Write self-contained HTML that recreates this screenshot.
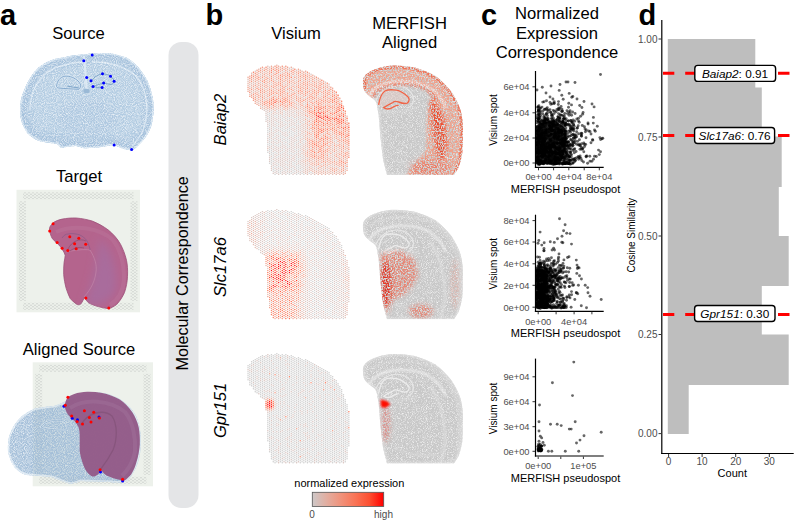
<!DOCTYPE html>
<html><head><meta charset="utf-8">
<style>
html,body{margin:0;padding:0;background:#fff;}
body{width:800px;height:522px;overflow:hidden;position:relative;font-family:"Liberation Sans",sans-serif;}
svg{position:absolute;left:0;top:0;}
.t{font-family:"Liberation Sans",sans-serif;fill:#000;}
.pl{font-weight:bold;font-size:29px;}
.h{font-size:16.6px;}
.ax{font-size:10px;fill:#4d4d4d;}
.axc{font-size:9.3px;fill:#4d4d4d;}
.at{font-size:11px;}
</style></head><body>
<svg width="800" height="522" viewBox="0 0 800 522">
<!-- panel labels -->
<text class="t pl" x="0" y="25">a</text>
<text class="t pl" x="205.6" y="25.4">b</text>
<text class="t pl" x="481" y="25">c</text>
<text class="t pl" x="638.6" y="25.4">d</text>

<!-- panel a titles -->
<text class="t h" x="78.5" y="39.3" text-anchor="middle">Source</text>
<text class="t h" x="79" y="182" text-anchor="middle">Target</text>
<text class="t h" x="79" y="354.5" text-anchor="middle">Aligned Source</text>

<!-- pill -->
<rect x="168.5" y="42" width="30" height="466" rx="13" ry="13" fill="#e4e5e7"/>
<text class="t" font-size="16.2" transform="translate(187.9,273.4) rotate(-90)" text-anchor="middle">Molecular Correspondence</text>

<!-- panel b titles -->
<text class="t h" x="296" y="38.8" text-anchor="middle">Visium</text>
<text class="t h" x="409.6" y="29" text-anchor="middle">MERFISH</text>
<text class="t h" x="409.6" y="48.4" text-anchor="middle">Aligned</text>
<text class="t h" font-style="italic" transform="translate(226,119.6) rotate(-90)" text-anchor="middle">Baiap2</text>
<text class="t h" font-style="italic" transform="translate(226,267) rotate(-90)" text-anchor="middle">Slc17a6</text>
<text class="t h" font-style="italic" transform="translate(226,410.4) rotate(-90)" text-anchor="middle">Gpr151</text>

<!-- panel c title -->
<text class="t h" x="557" y="19.4" text-anchor="middle">Normalized</text>
<text class="t h" x="557" y="39" text-anchor="middle">Expression</text>
<text class="t h" x="557" y="58.3" text-anchor="middle">Correspondence</text>


<g id="pa">
<defs><pattern id="fidp" width="4.0" height="3.0" patternUnits="userSpaceOnUse"><circle cx="1" cy="0.75" r="0.75" fill="#c9cdc9"/><circle cx="3" cy="2.25" r="0.75" fill="#c9cdc9"/></pattern>
<filter id="speckA" x="0" y="0" width="100%" height="100%" filterUnits="objectBoundingBox"><feTurbulence type="fractalNoise" baseFrequency="1.1" numOctaves="1" seed="9" result="n"/><feColorMatrix in="n" type="matrix" values="0 0 0 0 0  0 0 0 0 0  0 0 0 0 0  1.8 0 0 0 -0.1" result="a"/><feComposite in="SourceGraphic" in2="a" operator="in"/></filter>
<filter id="blS" x="-50%" y="-50%" width="200%" height="200%"><feGaussianBlur stdDeviation="3"/></filter>
<filter id="blS1" x="-50%" y="-50%" width="200%" height="200%"><feGaussianBlur stdDeviation="0.6"/></filter>
<clipPath id="tgtclip"><path d="M51.1,225.1 C49.5,227 49.3,229 49.7,231.1 C50.2,234 51,236 52.1,238.2 C53.5,240 55,241.5 57.1,243.2 C59,245 61,247 62.1,249.2 C63.5,251 64.5,253 65.2,255.3 C65,258 64.5,260 64.1,262.3 C63.7,266 63.6,270 63.7,274.4 C64,279 65,284 66.2,288.5 C67.5,292 68.5,295.5 70.2,298.5 C72.5,301 74.5,303 77.2,304.6 C79,304.8 80.5,304.5 81.2,303.6 C82.5,301.5 83.5,299.5 84.3,297.5 C85.5,299.5 86.8,301 88.3,302.6 C91.5,304.5 95,305.8 98.4,306.6 C102,307.6 105,308.3 108.4,308.6 C111.5,307.8 114,306.5 116.5,304.6 C120,301 122.5,297 124.5,292.5 C126.3,287 127.3,282 127.5,276.4 C127.8,270 127.5,265 126.5,260.3 C125,254 123,249 120.5,244.2 C117,238 113,234 108.4,230.1 C103,226 98,223.5 92.3,221.1 C87,219.5 82,218.5 76.2,218 C71,217.8 66.5,218.3 62.1,219.1 C59,219.8 56.5,220.7 54.1,222.1 C53,223 52,224 51.1,225.1 Z"/></clipPath>
<filter id="blA" x="-50%" y="-50%" width="200%" height="200%"><feGaussianBlur stdDeviation="4"/></filter>
<clipPath id="srcclip"><path d="M34,72.4 C40,65 46.6,61.8 55,59 C60,57.8 63.4,57.6 70,56 C76,54.5 82.4,54.5 93,53.4 C100,53 106,53 111.6,53.4 C118,54.5 122,56 126.3,57.6 C132,61 136,64.5 139,68.2 C143,73 145.5,77 147.4,80.8 C150,87 151.8,92 152.6,97.6 C153.5,102 153.8,105 153.7,108.2 C153.5,114 152.8,119 151.6,125 C150,130 148,134 145.3,137.6 C142,142 139,145 136.8,147 C134.5,149 133,150 131.6,150.3 C128,150 125,149.5 122,148.2 C119,147 116.5,146 113.7,145 C109,145.2 105,146.5 101,147 C95,147.8 90,148.3 84.2,148.2 C80,147 78,146.5 76,146 C70,146 66,147 61.3,148 C59.5,146 58.5,144.8 57,144 C50,143 44,142.2 38.2,140.8 C34,138.5 30.5,136 27.6,133.4 C24.5,129 22.5,125 21.3,120.8 C20,115 19.8,109 20.3,104 C21,98 23,92 25.5,87 C28,81 31,76 34,72.4 Z"/></clipPath>
<clipPath id="alnclip"><path d="M64.3,402 C60,404 56.5,405 53.6,406 C47,406.5 41,407.5 34.9,408.6 C28,411.5 23,415 18.8,419.3 C14.5,424 11.5,429.5 9.4,435.4 C8,440.5 7.7,446 8,451.5 C9,457 11.3,462.5 14.7,467.6 C17.5,470.5 20.5,472.8 24.1,474.3 C27.5,475.3 31,475.6 34.9,475.6 C40,476 45.5,476.4 51,477 C54.5,478 58,479.5 61.7,481 C64.5,482.2 67.5,483.2 71,483.7 C74,483.3 77.5,482.3 80.4,481 L110,482 C118,483 124,483 128,480 C135,472 140,462 141,444 C141,428 138,418 133,411 C126,402 118,397 108,394 C95,391 82,393 74,396 C70,398 67,400 64.3,402 Z"/></clipPath></defs>
<g filter="url(#speckA)"><g clip-path="url(#srcclip)">
<rect x="15" y="50" width="145" height="105" fill="#b3cce2"/>
<path d="M34,72.4 C40,65 46.6,61.8 55,59 C60,57.8 63.4,57.6 70,56 C76,54.5 82.4,54.5 93,53.4 C100,53 106,53 111.6,53.4 C118,54.5 122,56 126.3,57.6 C132,61 136,64.5 139,68.2 C143,73 145.5,77 147.4,80.8 C150,87 151.8,92 152.6,97.6 C153.5,102 153.8,105 153.7,108.2 C153.5,114 152.8,119 151.6,125 C150,130 148,134 145.3,137.6 C142,142 139,145 136.8,147 C134.5,149 133,150 131.6,150.3 C128,150 125,149.5 122,148.2 C119,147 116.5,146 113.7,145 C109,145.2 105,146.5 101,147 C95,147.8 90,148.3 84.2,148.2 C80,147 78,146.5 76,146 C70,146 66,147 61.3,148 C59.5,146 58.5,144.8 57,144 C50,143 44,142.2 38.2,140.8 C34,138.5 30.5,136 27.6,133.4 C24.5,129 22.5,125 21.3,120.8 C20,115 19.8,109 20.3,104 C21,98 23,92 25.5,87 C28,81 31,76 34,72.4 Z" fill="none" stroke="#a5c1dc" stroke-width="18" filter="url(#blS)"/>
<path d="M34,72.4 C40,65 46.6,61.8 55,59 C60,57.8 63.4,57.6 70,56 C76,54.5 82.4,54.5 93,53.4 C100,53 106,53 111.6,53.4 C118,54.5 122,56 126.3,57.6 C132,61 136,64.5 139,68.2 C143,73 145.5,77 147.4,80.8 C150,87 151.8,92 152.6,97.6 C153.5,102 153.8,105 153.7,108.2 C153.5,114 152.8,119 151.6,125 C150,130 148,134 145.3,137.6 C142,142 139,145 136.8,147 C134.5,149 133,150 131.6,150.3 C128,150 125,149.5 122,148.2 C119,147 116.5,146 113.7,145 C109,145.2 105,146.5 101,147 C95,147.8 90,148.3 84.2,148.2 C80,147 78,146.5 76,146 C70,146 66,147 61.3,148 C59.5,146 58.5,144.8 57,144 C50,143 44,142.2 38.2,140.8 C34,138.5 30.5,136 27.6,133.4 C24.5,129 22.5,125 21.3,120.8 C20,115 19.8,109 20.3,104 C21,98 23,92 25.5,87 C28,81 31,76 34,72.4 Z" fill="none" stroke="#cfe0ef" stroke-width="2.5"/>
<path d="M30,110 C30,90 40,75 55,68 C70,62 82,62 86,62 M92,62 C110,62 125,66 136,76 C146,88 148,105 146,120 C144,132 138,140 132,146" fill="none" stroke="#d2e2f0" stroke-width="1.3" filter="url(#blS1)"/>
<ellipse cx="88" cy="118" rx="30" ry="18" fill="#a9c4de" fill-opacity="0.5" filter="url(#blS)"/>
</g></g>
<path d="M84.1,56 L86.7,89" stroke="#dce9f4" stroke-width="2.2" fill="none"/>
<path d="M56.6,86.2 C57,81 60,77 64.9,76.2 C70,75.8 75,78 78,81 C80,83 81,85 80.6,86.2 C80,88.5 79,89.3 78.9,89.3 C72,89 64,88.6 58.7,88 C57,87.6 56.5,87 56.6,86.2 Z" fill="none" stroke="#d9e7f3" stroke-width="2.2"/>
<path d="M56.6,86.2 C57,81 60,77 64.9,76.2 C70,75.8 75,78 78,81 C80,83 81,85 80.6,86.2 C80,88.5 79,89.3 78.9,89.3 C72,89 64,88.6 58.7,88 C57,87.6 56.5,87 56.6,86.2 Z" fill="none" stroke="#7aa2c8" stroke-width="0.9"/>
<path d="M67.5,86.2 L78.9,88" fill="none" stroke="#78a0c6" stroke-width="0.9"/>
<path d="M91.1,81 C94,77 97,75.5 102.5,73.6 C106,74 109,75 110.4,76.2 C112.5,78 114,80 114.3,81.4 C113,83.5 112,84.5 111.2,84.5 C108,84 106,83.5 103.4,83.2 C100,84 96,85.5 93.3,86.2 C96,87.5 99,88 101.6,87.6" fill="none" stroke="#78a0c6" stroke-width="0.9"/>
<ellipse cx="86.5" cy="91" rx="3.2" ry="2.2" fill="#9ab9d6"/>
<circle cx="92.2" cy="54.9" r="1.5" fill="#0000ff"/>
<circle cx="83.8" cy="60.8" r="1.5" fill="#0000ff"/>
<circle cx="86.7" cy="77.6" r="1.5" fill="#0000ff"/>
<circle cx="91" cy="80.8" r="1.5" fill="#0000ff"/>
<circle cx="93" cy="86.5" r="1.5" fill="#0000ff"/>
<circle cx="102.1" cy="87.5" r="1.5" fill="#0000ff"/>
<circle cx="103.6" cy="82.9" r="1.5" fill="#0000ff"/>
<circle cx="102.5" cy="73.8" r="1.5" fill="#0000ff"/>
<circle cx="110.5" cy="76.2" r="1.5" fill="#0000ff"/>
<circle cx="114.1" cy="81.2" r="1.5" fill="#0000ff"/>
<circle cx="114.1" cy="145" r="1.5" fill="#0000ff"/>
<circle cx="131.6" cy="149.6" r="1.5" fill="#0000ff"/>
<rect x="16.5" y="189.8" width="123.5" height="122.5" fill="#edf1eb"/>
<rect x="23.0" y="192.3" width="110.5" height="7" fill="url(#fidp)"/>
<rect x="23.0" y="302.8" width="110.5" height="7" fill="url(#fidp)"/>
<rect x="19.0" y="201.3" width="7" height="99.5" fill="url(#fidp)"/>
<rect x="130.5" y="201.3" width="7" height="99.5" fill="url(#fidp)"/>
<path d="M51.1,225.1 C49.5,227 49.3,229 49.7,231.1 C50.2,234 51,236 52.1,238.2 C53.5,240 55,241.5 57.1,243.2 C59,245 61,247 62.1,249.2 C63.5,251 64.5,253 65.2,255.3 C65,258 64.5,260 64.1,262.3 C63.7,266 63.6,270 63.7,274.4 C64,279 65,284 66.2,288.5 C67.5,292 68.5,295.5 70.2,298.5 C72.5,301 74.5,303 77.2,304.6 C79,304.8 80.5,304.5 81.2,303.6 C82.5,301.5 83.5,299.5 84.3,297.5 C85.5,299.5 86.8,301 88.3,302.6 C91.5,304.5 95,305.8 98.4,306.6 C102,307.6 105,308.3 108.4,308.6 C111.5,307.8 114,306.5 116.5,304.6 C120,301 122.5,297 124.5,292.5 C126.3,287 127.3,282 127.5,276.4 C127.8,270 127.5,265 126.5,260.3 C125,254 123,249 120.5,244.2 C117,238 113,234 108.4,230.1 C103,226 98,223.5 92.3,221.1 C87,219.5 82,218.5 76.2,218 C71,217.8 66.5,218.3 62.1,219.1 C59,219.8 56.5,220.7 54.1,222.1 C53,223 52,224 51.1,225.1 Z" fill="#b4648d" stroke="#9c5079" stroke-width="0.8"/>
<g clip-path="url(#tgtclip)"><path d="M100,238 C112,250 118,270 116,290 C112,300 100,308 84,306 C90,290 95,270 97,255 Z" fill="#a96c9c" filter="url(#blA)"/></g>
<path d="M56,232 C75,224 100,228 113,240 C121,250 124,265 124,280 C123,292 118,300 110,305" fill="none" stroke="#bd7ca0" stroke-width="4" stroke-opacity="0.35"/>
<path d="M66,252 C75,250 84,249 90,250 C95,258 97,265 96,272 C95,280 92,288 84,297" fill="none" stroke="#c58aab" stroke-width="1.0" stroke-opacity="0.6"/>
<path d="M62,238 C64,235 66,234 68,234 C72,233 77,234 80,235 C84,237 87,240 88,243 C89,246 90,248 90,250" fill="none" stroke="#8f5a88" stroke-width="1.0" stroke-opacity="0.8"/>
<path d="M68,249 C72,241 80,238 86,241 M70,251 C75,247 80,247 84,248" fill="none" stroke="#8f4f75" stroke-width="0.8"/>
<circle cx="53.1" cy="223.7" r="1.5" fill="#ff0000"/>
<circle cx="49.7" cy="231.1" r="1.5" fill="#ff0000"/>
<circle cx="57.1" cy="242.6" r="1.5" fill="#ff0000"/>
<circle cx="62.1" cy="248.2" r="1.5" fill="#ff0000"/>
<circle cx="67.8" cy="250.6" r="1.5" fill="#ff0000"/>
<circle cx="69.8" cy="236.8" r="1.5" fill="#ff0000"/>
<circle cx="78.8" cy="238.2" r="1.5" fill="#ff0000"/>
<circle cx="74.6" cy="243.8" r="1.5" fill="#ff0000"/>
<circle cx="76.2" cy="248.8" r="1.5" fill="#ff0000"/>
<circle cx="85.7" cy="244.2" r="1.5" fill="#ff0000"/>
<circle cx="85.9" cy="297.9" r="1.5" fill="#ff0000"/>
<circle cx="108.8" cy="308" r="1.5" fill="#ff0000"/>
<rect x="32.7" y="362.3" width="120.3" height="124" fill="#edf1eb"/>
<rect x="39.2" y="364.8" width="107.3" height="7" fill="url(#fidp)"/>
<rect x="39.2" y="476.8" width="107.3" height="7" fill="url(#fidp)"/>
<rect x="35.2" y="373.8" width="7" height="101.0" fill="url(#fidp)"/>
<rect x="143.5" y="373.8" width="7" height="101.0" fill="url(#fidp)"/>
<g filter="url(#speckA)" opacity="0.9"><g clip-path="url(#alnclip)">
<rect x="5" y="385" width="140" height="105" fill="#9dbad6"/>
<path d="M64.3,402 C60,404 56.5,405 53.6,406 C47,406.5 41,407.5 34.9,408.6 C28,411.5 23,415 18.8,419.3 C14.5,424 11.5,429.5 9.4,435.4 C8,440.5 7.7,446 8,451.5 C9,457 11.3,462.5 14.7,467.6 C17.5,470.5 20.5,472.8 24.1,474.3 C27.5,475.3 31,475.6 34.9,475.6 C40,476 45.5,476.4 51,477 C54.5,478 58,479.5 61.7,481 C64.5,482.2 67.5,483.2 71,483.7 C74,483.3 77.5,482.3 80.4,481 L110,482 C118,483 124,483 128,480 C135,472 140,462 141,444 C141,428 138,418 133,411 C126,402 118,397 108,394 C95,391 82,393 74,396 C70,398 67,400 64.3,402 Z" fill="none" stroke="#d4e3f0" stroke-width="3"/>
</g></g>
<path d="M41,427 C45,421 55,419 64,421 C67,424 68,427 67,430 C58,430 48,430 41,427 Z" fill="none" stroke="#e2ecf4" stroke-width="1.6"/>
<path d="M41,427 C45,421 55,419 64,421 C67,424 68,427 67,430 C58,430 48,430 41,427 Z" fill="none" stroke="#7fa3c4" stroke-width="0.7"/>
<path d="M67.9,397.2 C66,399.5 65,402.5 64.7,405.8 C65,409 66.2,412 67.9,414.4 C70,417 72,419 74.3,420.8 C76,423 77.5,425 78.6,427.2 C79.4,430 79.7,433 79.7,435.8 L79.7,450.9 C80.3,455 81.3,459.5 82.9,463.7 C84,467 85.5,470 87.2,472.3 C89,474.5 90.8,476 92.6,476.6 C94.8,476.5 96.5,475.8 97.9,474.5 C99.5,473 100.5,471.5 101.2,470.2 C102.8,472.3 104.5,474 106.5,475.6 C110.5,477.5 115,479 119.4,479.8 C121,480.5 122.3,480.9 123.7,480.9 C126.5,479.5 129,477 131.2,474.5 C134,470 135.5,466 136.6,461.6 C138.3,456 139.4,450 139.8,444.4 C140,438 139.8,433 138.7,427.2 C137.3,421.5 135,416.5 132.3,412.2 C128.5,406.5 124,402.5 119.4,399.3 C114,396 108,394 102.2,392.9 C97,392 92,391.7 87.2,391.8 C82.5,392 78,392.7 74.3,394 C71.8,395 69.5,396 67.9,397.2 Z" fill="#935a87" fill-opacity="0.96"/>
<path d="M70,408 C85,398 110,400 125,412 C133,422 136,438 135,452 C133,462 128,470 122,476" fill="none" stroke="#a07099" stroke-width="4" stroke-opacity="0.5"/>
<path d="M81,425 C88,412 104,409 112,416 C118,425 117,440 113,450 C108,460 103,466 100,470" fill="none" stroke="#87557d" stroke-width="1.3"/>
<circle cx="64" cy="406.2" r="1.5" fill="#0000ff"/>
<circle cx="72.2" cy="418.2" r="1.5" fill="#0000ff"/>
<circle cx="77.5" cy="419.7" r="1.5" fill="#0000ff"/>
<circle cx="99" cy="417" r="1.5" fill="#0000ff"/>
<circle cx="100.5" cy="471.9" r="1.5" fill="#0000ff"/>
<circle cx="122.6" cy="480.9" r="1.5" fill="#0000ff"/>
<circle cx="67.9" cy="397.2" r="1.5" fill="#ff0000"/>
<circle cx="65.3" cy="405.3" r="1.5" fill="#ff0000"/>
<circle cx="71.7" cy="416" r="1.5" fill="#ff0000"/>
<circle cx="77.1" cy="421.4" r="1.5" fill="#ff0000"/>
<circle cx="82.5" cy="424" r="1.5" fill="#ff0000"/>
<circle cx="84.4" cy="410.7" r="1.5" fill="#ff0000"/>
<circle cx="93.7" cy="412.2" r="1.5" fill="#ff0000"/>
<circle cx="89.4" cy="417.6" r="1.5" fill="#ff0000"/>
<circle cx="91" cy="421.9" r="1.5" fill="#ff0000"/>
<circle cx="99.4" cy="418" r="1.5" fill="#ff0000"/>
<circle cx="100.1" cy="469.8" r="1.5" fill="#ff0000"/>
<circle cx="122.6" cy="479.2" r="1.5" fill="#ff0000"/>
</g>

<g id="pb">
<defs><clipPath id="merclip"><path d="M363,79.5 C364,76 366,73.8 370,71.5 C376,68.5 381,67 389.5,65.7 C398,65 406,66 414.8,67.5 C423,70 430,73 435.5,76 C442,81 447,86 451.6,92 C456,99 459,105 460.7,110.6 C462.5,118 463,124 463,129 L462.5,152 C461,160 460,164 458.4,168 L453.9,175 L387,175 C385,168 383.5,162 382.6,156.6 L380.3,135.9 C379.5,125 379,115 377.4,108.3 C377,104 376,101 374,99.5 C370,97 366,94 364,90 C363,86 362.8,83 363,79.5 Z"/></clipPath>
<filter id="bl3" x="-50%" y="-50%" width="200%" height="200%"><feGaussianBlur stdDeviation="3"/></filter>
<filter id="bl2" x="-50%" y="-50%" width="200%" height="200%"><feGaussianBlur stdDeviation="2"/></filter>
<filter id="bl1" x="-50%" y="-50%" width="200%" height="200%"><feGaussianBlur stdDeviation="1"/></filter>
<filter id="speck" x="0" y="0" width="100%" height="100%" filterUnits="objectBoundingBox"><feTurbulence type="fractalNoise" baseFrequency="1.2" numOctaves="1" seed="4" result="n"/><feColorMatrix in="n" type="matrix" values="0 0 0 0 0  0 0 0 0 0  0 0 0 0 0  2.2 0 0 0 -0.2" result="a"/><feComposite in="SourceGraphic" in2="a" operator="in"/></filter>
<filter id="speckR" x="355" y="60" width="115" height="120" filterUnits="userSpaceOnUse"><feTurbulence type="fractalNoise" baseFrequency="0.67" numOctaves="2" seed="17" result="n"/><feColorMatrix in="n" type="matrix" values="0 0 0 0 0  0 0 0 0 0  0 0 0 0 0  4.5 0 0 0 -1.7" result="a"/><feComposite in="SourceGraphic" in2="a" operator="in"/></filter></defs>
<g stroke-width="1.45" stroke-linecap="round" fill="none"><path stroke="#d0d0d0" d="M266.0 117.3h.1M266.0 119.3h.1M267.8 114.3h.1M267.8 128.3h.1M267.8 130.3h.1M267.8 132.3h.1M267.8 136.3h.1M267.8 144.3h.1M267.8 152.3h.1M269.6 113.3h.1M269.6 115.3h.1M269.6 117.3h.1M269.6 119.3h.1M269.6 123.3h.1M269.6 125.3h.1M269.6 127.3h.1M269.6 131.3h.1M269.6 139.3h.1M269.6 141.3h.1M269.6 143.3h.1M269.6 145.3h.1M269.6 149.3h.1M269.6 151.3h.1M269.6 155.3h.1M269.6 163.3h.1M271.4 112.3h.1M271.4 140.3h.1M271.4 144.3h.1M271.4 150.3h.1M271.4 152.3h.1M271.4 154.3h.1M271.4 158.3h.1M271.4 160.3h.1M271.4 162.3h.1M271.4 164.3h.1M273.2 127.3h.1M273.2 129.3h.1M273.2 131.3h.1M273.2 137.3h.1M273.2 147.3h.1M273.2 153.3h.1M273.2 155.3h.1M273.2 157.3h.1M273.2 161.3h.1M273.2 167.3h.1M273.2 169.3h.1M273.2 171.3h.1M275.0 116.3h.1M275.0 122.3h.1M275.0 128.3h.1M275.0 134.3h.1M275.0 136.3h.1M275.0 140.3h.1M275.0 144.3h.1M275.0 152.3h.1M275.0 166.3h.1M275.0 170.3h.1M275.0 174.3h.1M276.8 111.3h.1M276.8 115.3h.1M276.8 117.3h.1M276.8 123.3h.1M276.8 125.3h.1M276.8 127.3h.1M276.8 133.3h.1M276.8 141.3h.1M276.8 145.3h.1M276.8 153.3h.1M276.8 157.3h.1M276.8 163.3h.1M276.8 167.3h.1M278.6 120.3h.1M278.6 124.3h.1M278.6 128.3h.1M278.6 132.3h.1M278.6 134.3h.1M278.6 138.3h.1M278.6 144.3h.1M278.6 146.3h.1M278.6 156.3h.1M278.6 164.3h.1M278.6 166.3h.1M278.6 170.3h.1M278.6 172.3h.1M280.4 115.3h.1M280.4 117.3h.1M280.4 129.3h.1M280.4 133.3h.1M280.4 135.3h.1M280.4 137.3h.1M280.4 143.3h.1M280.4 145.3h.1M280.4 149.3h.1M280.4 153.3h.1M280.4 167.3h.1M280.4 171.3h.1M280.4 173.3h.1M282.2 118.3h.1M282.2 120.3h.1M282.2 128.3h.1M282.2 130.3h.1M282.2 136.3h.1M282.2 138.3h.1M282.2 140.3h.1M282.2 152.3h.1M282.2 156.3h.1M282.2 168.3h.1M282.2 170.3h.1M284.0 111.3h.1M284.0 113.3h.1M284.0 115.3h.1M284.0 119.3h.1M284.0 121.3h.1M284.0 123.3h.1M284.0 127.3h.1M284.0 129.3h.1M284.0 131.3h.1M284.0 137.3h.1M284.0 141.3h.1M284.0 143.3h.1M284.0 149.3h.1M284.0 151.3h.1M285.8 122.3h.1M285.8 126.3h.1M285.8 130.3h.1M285.8 138.3h.1M285.8 140.3h.1M285.8 144.3h.1M285.8 162.3h.1M285.8 166.3h.1M285.8 170.3h.1M287.6 117.3h.1M287.6 119.3h.1M287.6 123.3h.1M287.6 125.3h.1M287.6 129.3h.1M287.6 131.3h.1M287.6 133.3h.1M287.6 137.3h.1M287.6 139.3h.1M287.6 141.3h.1M287.6 143.3h.1M287.6 145.3h.1M287.6 147.3h.1M287.6 153.3h.1M287.6 157.3h.1M287.6 163.3h.1M287.6 167.3h.1M287.6 173.3h.1M289.4 118.3h.1M289.4 122.3h.1M289.4 128.3h.1M289.4 130.3h.1M289.4 134.3h.1M289.4 136.3h.1M289.4 140.3h.1M289.4 142.3h.1M289.4 146.3h.1M289.4 150.3h.1M289.4 152.3h.1M289.4 154.3h.1M289.4 160.3h.1M289.4 170.3h.1M289.4 174.3h.1M291.2 117.3h.1M291.2 127.3h.1M291.2 131.3h.1M291.2 133.3h.1M291.2 135.3h.1M291.2 153.3h.1M291.2 157.3h.1M291.2 169.3h.1M291.2 173.3h.1M293.0 118.3h.1M293.0 126.3h.1M293.0 132.3h.1M293.0 134.3h.1M293.0 136.3h.1M293.0 154.3h.1M293.0 162.3h.1M293.0 164.3h.1M293.0 168.3h.1M293.0 170.3h.1M293.0 172.3h.1M294.8 113.3h.1M294.8 119.3h.1M294.8 121.3h.1M294.8 127.3h.1M294.8 133.3h.1M294.8 143.3h.1M294.8 145.3h.1M294.8 149.3h.1M294.8 153.3h.1M294.8 163.3h.1M294.8 165.3h.1M294.8 171.3h.1M296.6 118.3h.1M296.6 124.3h.1M296.6 130.3h.1M296.6 132.3h.1M296.6 134.3h.1M296.6 138.3h.1M296.6 142.3h.1M296.6 150.3h.1M296.6 152.3h.1M296.6 156.3h.1M296.6 158.3h.1M296.6 160.3h.1M296.6 162.3h.1M296.6 166.3h.1M296.6 168.3h.1M296.6 174.3h.1M298.4 121.3h.1M298.4 123.3h.1M298.4 137.3h.1M298.4 139.3h.1M298.4 141.3h.1M298.4 149.3h.1M298.4 159.3h.1M298.4 165.3h.1M298.4 167.3h.1M298.4 169.3h.1M298.4 173.3h.1M300.2 124.3h.1M300.2 132.3h.1M300.2 144.3h.1M300.2 152.3h.1M300.2 158.3h.1M300.2 166.3h.1M300.2 170.3h.1M302.0 137.3h.1M302.0 155.3h.1M302.0 169.3h.1M302.0 173.3h.1M303.8 122.3h.1M303.8 140.3h.1M303.8 142.3h.1M303.8 174.3h.1M309.2 173.3h.1M311.0 172.3h.1M336.2 140.3h.1M339.8 168.3h.1"/>
<path stroke="#d9c5c0" d="M249.8 86.3h.1M255.2 71.3h.1M260.6 74.3h.1M260.6 82.3h.1M260.6 98.3h.1M260.6 106.3h.1M262.4 109.3h.1M264.2 100.3h.1M264.2 110.3h.1M266.0 111.3h.1M266.0 113.3h.1M266.0 115.3h.1M266.0 121.3h.1M267.8 110.3h.1M267.8 112.3h.1M267.8 116.3h.1M267.8 118.3h.1M267.8 120.3h.1M267.8 122.3h.1M267.8 124.3h.1M267.8 126.3h.1M267.8 134.3h.1M267.8 138.3h.1M267.8 140.3h.1M267.8 142.3h.1M267.8 146.3h.1M267.8 150.3h.1M269.6 67.3h.1M269.6 121.3h.1M269.6 129.3h.1M269.6 133.3h.1M269.6 135.3h.1M269.6 137.3h.1M269.6 147.3h.1M269.6 153.3h.1M269.6 157.3h.1M269.6 159.3h.1M269.6 161.3h.1M271.4 84.3h.1M271.4 106.3h.1M271.4 110.3h.1M271.4 114.3h.1M271.4 116.3h.1M271.4 118.3h.1M271.4 120.3h.1M271.4 122.3h.1M271.4 124.3h.1M271.4 126.3h.1M271.4 128.3h.1M271.4 130.3h.1M271.4 132.3h.1M271.4 134.3h.1M271.4 136.3h.1M271.4 138.3h.1M271.4 142.3h.1M271.4 146.3h.1M271.4 148.3h.1M271.4 156.3h.1M271.4 166.3h.1M271.4 168.3h.1M271.4 170.3h.1M273.2 111.3h.1M273.2 115.3h.1M273.2 117.3h.1M273.2 119.3h.1M273.2 121.3h.1M273.2 123.3h.1M273.2 125.3h.1M273.2 133.3h.1M273.2 135.3h.1M273.2 139.3h.1M273.2 141.3h.1M273.2 143.3h.1M273.2 145.3h.1M273.2 149.3h.1M273.2 151.3h.1M273.2 159.3h.1M273.2 163.3h.1M273.2 165.3h.1M273.2 173.3h.1M275.0 114.3h.1M275.0 118.3h.1M275.0 120.3h.1M275.0 124.3h.1M275.0 126.3h.1M275.0 130.3h.1M275.0 132.3h.1M275.0 138.3h.1M275.0 142.3h.1M275.0 146.3h.1M275.0 148.3h.1M275.0 150.3h.1M275.0 154.3h.1M275.0 156.3h.1M275.0 158.3h.1M275.0 160.3h.1M275.0 162.3h.1M275.0 164.3h.1M275.0 168.3h.1M275.0 172.3h.1M276.8 95.3h.1M276.8 113.3h.1M276.8 119.3h.1M276.8 121.3h.1M276.8 129.3h.1M276.8 131.3h.1M276.8 135.3h.1M276.8 137.3h.1M276.8 139.3h.1M276.8 143.3h.1M276.8 147.3h.1M276.8 149.3h.1M276.8 151.3h.1M276.8 155.3h.1M276.8 159.3h.1M276.8 161.3h.1M276.8 165.3h.1M276.8 169.3h.1M276.8 171.3h.1M276.8 173.3h.1M278.6 110.3h.1M278.6 112.3h.1M278.6 114.3h.1M278.6 116.3h.1M278.6 118.3h.1M278.6 122.3h.1M278.6 126.3h.1M278.6 130.3h.1M278.6 136.3h.1M278.6 140.3h.1M278.6 142.3h.1M278.6 148.3h.1M278.6 150.3h.1M278.6 152.3h.1M278.6 154.3h.1M278.6 158.3h.1M278.6 160.3h.1M278.6 162.3h.1M278.6 168.3h.1M278.6 174.3h.1M280.4 73.3h.1M280.4 119.3h.1M280.4 121.3h.1M280.4 123.3h.1M280.4 125.3h.1M280.4 127.3h.1M280.4 131.3h.1M280.4 139.3h.1M280.4 141.3h.1M280.4 147.3h.1M280.4 151.3h.1M280.4 155.3h.1M280.4 157.3h.1M280.4 159.3h.1M280.4 161.3h.1M280.4 163.3h.1M280.4 165.3h.1M280.4 169.3h.1M282.2 108.3h.1M282.2 110.3h.1M282.2 116.3h.1M282.2 122.3h.1M282.2 124.3h.1M282.2 126.3h.1M282.2 132.3h.1M282.2 134.3h.1M282.2 142.3h.1M282.2 144.3h.1M282.2 146.3h.1M282.2 148.3h.1M282.2 150.3h.1M282.2 154.3h.1M282.2 158.3h.1M282.2 160.3h.1M282.2 162.3h.1M282.2 164.3h.1M282.2 166.3h.1M282.2 172.3h.1M282.2 174.3h.1M284.0 71.3h.1M284.0 117.3h.1M284.0 125.3h.1M284.0 133.3h.1M284.0 135.3h.1M284.0 139.3h.1M284.0 145.3h.1M284.0 147.3h.1M284.0 153.3h.1M284.0 155.3h.1M284.0 157.3h.1M284.0 159.3h.1M284.0 161.3h.1M284.0 163.3h.1M284.0 165.3h.1M284.0 167.3h.1M284.0 169.3h.1M284.0 171.3h.1M284.0 173.3h.1M285.8 112.3h.1M285.8 114.3h.1M285.8 116.3h.1M285.8 118.3h.1M285.8 120.3h.1M285.8 124.3h.1M285.8 128.3h.1M285.8 132.3h.1M285.8 134.3h.1M285.8 136.3h.1M285.8 142.3h.1M285.8 146.3h.1M285.8 148.3h.1M285.8 150.3h.1M285.8 152.3h.1M285.8 154.3h.1M285.8 156.3h.1M285.8 158.3h.1M285.8 160.3h.1M285.8 164.3h.1M285.8 168.3h.1M285.8 172.3h.1M285.8 174.3h.1M287.6 91.3h.1M287.6 111.3h.1M287.6 113.3h.1M287.6 115.3h.1M287.6 121.3h.1M287.6 127.3h.1M287.6 135.3h.1M287.6 149.3h.1M287.6 151.3h.1M287.6 155.3h.1M287.6 159.3h.1M287.6 161.3h.1M287.6 165.3h.1M287.6 169.3h.1M287.6 171.3h.1M289.4 68.3h.1M289.4 94.3h.1M289.4 110.3h.1M289.4 112.3h.1M289.4 114.3h.1M289.4 120.3h.1M289.4 124.3h.1M289.4 126.3h.1M289.4 132.3h.1M289.4 138.3h.1M289.4 144.3h.1M289.4 148.3h.1M289.4 156.3h.1M289.4 158.3h.1M289.4 162.3h.1M289.4 164.3h.1M289.4 166.3h.1M289.4 168.3h.1M289.4 172.3h.1M291.2 111.3h.1M291.2 113.3h.1M291.2 115.3h.1M291.2 119.3h.1M291.2 121.3h.1M291.2 123.3h.1M291.2 125.3h.1M291.2 129.3h.1M291.2 137.3h.1M291.2 139.3h.1M291.2 141.3h.1M291.2 143.3h.1M291.2 145.3h.1M291.2 147.3h.1M291.2 149.3h.1M291.2 151.3h.1M291.2 155.3h.1M291.2 159.3h.1M291.2 161.3h.1M291.2 163.3h.1M291.2 165.3h.1M291.2 167.3h.1M291.2 171.3h.1M293.0 68.3h.1M293.0 76.3h.1M293.0 110.3h.1M293.0 114.3h.1M293.0 116.3h.1M293.0 120.3h.1M293.0 122.3h.1M293.0 124.3h.1M293.0 128.3h.1M293.0 130.3h.1M293.0 138.3h.1M293.0 140.3h.1M293.0 142.3h.1M293.0 144.3h.1M293.0 146.3h.1M293.0 148.3h.1M293.0 150.3h.1M293.0 152.3h.1M293.0 156.3h.1M293.0 160.3h.1M293.0 166.3h.1M293.0 174.3h.1M294.8 75.3h.1M294.8 85.3h.1M294.8 101.3h.1M294.8 111.3h.1M294.8 115.3h.1M294.8 123.3h.1M294.8 125.3h.1M294.8 129.3h.1M294.8 131.3h.1M294.8 135.3h.1M294.8 137.3h.1M294.8 139.3h.1M294.8 141.3h.1M294.8 147.3h.1M294.8 151.3h.1M294.8 155.3h.1M294.8 157.3h.1M294.8 159.3h.1M294.8 161.3h.1M294.8 167.3h.1M294.8 169.3h.1M294.8 173.3h.1M296.6 70.3h.1M296.6 80.3h.1M296.6 102.3h.1M296.6 110.3h.1M296.6 114.3h.1M296.6 116.3h.1M296.6 120.3h.1M296.6 122.3h.1M296.6 126.3h.1M296.6 128.3h.1M296.6 136.3h.1M296.6 140.3h.1M296.6 144.3h.1M296.6 146.3h.1M296.6 148.3h.1M296.6 154.3h.1M296.6 164.3h.1M296.6 170.3h.1M296.6 172.3h.1M298.4 107.3h.1M298.4 111.3h.1M298.4 117.3h.1M298.4 119.3h.1M298.4 125.3h.1M298.4 127.3h.1M298.4 129.3h.1M298.4 131.3h.1M298.4 133.3h.1M298.4 135.3h.1M298.4 143.3h.1M298.4 145.3h.1M298.4 147.3h.1M298.4 151.3h.1M298.4 153.3h.1M298.4 155.3h.1M298.4 157.3h.1M298.4 161.3h.1M298.4 163.3h.1M298.4 171.3h.1M300.2 110.3h.1M300.2 114.3h.1M300.2 116.3h.1M300.2 118.3h.1M300.2 120.3h.1M300.2 126.3h.1M300.2 128.3h.1M300.2 130.3h.1M300.2 134.3h.1M300.2 136.3h.1M300.2 138.3h.1M300.2 146.3h.1M300.2 148.3h.1M300.2 150.3h.1M300.2 154.3h.1M300.2 156.3h.1M300.2 160.3h.1M300.2 162.3h.1M300.2 164.3h.1M300.2 168.3h.1M300.2 172.3h.1M300.2 174.3h.1M302.0 111.3h.1M302.0 117.3h.1M302.0 119.3h.1M302.0 121.3h.1M302.0 123.3h.1M302.0 127.3h.1M302.0 129.3h.1M302.0 135.3h.1M302.0 141.3h.1M302.0 143.3h.1M302.0 145.3h.1M302.0 147.3h.1M302.0 151.3h.1M302.0 157.3h.1M302.0 159.3h.1M302.0 163.3h.1M302.0 165.3h.1M302.0 167.3h.1M302.0 171.3h.1M303.8 104.3h.1M303.8 116.3h.1M303.8 118.3h.1M303.8 130.3h.1M303.8 134.3h.1M303.8 144.3h.1M303.8 156.3h.1M303.8 158.3h.1M303.8 164.3h.1M303.8 166.3h.1M303.8 168.3h.1M303.8 170.3h.1M305.6 97.3h.1M305.6 103.3h.1M305.6 117.3h.1M305.6 125.3h.1M305.6 127.3h.1M305.6 129.3h.1M305.6 133.3h.1M305.6 141.3h.1M305.6 149.3h.1M305.6 167.3h.1M307.4 118.3h.1M307.4 130.3h.1M307.4 148.3h.1M307.4 158.3h.1M307.4 162.3h.1M307.4 166.3h.1M307.4 168.3h.1M309.2 103.3h.1M309.2 119.3h.1M309.2 123.3h.1M309.2 127.3h.1M309.2 165.3h.1M311.0 74.3h.1M311.0 126.3h.1M311.0 130.3h.1M311.0 148.3h.1M311.0 174.3h.1M312.8 135.3h.1M312.8 167.3h.1M312.8 173.3h.1M314.6 80.3h.1M316.4 167.3h.1M316.4 169.3h.1M318.2 166.3h.1M320.0 93.3h.1M320.0 95.3h.1M321.8 90.3h.1M321.8 164.3h.1M323.6 167.3h.1M325.4 82.3h.1M325.4 170.3h.1M327.2 89.3h.1M327.2 147.3h.1M327.2 163.3h.1M327.2 169.3h.1M329.0 96.3h.1M329.0 144.3h.1M329.0 154.3h.1M329.0 156.3h.1M329.0 166.3h.1M332.6 136.3h.1M332.6 144.3h.1M332.6 146.3h.1M332.6 154.3h.1M332.6 156.3h.1M332.6 160.3h.1M332.6 166.3h.1M334.4 141.3h.1M334.4 153.3h.1M336.2 142.3h.1M336.2 158.3h.1M336.2 160.3h.1M336.2 166.3h.1M338.0 143.3h.1M345.2 145.3h.1M345.2 151.3h.1M345.2 167.3h.1M347.0 168.3h.1"/>
<path stroke="#e1bbb1" d="M248.0 79.3h.1M248.0 81.3h.1M249.8 84.3h.1M249.8 94.3h.1M251.6 73.3h.1M251.6 83.3h.1M251.6 91.3h.1M251.6 93.3h.1M253.4 74.3h.1M253.4 80.3h.1M253.4 82.3h.1M253.4 84.3h.1M253.4 88.3h.1M253.4 92.3h.1M255.2 87.3h.1M255.2 91.3h.1M257.0 82.3h.1M257.0 84.3h.1M257.0 98.3h.1M257.0 102.3h.1M258.8 75.3h.1M258.8 87.3h.1M258.8 91.3h.1M258.8 93.3h.1M258.8 103.3h.1M260.6 76.3h.1M262.4 69.3h.1M262.4 79.3h.1M262.4 83.3h.1M262.4 87.3h.1M262.4 107.3h.1M264.2 68.3h.1M264.2 72.3h.1M264.2 78.3h.1M264.2 84.3h.1M264.2 88.3h.1M264.2 94.3h.1M264.2 106.3h.1M266.0 75.3h.1M266.0 89.3h.1M266.0 95.3h.1M266.0 97.3h.1M266.0 109.3h.1M267.8 66.3h.1M267.8 72.3h.1M267.8 76.3h.1M267.8 80.3h.1M267.8 84.3h.1M267.8 88.3h.1M267.8 92.3h.1M267.8 98.3h.1M267.8 148.3h.1M269.6 69.3h.1M269.6 77.3h.1M269.6 85.3h.1M269.6 97.3h.1M269.6 109.3h.1M269.6 111.3h.1M271.4 74.3h.1M271.4 82.3h.1M271.4 88.3h.1M271.4 96.3h.1M273.2 71.3h.1M273.2 95.3h.1M273.2 113.3h.1M275.0 72.3h.1M275.0 78.3h.1M275.0 80.3h.1M275.0 108.3h.1M275.0 112.3h.1M276.8 81.3h.1M276.8 105.3h.1M276.8 109.3h.1M278.6 74.3h.1M278.6 80.3h.1M278.6 88.3h.1M280.4 97.3h.1M280.4 107.3h.1M280.4 109.3h.1M280.4 111.3h.1M280.4 113.3h.1M282.2 72.3h.1M282.2 112.3h.1M282.2 114.3h.1M284.0 67.3h.1M284.0 77.3h.1M284.0 83.3h.1M284.0 85.3h.1M285.8 82.3h.1M285.8 88.3h.1M285.8 90.3h.1M285.8 110.3h.1M287.6 71.3h.1M287.6 87.3h.1M289.4 72.3h.1M289.4 86.3h.1M289.4 108.3h.1M289.4 116.3h.1M291.2 69.3h.1M291.2 75.3h.1M291.2 79.3h.1M291.2 85.3h.1M291.2 91.3h.1M291.2 109.3h.1M293.0 78.3h.1M293.0 88.3h.1M293.0 108.3h.1M293.0 112.3h.1M293.0 158.3h.1M294.8 73.3h.1M294.8 79.3h.1M294.8 81.3h.1M294.8 89.3h.1M294.8 91.3h.1M294.8 99.3h.1M294.8 105.3h.1M294.8 109.3h.1M294.8 117.3h.1M296.6 76.3h.1M296.6 84.3h.1M296.6 92.3h.1M296.6 94.3h.1M296.6 106.3h.1M296.6 112.3h.1M298.4 89.3h.1M298.4 95.3h.1M298.4 103.3h.1M298.4 105.3h.1M298.4 109.3h.1M298.4 113.3h.1M298.4 115.3h.1M300.2 96.3h.1M300.2 112.3h.1M300.2 122.3h.1M300.2 140.3h.1M300.2 142.3h.1M302.0 79.3h.1M302.0 81.3h.1M302.0 95.3h.1M302.0 107.3h.1M302.0 109.3h.1M302.0 113.3h.1M302.0 115.3h.1M302.0 125.3h.1M302.0 131.3h.1M302.0 133.3h.1M302.0 139.3h.1M302.0 149.3h.1M302.0 153.3h.1M302.0 161.3h.1M303.8 90.3h.1M303.8 92.3h.1M303.8 98.3h.1M303.8 102.3h.1M303.8 112.3h.1M303.8 114.3h.1M303.8 120.3h.1M303.8 124.3h.1M303.8 126.3h.1M303.8 128.3h.1M303.8 132.3h.1M303.8 136.3h.1M303.8 138.3h.1M303.8 146.3h.1M303.8 148.3h.1M303.8 152.3h.1M303.8 154.3h.1M303.8 160.3h.1M303.8 162.3h.1M303.8 172.3h.1M305.6 73.3h.1M305.6 105.3h.1M305.6 109.3h.1M305.6 113.3h.1M305.6 121.3h.1M305.6 137.3h.1M305.6 143.3h.1M305.6 145.3h.1M305.6 147.3h.1M305.6 151.3h.1M305.6 157.3h.1M305.6 159.3h.1M305.6 163.3h.1M305.6 165.3h.1M305.6 169.3h.1M305.6 171.3h.1M305.6 173.3h.1M307.4 80.3h.1M307.4 90.3h.1M307.4 96.3h.1M307.4 114.3h.1M307.4 120.3h.1M307.4 136.3h.1M307.4 164.3h.1M307.4 170.3h.1M307.4 172.3h.1M307.4 174.3h.1M309.2 87.3h.1M309.2 117.3h.1M309.2 131.3h.1M309.2 135.3h.1M309.2 137.3h.1M309.2 163.3h.1M309.2 169.3h.1M309.2 171.3h.1M311.0 80.3h.1M311.0 82.3h.1M311.0 92.3h.1M311.0 120.3h.1M311.0 122.3h.1M311.0 132.3h.1M311.0 138.3h.1M311.0 166.3h.1M312.8 101.3h.1M312.8 107.3h.1M312.8 109.3h.1M312.8 133.3h.1M312.8 137.3h.1M312.8 161.3h.1M312.8 169.3h.1M314.6 76.3h.1M314.6 88.3h.1M314.6 100.3h.1M314.6 150.3h.1M314.6 160.3h.1M314.6 166.3h.1M314.6 168.3h.1M314.6 170.3h.1M314.6 174.3h.1M316.4 89.3h.1M316.4 105.3h.1M316.4 151.3h.1M316.4 173.3h.1M318.2 84.3h.1M318.2 96.3h.1M318.2 140.3h.1M318.2 154.3h.1M318.2 170.3h.1M320.0 79.3h.1M320.0 137.3h.1M320.0 161.3h.1M320.0 169.3h.1M321.8 86.3h.1M321.8 134.3h.1M321.8 168.3h.1M321.8 170.3h.1M323.6 105.3h.1M323.6 163.3h.1M323.6 169.3h.1M323.6 173.3h.1M325.4 84.3h.1M325.4 122.3h.1M325.4 132.3h.1M325.4 148.3h.1M325.4 156.3h.1M325.4 160.3h.1M327.2 107.3h.1M327.2 135.3h.1M327.2 167.3h.1M327.2 171.3h.1M327.2 173.3h.1M329.0 84.3h.1M329.0 86.3h.1M329.0 136.3h.1M329.0 140.3h.1M329.0 170.3h.1M329.0 174.3h.1M330.8 91.3h.1M330.8 93.3h.1M330.8 131.3h.1M330.8 133.3h.1M330.8 151.3h.1M330.8 155.3h.1M330.8 165.3h.1M332.6 104.3h.1M332.6 116.3h.1M332.6 140.3h.1M332.6 148.3h.1M332.6 152.3h.1M332.6 158.3h.1M332.6 164.3h.1M332.6 172.3h.1M332.6 174.3h.1M334.4 93.3h.1M334.4 135.3h.1M334.4 139.3h.1M334.4 157.3h.1M334.4 167.3h.1M336.2 144.3h.1M336.2 148.3h.1M336.2 152.3h.1M336.2 172.3h.1M338.0 147.3h.1M338.0 149.3h.1M338.0 151.3h.1M338.0 155.3h.1M338.0 159.3h.1M338.0 167.3h.1M338.0 171.3h.1M339.8 100.3h.1M339.8 102.3h.1M339.8 136.3h.1M339.8 138.3h.1M339.8 150.3h.1M339.8 152.3h.1M339.8 156.3h.1M339.8 170.3h.1M341.6 117.3h.1M341.6 143.3h.1M341.6 157.3h.1M341.6 167.3h.1M341.6 173.3h.1M343.4 112.3h.1M343.4 154.3h.1M343.4 172.3h.1M345.2 159.3h.1M345.2 161.3h.1M345.2 165.3h.1M345.2 169.3h.1M345.2 171.3h.1M347.0 116.3h.1M347.0 150.3h.1M347.0 164.3h.1M348.8 151.3h.1"/>
<path stroke="#e8b0a1" d="M248.0 83.3h.1M248.0 85.3h.1M249.8 80.3h.1M249.8 90.3h.1M251.6 85.3h.1M251.6 87.3h.1M253.4 78.3h.1M253.4 90.3h.1M255.2 83.3h.1M255.2 89.3h.1M255.2 95.3h.1M257.0 90.3h.1M257.0 96.3h.1M258.8 69.3h.1M258.8 73.3h.1M258.8 81.3h.1M258.8 101.3h.1M260.6 78.3h.1M260.6 80.3h.1M260.6 84.3h.1M260.6 94.3h.1M260.6 100.3h.1M260.6 102.3h.1M260.6 104.3h.1M262.4 71.3h.1M262.4 73.3h.1M262.4 75.3h.1M264.2 96.3h.1M264.2 108.3h.1M266.0 93.3h.1M266.0 99.3h.1M266.0 107.3h.1M267.8 68.3h.1M267.8 70.3h.1M267.8 74.3h.1M269.6 79.3h.1M269.6 83.3h.1M269.6 87.3h.1M273.2 67.3h.1M273.2 73.3h.1M273.2 77.3h.1M273.2 79.3h.1M273.2 89.3h.1M273.2 109.3h.1M275.0 68.3h.1M275.0 76.3h.1M275.0 90.3h.1M275.0 94.3h.1M275.0 98.3h.1M275.0 104.3h.1M275.0 110.3h.1M276.8 65.3h.1M276.8 75.3h.1M276.8 87.3h.1M276.8 91.3h.1M276.8 97.3h.1M276.8 107.3h.1M278.6 68.3h.1M278.6 86.3h.1M278.6 92.3h.1M278.6 100.3h.1M278.6 104.3h.1M278.6 106.3h.1M278.6 108.3h.1M280.4 67.3h.1M280.4 71.3h.1M280.4 87.3h.1M280.4 103.3h.1M282.2 106.3h.1M284.0 79.3h.1M284.0 95.3h.1M285.8 74.3h.1M285.8 84.3h.1M285.8 92.3h.1M285.8 104.3h.1M285.8 108.3h.1M287.6 69.3h.1M287.6 77.3h.1M287.6 79.3h.1M287.6 103.3h.1M287.6 109.3h.1M289.4 70.3h.1M289.4 84.3h.1M289.4 90.3h.1M289.4 92.3h.1M289.4 98.3h.1M289.4 106.3h.1M291.2 73.3h.1M291.2 83.3h.1M291.2 93.3h.1M291.2 101.3h.1M291.2 107.3h.1M293.0 84.3h.1M293.0 92.3h.1M293.0 96.3h.1M293.0 100.3h.1M293.0 104.3h.1M294.8 95.3h.1M294.8 97.3h.1M296.6 74.3h.1M296.6 78.3h.1M296.6 82.3h.1M296.6 88.3h.1M296.6 90.3h.1M296.6 104.3h.1M298.4 79.3h.1M298.4 97.3h.1M300.2 70.3h.1M300.2 74.3h.1M300.2 82.3h.1M300.2 106.3h.1M300.2 108.3h.1M302.0 71.3h.1M302.0 73.3h.1M302.0 97.3h.1M302.0 99.3h.1M302.0 103.3h.1M303.8 80.3h.1M303.8 86.3h.1M303.8 106.3h.1M303.8 108.3h.1M303.8 110.3h.1M303.8 150.3h.1M305.6 87.3h.1M305.6 101.3h.1M305.6 123.3h.1M305.6 131.3h.1M305.6 135.3h.1M305.6 139.3h.1M305.6 153.3h.1M305.6 155.3h.1M305.6 161.3h.1M307.4 74.3h.1M307.4 78.3h.1M307.4 94.3h.1M307.4 100.3h.1M307.4 122.3h.1M307.4 126.3h.1M307.4 142.3h.1M307.4 144.3h.1M307.4 146.3h.1M307.4 150.3h.1M307.4 160.3h.1M309.2 73.3h.1M309.2 83.3h.1M309.2 89.3h.1M309.2 93.3h.1M309.2 115.3h.1M309.2 129.3h.1M309.2 151.3h.1M309.2 153.3h.1M309.2 155.3h.1M309.2 157.3h.1M309.2 167.3h.1M311.0 78.3h.1M311.0 88.3h.1M311.0 104.3h.1M311.0 136.3h.1M311.0 158.3h.1M311.0 160.3h.1M311.0 162.3h.1M311.0 168.3h.1M311.0 170.3h.1M312.8 83.3h.1M312.8 87.3h.1M312.8 95.3h.1M312.8 119.3h.1M312.8 139.3h.1M312.8 153.3h.1M312.8 159.3h.1M312.8 165.3h.1M312.8 171.3h.1M314.6 96.3h.1M314.6 104.3h.1M314.6 118.3h.1M314.6 126.3h.1M314.6 130.3h.1M314.6 140.3h.1M314.6 162.3h.1M314.6 172.3h.1M316.4 79.3h.1M316.4 81.3h.1M316.4 99.3h.1M316.4 111.3h.1M316.4 123.3h.1M316.4 159.3h.1M316.4 163.3h.1M316.4 171.3h.1M318.2 80.3h.1M318.2 82.3h.1M318.2 148.3h.1M318.2 172.3h.1M318.2 174.3h.1M320.0 97.3h.1M320.0 111.3h.1M320.0 119.3h.1M320.0 123.3h.1M320.0 127.3h.1M320.0 135.3h.1M320.0 153.3h.1M320.0 163.3h.1M320.0 165.3h.1M320.0 171.3h.1M320.0 173.3h.1M321.8 82.3h.1M321.8 94.3h.1M321.8 96.3h.1M321.8 98.3h.1M321.8 120.3h.1M321.8 136.3h.1M321.8 142.3h.1M321.8 144.3h.1M321.8 160.3h.1M321.8 172.3h.1M321.8 174.3h.1M323.6 85.3h.1M323.6 89.3h.1M323.6 127.3h.1M323.6 133.3h.1M323.6 171.3h.1M325.4 88.3h.1M325.4 104.3h.1M325.4 140.3h.1M325.4 142.3h.1M325.4 154.3h.1M325.4 158.3h.1M325.4 166.3h.1M325.4 168.3h.1M325.4 172.3h.1M325.4 174.3h.1M327.2 85.3h.1M327.2 91.3h.1M327.2 103.3h.1M327.2 113.3h.1M327.2 127.3h.1M327.2 153.3h.1M327.2 165.3h.1M329.0 88.3h.1M329.0 132.3h.1M329.0 152.3h.1M329.0 168.3h.1M329.0 172.3h.1M330.8 95.3h.1M330.8 97.3h.1M330.8 103.3h.1M330.8 105.3h.1M330.8 109.3h.1M330.8 111.3h.1M330.8 147.3h.1M330.8 149.3h.1M330.8 157.3h.1M330.8 159.3h.1M330.8 167.3h.1M330.8 171.3h.1M330.8 173.3h.1M332.6 98.3h.1M332.6 120.3h.1M332.6 122.3h.1M332.6 126.3h.1M332.6 132.3h.1M332.6 134.3h.1M332.6 138.3h.1M332.6 150.3h.1M334.4 103.3h.1M334.4 111.3h.1M334.4 123.3h.1M334.4 137.3h.1M334.4 143.3h.1M334.4 147.3h.1M334.4 155.3h.1M334.4 159.3h.1M334.4 163.3h.1M334.4 165.3h.1M334.4 173.3h.1M336.2 100.3h.1M336.2 106.3h.1M336.2 126.3h.1M336.2 150.3h.1M336.2 174.3h.1M338.0 129.3h.1M338.0 137.3h.1M338.0 153.3h.1M338.0 161.3h.1M338.0 169.3h.1M338.0 173.3h.1M339.8 112.3h.1M339.8 130.3h.1M339.8 172.3h.1M339.8 174.3h.1M341.6 103.3h.1M341.6 109.3h.1M341.6 111.3h.1M341.6 129.3h.1M341.6 145.3h.1M341.6 147.3h.1M341.6 159.3h.1M343.4 106.3h.1M343.4 124.3h.1M343.4 126.3h.1M343.4 138.3h.1M343.4 150.3h.1M343.4 160.3h.1M343.4 164.3h.1M343.4 174.3h.1M345.2 117.3h.1M345.2 119.3h.1M345.2 121.3h.1M345.2 147.3h.1M345.2 149.3h.1M347.0 122.3h.1M347.0 132.3h.1M347.0 138.3h.1M347.0 146.3h.1M348.8 147.3h.1M348.8 155.3h.1"/>
<path stroke="#eea592" d="M248.0 77.3h.1M248.0 89.3h.1M248.0 91.3h.1M249.8 76.3h.1M249.8 82.3h.1M249.8 88.3h.1M253.4 86.3h.1M253.4 96.3h.1M255.2 77.3h.1M255.2 79.3h.1M255.2 101.3h.1M255.2 103.3h.1M257.0 72.3h.1M257.0 80.3h.1M257.0 86.3h.1M257.0 92.3h.1M257.0 100.3h.1M257.0 104.3h.1M258.8 85.3h.1M258.8 99.3h.1M258.8 105.3h.1M260.6 72.3h.1M260.6 86.3h.1M260.6 88.3h.1M260.6 96.3h.1M260.6 108.3h.1M262.4 85.3h.1M262.4 91.3h.1M262.4 93.3h.1M262.4 95.3h.1M262.4 103.3h.1M262.4 105.3h.1M264.2 76.3h.1M264.2 86.3h.1M264.2 90.3h.1M264.2 98.3h.1M266.0 71.3h.1M266.0 73.3h.1M266.0 81.3h.1M266.0 83.3h.1M266.0 91.3h.1M267.8 82.3h.1M267.8 86.3h.1M267.8 90.3h.1M267.8 94.3h.1M267.8 100.3h.1M267.8 104.3h.1M267.8 108.3h.1M269.6 71.3h.1M269.6 75.3h.1M269.6 81.3h.1M269.6 91.3h.1M271.4 66.3h.1M271.4 108.3h.1M273.2 75.3h.1M273.2 83.3h.1M273.2 85.3h.1M275.0 88.3h.1M276.8 77.3h.1M276.8 79.3h.1M276.8 83.3h.1M276.8 89.3h.1M276.8 103.3h.1M278.6 66.3h.1M278.6 76.3h.1M278.6 94.3h.1M280.4 69.3h.1M280.4 99.3h.1M282.2 70.3h.1M282.2 78.3h.1M282.2 80.3h.1M282.2 82.3h.1M282.2 84.3h.1M282.2 90.3h.1M282.2 100.3h.1M284.0 73.3h.1M284.0 107.3h.1M284.0 109.3h.1M285.8 68.3h.1M285.8 80.3h.1M285.8 94.3h.1M285.8 96.3h.1M287.6 81.3h.1M287.6 83.3h.1M287.6 85.3h.1M287.6 107.3h.1M289.4 80.3h.1M291.2 67.3h.1M291.2 81.3h.1M291.2 87.3h.1M291.2 99.3h.1M293.0 82.3h.1M293.0 98.3h.1M293.0 106.3h.1M294.8 71.3h.1M294.8 87.3h.1M294.8 103.3h.1M294.8 107.3h.1M296.6 72.3h.1M296.6 86.3h.1M296.6 108.3h.1M298.4 69.3h.1M298.4 71.3h.1M298.4 75.3h.1M298.4 77.3h.1M298.4 83.3h.1M298.4 99.3h.1M300.2 78.3h.1M300.2 84.3h.1M300.2 86.3h.1M300.2 92.3h.1M300.2 94.3h.1M300.2 104.3h.1M302.0 75.3h.1M302.0 77.3h.1M302.0 83.3h.1M302.0 85.3h.1M302.0 89.3h.1M303.8 78.3h.1M303.8 94.3h.1M303.8 96.3h.1M305.6 71.3h.1M305.6 81.3h.1M305.6 83.3h.1M305.6 111.3h.1M305.6 119.3h.1M307.4 110.3h.1M307.4 112.3h.1M307.4 124.3h.1M307.4 128.3h.1M307.4 132.3h.1M307.4 134.3h.1M307.4 138.3h.1M307.4 140.3h.1M307.4 154.3h.1M307.4 156.3h.1M309.2 75.3h.1M309.2 77.3h.1M309.2 79.3h.1M309.2 85.3h.1M309.2 95.3h.1M309.2 99.3h.1M309.2 101.3h.1M309.2 105.3h.1M309.2 125.3h.1M309.2 139.3h.1M309.2 145.3h.1M309.2 149.3h.1M309.2 159.3h.1M309.2 161.3h.1M311.0 86.3h.1M311.0 90.3h.1M311.0 100.3h.1M311.0 106.3h.1M311.0 114.3h.1M311.0 118.3h.1M311.0 142.3h.1M311.0 146.3h.1M311.0 164.3h.1M312.8 75.3h.1M312.8 77.3h.1M312.8 115.3h.1M312.8 123.3h.1M312.8 163.3h.1M314.6 78.3h.1M314.6 84.3h.1M314.6 94.3h.1M314.6 116.3h.1M314.6 138.3h.1M314.6 146.3h.1M314.6 148.3h.1M314.6 164.3h.1M316.4 83.3h.1M316.4 91.3h.1M316.4 109.3h.1M316.4 153.3h.1M316.4 157.3h.1M316.4 165.3h.1M318.2 78.3h.1M318.2 86.3h.1M318.2 94.3h.1M318.2 98.3h.1M318.2 114.3h.1M318.2 150.3h.1M318.2 160.3h.1M318.2 162.3h.1M318.2 168.3h.1M320.0 101.3h.1M320.0 155.3h.1M320.0 159.3h.1M320.0 167.3h.1M321.8 88.3h.1M321.8 110.3h.1M321.8 114.3h.1M323.6 81.3h.1M323.6 95.3h.1M323.6 99.3h.1M323.6 103.3h.1M323.6 121.3h.1M323.6 137.3h.1M323.6 149.3h.1M323.6 165.3h.1M325.4 86.3h.1M325.4 94.3h.1M325.4 98.3h.1M325.4 110.3h.1M325.4 134.3h.1M325.4 146.3h.1M325.4 164.3h.1M327.2 97.3h.1M327.2 99.3h.1M327.2 105.3h.1M327.2 157.3h.1M327.2 161.3h.1M329.0 100.3h.1M329.0 104.3h.1M329.0 112.3h.1M329.0 114.3h.1M329.0 122.3h.1M329.0 150.3h.1M329.0 158.3h.1M329.0 160.3h.1M329.0 162.3h.1M329.0 164.3h.1M330.8 127.3h.1M330.8 135.3h.1M330.8 143.3h.1M330.8 145.3h.1M330.8 161.3h.1M330.8 163.3h.1M330.8 169.3h.1M332.6 88.3h.1M332.6 110.3h.1M332.6 112.3h.1M332.6 142.3h.1M332.6 162.3h.1M332.6 168.3h.1M332.6 170.3h.1M334.4 109.3h.1M334.4 115.3h.1M334.4 149.3h.1M334.4 169.3h.1M336.2 94.3h.1M336.2 128.3h.1M336.2 146.3h.1M336.2 154.3h.1M336.2 162.3h.1M336.2 168.3h.1M336.2 170.3h.1M338.0 97.3h.1M338.0 105.3h.1M338.0 117.3h.1M338.0 135.3h.1M338.0 157.3h.1M338.0 163.3h.1M338.0 165.3h.1M339.8 142.3h.1M339.8 148.3h.1M339.8 166.3h.1M341.6 139.3h.1M341.6 141.3h.1M341.6 149.3h.1M341.6 153.3h.1M341.6 155.3h.1M341.6 169.3h.1M343.4 118.3h.1M343.4 136.3h.1M343.4 142.3h.1M343.4 144.3h.1M343.4 152.3h.1M343.4 158.3h.1M345.2 115.3h.1M345.2 125.3h.1M345.2 133.3h.1M345.2 143.3h.1M345.2 157.3h.1M345.2 173.3h.1M347.0 126.3h.1M347.0 156.3h.1M347.0 158.3h.1M347.0 170.3h.1M348.8 125.3h.1M348.8 137.3h.1M348.8 153.3h.1"/>
<path stroke="#f29983" d="M248.0 87.3h.1M249.8 96.3h.1M251.6 79.3h.1M251.6 95.3h.1M251.6 97.3h.1M253.4 100.3h.1M255.2 75.3h.1M255.2 81.3h.1M255.2 85.3h.1M255.2 93.3h.1M255.2 97.3h.1M257.0 70.3h.1M257.0 76.3h.1M258.8 83.3h.1M258.8 95.3h.1M260.6 68.3h.1M260.6 70.3h.1M262.4 67.3h.1M262.4 89.3h.1M262.4 99.3h.1M262.4 101.3h.1M264.2 74.3h.1M266.0 77.3h.1M266.0 85.3h.1M266.0 87.3h.1M266.0 105.3h.1M267.8 96.3h.1M267.8 106.3h.1M269.6 73.3h.1M269.6 89.3h.1M269.6 93.3h.1M269.6 99.3h.1M269.6 107.3h.1M271.4 86.3h.1M271.4 92.3h.1M271.4 98.3h.1M273.2 91.3h.1M273.2 107.3h.1M275.0 82.3h.1M275.0 84.3h.1M275.0 86.3h.1M275.0 92.3h.1M275.0 96.3h.1M275.0 106.3h.1M278.6 78.3h.1M278.6 82.3h.1M278.6 84.3h.1M278.6 96.3h.1M278.6 102.3h.1M280.4 77.3h.1M280.4 81.3h.1M282.2 68.3h.1M282.2 74.3h.1M282.2 88.3h.1M282.2 94.3h.1M282.2 96.3h.1M284.0 69.3h.1M284.0 75.3h.1M284.0 81.3h.1M284.0 93.3h.1M284.0 97.3h.1M284.0 105.3h.1M285.8 70.3h.1M285.8 72.3h.1M287.6 67.3h.1M287.6 89.3h.1M287.6 95.3h.1M287.6 97.3h.1M287.6 99.3h.1M287.6 105.3h.1M289.4 78.3h.1M289.4 88.3h.1M289.4 96.3h.1M289.4 100.3h.1M291.2 97.3h.1M293.0 80.3h.1M293.0 86.3h.1M293.0 102.3h.1M294.8 83.3h.1M296.6 96.3h.1M296.6 100.3h.1M298.4 85.3h.1M298.4 93.3h.1M298.4 101.3h.1M300.2 100.3h.1M300.2 102.3h.1M302.0 87.3h.1M303.8 72.3h.1M303.8 74.3h.1M303.8 88.3h.1M305.6 77.3h.1M305.6 85.3h.1M305.6 89.3h.1M305.6 99.3h.1M305.6 107.3h.1M305.6 115.3h.1M307.4 76.3h.1M307.4 82.3h.1M307.4 86.3h.1M307.4 98.3h.1M307.4 102.3h.1M307.4 108.3h.1M307.4 116.3h.1M307.4 152.3h.1M309.2 81.3h.1M309.2 109.3h.1M309.2 133.3h.1M309.2 141.3h.1M309.2 147.3h.1M311.0 76.3h.1M311.0 84.3h.1M311.0 98.3h.1M311.0 110.3h.1M311.0 116.3h.1M311.0 124.3h.1M311.0 134.3h.1M311.0 144.3h.1M311.0 152.3h.1M312.8 85.3h.1M312.8 89.3h.1M312.8 91.3h.1M312.8 105.3h.1M312.8 117.3h.1M312.8 121.3h.1M312.8 131.3h.1M312.8 155.3h.1M314.6 82.3h.1M314.6 86.3h.1M314.6 102.3h.1M314.6 120.3h.1M314.6 136.3h.1M314.6 142.3h.1M314.6 154.3h.1M314.6 158.3h.1M316.4 85.3h.1M316.4 97.3h.1M316.4 103.3h.1M316.4 127.3h.1M316.4 129.3h.1M316.4 133.3h.1M316.4 139.3h.1M316.4 147.3h.1M316.4 149.3h.1M316.4 155.3h.1M316.4 161.3h.1M318.2 88.3h.1M318.2 100.3h.1M318.2 144.3h.1M318.2 156.3h.1M320.0 81.3h.1M320.0 91.3h.1M320.0 105.3h.1M320.0 133.3h.1M320.0 143.3h.1M320.0 145.3h.1M321.8 92.3h.1M321.8 102.3h.1M321.8 104.3h.1M321.8 124.3h.1M321.8 140.3h.1M321.8 150.3h.1M321.8 162.3h.1M321.8 166.3h.1M323.6 91.3h.1M323.6 93.3h.1M323.6 109.3h.1M323.6 147.3h.1M323.6 153.3h.1M323.6 159.3h.1M325.4 92.3h.1M325.4 102.3h.1M325.4 114.3h.1M325.4 118.3h.1M325.4 124.3h.1M325.4 126.3h.1M325.4 128.3h.1M325.4 130.3h.1M325.4 150.3h.1M325.4 152.3h.1M325.4 162.3h.1M327.2 87.3h.1M327.2 95.3h.1M327.2 101.3h.1M327.2 109.3h.1M327.2 125.3h.1M327.2 141.3h.1M327.2 145.3h.1M327.2 159.3h.1M329.0 116.3h.1M329.0 128.3h.1M329.0 130.3h.1M329.0 142.3h.1M329.0 148.3h.1M330.8 87.3h.1M330.8 101.3h.1M330.8 115.3h.1M330.8 137.3h.1M330.8 139.3h.1M330.8 141.3h.1M330.8 153.3h.1M332.6 94.3h.1M332.6 106.3h.1M334.4 91.3h.1M334.4 97.3h.1M334.4 105.3h.1M334.4 117.3h.1M334.4 133.3h.1M334.4 145.3h.1M334.4 151.3h.1M334.4 161.3h.1M334.4 171.3h.1M336.2 96.3h.1M336.2 114.3h.1M336.2 136.3h.1M336.2 138.3h.1M336.2 156.3h.1M336.2 164.3h.1M338.0 113.3h.1M338.0 125.3h.1M338.0 131.3h.1M338.0 133.3h.1M338.0 139.3h.1M338.0 141.3h.1M338.0 145.3h.1M339.8 98.3h.1M339.8 126.3h.1M339.8 144.3h.1M339.8 146.3h.1M339.8 158.3h.1M339.8 164.3h.1M341.6 125.3h.1M341.6 131.3h.1M341.6 151.3h.1M341.6 163.3h.1M341.6 165.3h.1M341.6 171.3h.1M343.4 148.3h.1M343.4 168.3h.1M343.4 170.3h.1M345.2 135.3h.1M345.2 139.3h.1M347.0 120.3h.1M347.0 130.3h.1M347.0 144.3h.1M347.0 148.3h.1M347.0 160.3h.1M348.8 139.3h.1"/>
<path stroke="#f68e74" d="M249.8 78.3h.1M251.6 75.3h.1M251.6 77.3h.1M251.6 81.3h.1M251.6 89.3h.1M253.4 76.3h.1M253.4 94.3h.1M253.4 98.3h.1M255.2 73.3h.1M255.2 99.3h.1M257.0 74.3h.1M257.0 78.3h.1M257.0 94.3h.1M258.8 71.3h.1M258.8 79.3h.1M258.8 89.3h.1M258.8 97.3h.1M260.6 90.3h.1M260.6 92.3h.1M262.4 77.3h.1M262.4 81.3h.1M262.4 97.3h.1M264.2 70.3h.1M264.2 80.3h.1M264.2 92.3h.1M266.0 69.3h.1M266.0 79.3h.1M267.8 78.3h.1M269.6 95.3h.1M269.6 105.3h.1M271.4 68.3h.1M271.4 76.3h.1M271.4 78.3h.1M271.4 80.3h.1M271.4 90.3h.1M271.4 94.3h.1M271.4 102.3h.1M273.2 69.3h.1M273.2 81.3h.1M273.2 87.3h.1M273.2 101.3h.1M275.0 66.3h.1M276.8 69.3h.1M276.8 71.3h.1M276.8 85.3h.1M278.6 70.3h.1M278.6 72.3h.1M278.6 90.3h.1M278.6 98.3h.1M280.4 83.3h.1M280.4 85.3h.1M280.4 89.3h.1M280.4 91.3h.1M280.4 93.3h.1M280.4 95.3h.1M280.4 105.3h.1M282.2 66.3h.1M282.2 76.3h.1M282.2 86.3h.1M282.2 92.3h.1M282.2 98.3h.1M284.0 87.3h.1M284.0 89.3h.1M284.0 103.3h.1M285.8 66.3h.1M285.8 76.3h.1M285.8 78.3h.1M285.8 86.3h.1M287.6 73.3h.1M287.6 75.3h.1M287.6 93.3h.1M287.6 101.3h.1M289.4 74.3h.1M289.4 76.3h.1M289.4 82.3h.1M289.4 104.3h.1M291.2 71.3h.1M291.2 89.3h.1M291.2 95.3h.1M291.2 105.3h.1M293.0 72.3h.1M293.0 74.3h.1M293.0 90.3h.1M294.8 77.3h.1M294.8 93.3h.1M296.6 98.3h.1M298.4 73.3h.1M298.4 81.3h.1M298.4 87.3h.1M300.2 72.3h.1M300.2 76.3h.1M300.2 80.3h.1M300.2 88.3h.1M300.2 90.3h.1M300.2 98.3h.1M302.0 93.3h.1M302.0 101.3h.1M302.0 105.3h.1M303.8 76.3h.1M303.8 82.3h.1M303.8 84.3h.1M305.6 75.3h.1M305.6 91.3h.1M305.6 93.3h.1M305.6 95.3h.1M307.4 72.3h.1M307.4 84.3h.1M307.4 92.3h.1M309.2 91.3h.1M309.2 97.3h.1M309.2 107.3h.1M309.2 113.3h.1M309.2 121.3h.1M309.2 143.3h.1M311.0 94.3h.1M311.0 128.3h.1M311.0 140.3h.1M311.0 154.3h.1M311.0 156.3h.1M312.8 79.3h.1M312.8 81.3h.1M312.8 93.3h.1M312.8 99.3h.1M312.8 111.3h.1M312.8 129.3h.1M312.8 145.3h.1M312.8 149.3h.1M312.8 157.3h.1M314.6 90.3h.1M314.6 92.3h.1M314.6 98.3h.1M314.6 132.3h.1M316.4 77.3h.1M316.4 87.3h.1M316.4 93.3h.1M316.4 95.3h.1M316.4 131.3h.1M316.4 141.3h.1M316.4 143.3h.1M318.2 90.3h.1M318.2 102.3h.1M318.2 138.3h.1M318.2 164.3h.1M320.0 83.3h.1M320.0 99.3h.1M320.0 157.3h.1M321.8 84.3h.1M321.8 106.3h.1M321.8 126.3h.1M321.8 128.3h.1M321.8 148.3h.1M321.8 152.3h.1M321.8 156.3h.1M321.8 158.3h.1M323.6 83.3h.1M323.6 87.3h.1M323.6 101.3h.1M323.6 135.3h.1M323.6 157.3h.1M323.6 161.3h.1M325.4 90.3h.1M325.4 100.3h.1M327.2 83.3h.1M327.2 93.3h.1M327.2 131.3h.1M327.2 149.3h.1M327.2 151.3h.1M327.2 155.3h.1M329.0 92.3h.1M329.0 108.3h.1M329.0 110.3h.1M329.0 124.3h.1M329.0 138.3h.1M329.0 146.3h.1M330.8 89.3h.1M330.8 125.3h.1M332.6 90.3h.1M332.6 92.3h.1M332.6 108.3h.1M332.6 124.3h.1M332.6 130.3h.1M334.4 107.3h.1M334.4 125.3h.1M334.4 127.3h.1M334.4 129.3h.1M334.4 131.3h.1M336.2 108.3h.1M336.2 122.3h.1M336.2 134.3h.1M338.0 99.3h.1M338.0 103.3h.1M339.8 114.3h.1M339.8 118.3h.1M339.8 128.3h.1M339.8 140.3h.1M339.8 154.3h.1M339.8 160.3h.1M339.8 162.3h.1M341.6 115.3h.1M343.4 130.3h.1M343.4 132.3h.1M343.4 156.3h.1M343.4 166.3h.1M345.2 113.3h.1M345.2 141.3h.1M345.2 153.3h.1M345.2 155.3h.1M347.0 128.3h.1M347.0 142.3h.1M347.0 152.3h.1M347.0 154.3h.1M347.0 162.3h.1M347.0 166.3h.1M348.8 129.3h.1M348.8 133.3h.1M348.8 145.3h.1M348.8 149.3h.1"/>
<path stroke="#f98165" d="M249.8 92.3h.1M253.4 72.3h.1M257.0 88.3h.1M258.8 77.3h.1M264.2 82.3h.1M264.2 102.3h.1M264.2 104.3h.1M266.0 67.3h.1M266.0 101.3h.1M266.0 103.3h.1M267.8 102.3h.1M269.6 101.3h.1M271.4 70.3h.1M271.4 72.3h.1M273.2 93.3h.1M273.2 105.3h.1M275.0 70.3h.1M275.0 74.3h.1M276.8 67.3h.1M276.8 73.3h.1M276.8 93.3h.1M280.4 75.3h.1M280.4 79.3h.1M282.2 104.3h.1M284.0 91.3h.1M285.8 98.3h.1M285.8 102.3h.1M285.8 106.3h.1M289.4 102.3h.1M291.2 103.3h.1M293.0 70.3h.1M293.0 94.3h.1M294.8 69.3h.1M298.4 91.3h.1M302.0 91.3h.1M303.8 100.3h.1M305.6 79.3h.1M307.4 88.3h.1M311.0 96.3h.1M311.0 102.3h.1M311.0 150.3h.1M312.8 97.3h.1M312.8 103.3h.1M312.8 113.3h.1M312.8 125.3h.1M314.6 106.3h.1M314.6 134.3h.1M316.4 101.3h.1M318.2 92.3h.1M318.2 120.3h.1M318.2 126.3h.1M318.2 130.3h.1M318.2 142.3h.1M318.2 158.3h.1M320.0 85.3h.1M320.0 87.3h.1M320.0 89.3h.1M320.0 103.3h.1M320.0 125.3h.1M320.0 147.3h.1M321.8 80.3h.1M321.8 100.3h.1M321.8 116.3h.1M321.8 154.3h.1M323.6 97.3h.1M323.6 111.3h.1M323.6 151.3h.1M323.6 155.3h.1M325.4 96.3h.1M325.4 108.3h.1M325.4 112.3h.1M325.4 138.3h.1M325.4 144.3h.1M327.2 115.3h.1M327.2 119.3h.1M327.2 121.3h.1M327.2 133.3h.1M327.2 137.3h.1M327.2 139.3h.1M327.2 143.3h.1M329.0 90.3h.1M329.0 94.3h.1M329.0 98.3h.1M329.0 126.3h.1M329.0 134.3h.1M330.8 99.3h.1M330.8 107.3h.1M330.8 117.3h.1M330.8 121.3h.1M330.8 123.3h.1M330.8 129.3h.1M332.6 114.3h.1M334.4 95.3h.1M334.4 101.3h.1M334.4 121.3h.1M336.2 104.3h.1M336.2 110.3h.1M336.2 116.3h.1M336.2 120.3h.1M336.2 124.3h.1M336.2 132.3h.1M338.0 101.3h.1M339.8 106.3h.1M339.8 124.3h.1M341.6 101.3h.1M341.6 135.3h.1M341.6 137.3h.1M341.6 161.3h.1M343.4 140.3h.1M343.4 146.3h.1M343.4 162.3h.1M345.2 111.3h.1M345.2 129.3h.1M345.2 131.3h.1M345.2 163.3h.1M347.0 134.3h.1M347.0 140.3h.1M348.8 131.3h.1M348.8 141.3h.1M348.8 143.3h.1M348.8 157.3h.1"/>
<path stroke="#fb7556" d="M269.6 103.3h.1M271.4 100.3h.1M271.4 104.3h.1M273.2 97.3h.1M273.2 103.3h.1M275.0 100.3h.1M276.8 99.3h.1M276.8 101.3h.1M282.2 102.3h.1M284.0 99.3h.1M284.0 101.3h.1M285.8 100.3h.1M291.2 77.3h.1M307.4 104.3h.1M307.4 106.3h.1M309.2 111.3h.1M311.0 108.3h.1M312.8 127.3h.1M312.8 141.3h.1M312.8 143.3h.1M312.8 147.3h.1M312.8 151.3h.1M314.6 108.3h.1M314.6 114.3h.1M314.6 124.3h.1M314.6 128.3h.1M314.6 156.3h.1M316.4 107.3h.1M316.4 117.3h.1M316.4 125.3h.1M318.2 106.3h.1M318.2 108.3h.1M318.2 118.3h.1M318.2 124.3h.1M318.2 136.3h.1M318.2 146.3h.1M318.2 152.3h.1M320.0 131.3h.1M320.0 139.3h.1M320.0 141.3h.1M321.8 146.3h.1M323.6 107.3h.1M323.6 115.3h.1M323.6 129.3h.1M323.6 131.3h.1M323.6 139.3h.1M323.6 141.3h.1M323.6 143.3h.1M323.6 145.3h.1M325.4 106.3h.1M325.4 136.3h.1M327.2 111.3h.1M329.0 102.3h.1M329.0 106.3h.1M332.6 96.3h.1M332.6 100.3h.1M332.6 102.3h.1M332.6 128.3h.1M334.4 99.3h.1M336.2 92.3h.1M336.2 102.3h.1M336.2 130.3h.1M338.0 115.3h.1M339.8 108.3h.1M341.6 113.3h.1M341.6 133.3h.1M343.4 114.3h.1M343.4 122.3h.1M345.2 123.3h.1M345.2 137.3h.1M347.0 124.3h.1M348.8 123.3h.1"/>
<path stroke="#fd6747" d="M273.2 99.3h.1M311.0 112.3h.1M314.6 112.3h.1M314.6 122.3h.1M314.6 144.3h.1M314.6 152.3h.1M316.4 135.3h.1M316.4 137.3h.1M316.4 145.3h.1M318.2 104.3h.1M318.2 110.3h.1M318.2 122.3h.1M318.2 128.3h.1M318.2 132.3h.1M318.2 134.3h.1M320.0 107.3h.1M320.0 115.3h.1M320.0 129.3h.1M320.0 149.3h.1M320.0 151.3h.1M321.8 108.3h.1M321.8 112.3h.1M321.8 122.3h.1M321.8 138.3h.1M323.6 123.3h.1M323.6 125.3h.1M325.4 120.3h.1M327.2 129.3h.1M330.8 119.3h.1M334.4 113.3h.1M336.2 98.3h.1M338.0 95.3h.1M338.0 109.3h.1M339.8 104.3h.1M339.8 120.3h.1M339.8 132.3h.1M339.8 134.3h.1M341.6 121.3h.1M341.6 127.3h.1M343.4 110.3h.1M343.4 134.3h.1M347.0 118.3h.1"/>
<path stroke="#fe5838" d="M280.4 101.3h.1M314.6 110.3h.1M316.4 113.3h.1M316.4 119.3h.1M316.4 121.3h.1M320.0 121.3h.1M321.8 130.3h.1M321.8 132.3h.1M323.6 119.3h.1M327.2 123.3h.1M330.8 113.3h.1M332.6 118.3h.1M338.0 107.3h.1M338.0 111.3h.1M338.0 123.3h.1M338.0 127.3h.1M341.6 105.3h.1M341.6 119.3h.1M341.6 123.3h.1M343.4 108.3h.1M343.4 128.3h.1M345.2 127.3h.1M347.0 136.3h.1M348.8 135.3h.1"/>
<path stroke="#ff4629" d="M320.0 109.3h.1M323.6 113.3h.1M323.6 117.3h.1M329.0 118.3h.1M329.0 120.3h.1M334.4 119.3h.1M336.2 112.3h.1M338.0 121.3h.1M339.8 110.3h.1M339.8 122.3h.1M341.6 107.3h.1M343.4 116.3h.1M343.4 120.3h.1M348.8 127.3h.1"/>
<path stroke="#ff3018" d="M275.0 102.3h.1M316.4 115.3h.1M318.2 112.3h.1M321.8 118.3h.1M325.4 116.3h.1M336.2 118.3h.1M338.0 119.3h.1M339.8 116.3h.1"/>
<path stroke="#ff0000" d="M318.2 116.3h.1M320.0 113.3h.1M320.0 117.3h.1M327.2 117.3h.1"/>
<path stroke="#d0d0d0" d="M249.8 224.6h.1M257.0 230.6h.1M258.8 221.6h.1M258.8 239.6h.1M258.8 247.6h.1M258.8 249.6h.1M260.6 214.6h.1M260.6 218.6h.1M262.4 225.6h.1M262.4 245.6h.1M264.2 224.6h.1M264.2 230.6h.1M264.2 234.6h.1M264.2 236.6h.1M264.2 244.6h.1M266.0 213.6h.1M266.0 215.6h.1M266.0 221.6h.1M266.0 225.6h.1M266.0 233.6h.1M266.0 235.6h.1M266.0 241.6h.1M266.0 243.6h.1M267.8 210.6h.1M267.8 212.6h.1M267.8 214.6h.1M267.8 216.6h.1M267.8 218.6h.1M267.8 222.6h.1M267.8 228.6h.1M267.8 234.6h.1M267.8 240.6h.1M269.6 211.6h.1M269.6 215.6h.1M269.6 219.6h.1M269.6 221.6h.1M269.6 223.6h.1M269.6 225.6h.1M269.6 229.6h.1M269.6 233.6h.1M269.6 237.6h.1M269.6 239.6h.1M269.6 243.6h.1M271.4 210.6h.1M271.4 220.6h.1M271.4 222.6h.1M271.4 224.6h.1M271.4 228.6h.1M271.4 232.6h.1M271.4 238.6h.1M271.4 240.6h.1M271.4 242.6h.1M271.4 248.6h.1M273.2 211.6h.1M273.2 219.6h.1M273.2 223.6h.1M273.2 231.6h.1M273.2 243.6h.1M275.0 212.6h.1M275.0 218.6h.1M275.0 224.6h.1M275.0 232.6h.1M275.0 236.6h.1M275.0 238.6h.1M275.0 240.6h.1M275.0 242.6h.1M275.0 244.6h.1M276.8 211.6h.1M276.8 213.6h.1M276.8 215.6h.1M276.8 223.6h.1M276.8 225.6h.1M276.8 227.6h.1M276.8 231.6h.1M276.8 233.6h.1M276.8 245.6h.1M278.6 210.6h.1M278.6 214.6h.1M278.6 216.6h.1M278.6 226.6h.1M278.6 234.6h.1M278.6 238.6h.1M280.4 211.6h.1M280.4 215.6h.1M280.4 217.6h.1M280.4 221.6h.1M280.4 225.6h.1M280.4 241.6h.1M280.4 245.6h.1M282.2 216.6h.1M282.2 218.6h.1M282.2 230.6h.1M282.2 232.6h.1M284.0 213.6h.1M284.0 215.6h.1M284.0 217.6h.1M284.0 219.6h.1M284.0 233.6h.1M284.0 237.6h.1M284.0 243.6h.1M285.8 212.6h.1M285.8 216.6h.1M285.8 218.6h.1M285.8 222.6h.1M285.8 224.6h.1M285.8 230.6h.1M285.8 238.6h.1M287.6 211.6h.1M287.6 219.6h.1M287.6 227.6h.1M287.6 231.6h.1M287.6 233.6h.1M287.6 235.6h.1M287.6 241.6h.1M289.4 212.6h.1M289.4 216.6h.1M289.4 220.6h.1M289.4 222.6h.1M289.4 224.6h.1M289.4 226.6h.1M289.4 230.6h.1M289.4 232.6h.1M289.4 234.6h.1M289.4 240.6h.1M289.4 246.6h.1M291.2 211.6h.1M291.2 213.6h.1M291.2 215.6h.1M291.2 229.6h.1M291.2 231.6h.1M291.2 235.6h.1M291.2 239.6h.1M291.2 241.6h.1M291.2 243.6h.1M293.0 212.6h.1M293.0 220.6h.1M293.0 222.6h.1M293.0 230.6h.1M293.0 232.6h.1M293.0 236.6h.1M293.0 238.6h.1M294.8 217.6h.1M294.8 221.6h.1M294.8 223.6h.1M294.8 227.6h.1M294.8 237.6h.1M294.8 239.6h.1M294.8 243.6h.1M296.6 232.6h.1M296.6 234.6h.1M296.6 236.6h.1M296.6 238.6h.1M296.6 240.6h.1M298.4 213.6h.1M298.4 221.6h.1M298.4 223.6h.1M298.4 225.6h.1M298.4 227.6h.1M298.4 229.6h.1M298.4 231.6h.1M298.4 233.6h.1M298.4 239.6h.1M298.4 241.6h.1M300.2 214.6h.1M300.2 218.6h.1M300.2 220.6h.1M300.2 222.6h.1M300.2 238.6h.1M300.2 248.6h.1M302.0 217.6h.1M302.0 219.6h.1M302.0 231.6h.1M302.0 233.6h.1M302.0 235.6h.1M302.0 241.6h.1M302.0 243.6h.1M302.0 245.6h.1M302.0 293.6h.1M303.8 216.6h.1M303.8 218.6h.1M303.8 220.6h.1M303.8 222.6h.1M303.8 224.6h.1M303.8 226.6h.1M303.8 228.6h.1M303.8 234.6h.1M303.8 240.6h.1M303.8 242.6h.1M303.8 244.6h.1M305.6 215.6h.1M305.6 221.6h.1M305.6 223.6h.1M305.6 225.6h.1M305.6 229.6h.1M305.6 231.6h.1M305.6 233.6h.1M305.6 237.6h.1M305.6 239.6h.1M305.6 243.6h.1M305.6 245.6h.1M305.6 247.6h.1M305.6 303.6h.1M305.6 305.6h.1M307.4 216.6h.1M307.4 218.6h.1M307.4 222.6h.1M307.4 224.6h.1M307.4 232.6h.1M307.4 236.6h.1M307.4 240.6h.1M307.4 250.6h.1M307.4 252.6h.1M307.4 254.6h.1M307.4 312.6h.1M309.2 221.6h.1M309.2 223.6h.1M309.2 225.6h.1M309.2 233.6h.1M309.2 235.6h.1M309.2 243.6h.1M309.2 249.6h.1M309.2 255.6h.1M309.2 261.6h.1M309.2 267.6h.1M309.2 277.6h.1M309.2 291.6h.1M309.2 311.6h.1M311.0 220.6h.1M311.0 224.6h.1M311.0 234.6h.1M311.0 238.6h.1M311.0 240.6h.1M311.0 248.6h.1M311.0 256.6h.1M311.0 258.6h.1M311.0 264.6h.1M311.0 276.6h.1M311.0 280.6h.1M311.0 286.6h.1M311.0 294.6h.1M311.0 296.6h.1M311.0 304.6h.1M311.0 306.6h.1M312.8 225.6h.1M312.8 229.6h.1M312.8 235.6h.1M312.8 239.6h.1M312.8 243.6h.1M312.8 245.6h.1M312.8 247.6h.1M312.8 255.6h.1M312.8 257.6h.1M312.8 261.6h.1M312.8 267.6h.1M312.8 269.6h.1M312.8 271.6h.1M312.8 273.6h.1M312.8 281.6h.1M312.8 291.6h.1M312.8 295.6h.1M312.8 299.6h.1M312.8 301.6h.1M312.8 307.6h.1M312.8 313.6h.1M312.8 315.6h.1M314.6 222.6h.1M314.6 236.6h.1M314.6 238.6h.1M314.6 242.6h.1M314.6 244.6h.1M314.6 246.6h.1M314.6 250.6h.1M314.6 258.6h.1M314.6 266.6h.1M314.6 268.6h.1M314.6 276.6h.1M314.6 278.6h.1M314.6 286.6h.1M314.6 290.6h.1M314.6 292.6h.1M314.6 296.6h.1M314.6 300.6h.1M314.6 306.6h.1M314.6 310.6h.1M314.6 312.6h.1M314.6 318.6h.1M316.4 221.6h.1M316.4 225.6h.1M316.4 227.6h.1M316.4 229.6h.1M316.4 233.6h.1M316.4 241.6h.1M316.4 243.6h.1M316.4 247.6h.1M316.4 251.6h.1M316.4 255.6h.1M316.4 257.6h.1M316.4 263.6h.1M316.4 267.6h.1M316.4 269.6h.1M316.4 271.6h.1M316.4 279.6h.1M316.4 281.6h.1M316.4 283.6h.1M316.4 287.6h.1M316.4 293.6h.1M316.4 297.6h.1M316.4 303.6h.1M316.4 305.6h.1M316.4 307.6h.1M316.4 309.6h.1M316.4 315.6h.1M318.2 224.6h.1M318.2 228.6h.1M318.2 232.6h.1M318.2 234.6h.1M318.2 242.6h.1M318.2 246.6h.1M318.2 258.6h.1M318.2 260.6h.1M318.2 270.6h.1M318.2 272.6h.1M318.2 274.6h.1M318.2 278.6h.1M318.2 282.6h.1M318.2 284.6h.1M318.2 288.6h.1M318.2 294.6h.1M318.2 300.6h.1M318.2 306.6h.1M318.2 310.6h.1M318.2 314.6h.1M318.2 318.6h.1M320.0 223.6h.1M320.0 225.6h.1M320.0 227.6h.1M320.0 231.6h.1M320.0 235.6h.1M320.0 237.6h.1M320.0 239.6h.1M320.0 241.6h.1M320.0 247.6h.1M320.0 249.6h.1M320.0 251.6h.1M320.0 255.6h.1M320.0 257.6h.1M320.0 263.6h.1M320.0 269.6h.1M320.0 279.6h.1M320.0 281.6h.1M320.0 283.6h.1M320.0 285.6h.1M320.0 289.6h.1M320.0 293.6h.1M320.0 301.6h.1M320.0 303.6h.1M320.0 307.6h.1M320.0 309.6h.1M320.0 315.6h.1M320.0 317.6h.1M321.8 226.6h.1M321.8 228.6h.1M321.8 234.6h.1M321.8 236.6h.1M321.8 238.6h.1M321.8 242.6h.1M321.8 246.6h.1M321.8 248.6h.1M321.8 254.6h.1M321.8 256.6h.1M321.8 266.6h.1M321.8 272.6h.1M321.8 278.6h.1M321.8 282.6h.1M321.8 288.6h.1M321.8 290.6h.1M321.8 292.6h.1M321.8 298.6h.1M321.8 302.6h.1M321.8 318.6h.1M323.6 225.6h.1M323.6 227.6h.1M323.6 235.6h.1M323.6 237.6h.1M323.6 239.6h.1M323.6 243.6h.1M323.6 249.6h.1M323.6 253.6h.1M323.6 255.6h.1M323.6 259.6h.1M323.6 261.6h.1M323.6 263.6h.1M323.6 275.6h.1M323.6 279.6h.1M323.6 281.6h.1M323.6 283.6h.1M323.6 289.6h.1M323.6 291.6h.1M323.6 297.6h.1M323.6 303.6h.1M323.6 305.6h.1M323.6 307.6h.1M323.6 309.6h.1M325.4 226.6h.1M325.4 232.6h.1M325.4 234.6h.1M325.4 238.6h.1M325.4 240.6h.1M325.4 248.6h.1M325.4 254.6h.1M325.4 258.6h.1M325.4 262.6h.1M325.4 264.6h.1M325.4 266.6h.1M325.4 268.6h.1M325.4 272.6h.1M325.4 276.6h.1M325.4 286.6h.1M325.4 298.6h.1M325.4 304.6h.1M325.4 308.6h.1M325.4 310.6h.1M325.4 312.6h.1M327.2 227.6h.1M327.2 231.6h.1M327.2 247.6h.1M327.2 253.6h.1M327.2 257.6h.1M327.2 259.6h.1M327.2 261.6h.1M327.2 263.6h.1M327.2 271.6h.1M327.2 275.6h.1M327.2 279.6h.1M327.2 281.6h.1M327.2 285.6h.1M327.2 287.6h.1M327.2 295.6h.1M327.2 297.6h.1M327.2 299.6h.1M327.2 303.6h.1M327.2 309.6h.1M327.2 311.6h.1M327.2 315.6h.1M329.0 228.6h.1M329.0 230.6h.1M329.0 234.6h.1M329.0 242.6h.1M329.0 244.6h.1M329.0 248.6h.1M329.0 262.6h.1M329.0 264.6h.1M329.0 270.6h.1M329.0 274.6h.1M329.0 278.6h.1M329.0 282.6h.1M329.0 284.6h.1M329.0 290.6h.1M329.0 292.6h.1M329.0 302.6h.1M329.0 308.6h.1M329.0 310.6h.1M329.0 312.6h.1M329.0 314.6h.1M330.8 231.6h.1M330.8 235.6h.1M330.8 241.6h.1M330.8 243.6h.1M330.8 245.6h.1M330.8 247.6h.1M330.8 253.6h.1M330.8 255.6h.1M330.8 259.6h.1M330.8 261.6h.1M330.8 263.6h.1M330.8 271.6h.1M330.8 275.6h.1M330.8 279.6h.1M330.8 281.6h.1M330.8 285.6h.1M330.8 289.6h.1M330.8 293.6h.1M330.8 303.6h.1M330.8 305.6h.1M330.8 307.6h.1M330.8 309.6h.1M330.8 311.6h.1M330.8 313.6h.1M330.8 315.6h.1M332.6 234.6h.1M332.6 238.6h.1M332.6 240.6h.1M332.6 246.6h.1M332.6 252.6h.1M332.6 254.6h.1M332.6 264.6h.1M332.6 266.6h.1M332.6 268.6h.1M332.6 272.6h.1M332.6 274.6h.1M332.6 278.6h.1M332.6 280.6h.1M332.6 282.6h.1M332.6 284.6h.1M332.6 286.6h.1M332.6 292.6h.1M332.6 294.6h.1M332.6 296.6h.1M332.6 304.6h.1M332.6 306.6h.1M332.6 308.6h.1M332.6 316.6h.1M334.4 235.6h.1M334.4 237.6h.1M334.4 239.6h.1M334.4 241.6h.1M334.4 249.6h.1M334.4 253.6h.1M334.4 255.6h.1M334.4 257.6h.1M334.4 265.6h.1M334.4 267.6h.1M334.4 271.6h.1M334.4 273.6h.1M334.4 295.6h.1M334.4 297.6h.1M334.4 299.6h.1M334.4 305.6h.1M334.4 315.6h.1M334.4 317.6h.1M336.2 238.6h.1M336.2 240.6h.1M336.2 242.6h.1M336.2 246.6h.1M336.2 248.6h.1M336.2 250.6h.1M336.2 254.6h.1M336.2 258.6h.1M336.2 260.6h.1M336.2 264.6h.1M336.2 266.6h.1M336.2 276.6h.1M336.2 278.6h.1M336.2 282.6h.1M336.2 284.6h.1M336.2 290.6h.1M336.2 294.6h.1M336.2 296.6h.1M336.2 298.6h.1M336.2 300.6h.1M336.2 310.6h.1M336.2 314.6h.1M336.2 316.6h.1M338.0 239.6h.1M338.0 245.6h.1M338.0 249.6h.1M338.0 251.6h.1M338.0 255.6h.1M338.0 257.6h.1M338.0 259.6h.1M338.0 279.6h.1M338.0 287.6h.1M338.0 291.6h.1M338.0 295.6h.1M338.0 311.6h.1M338.0 317.6h.1M339.8 246.6h.1M339.8 250.6h.1M339.8 258.6h.1M339.8 260.6h.1M339.8 264.6h.1M339.8 266.6h.1M339.8 272.6h.1M339.8 282.6h.1M339.8 284.6h.1M339.8 302.6h.1M339.8 316.6h.1M341.6 245.6h.1M341.6 247.6h.1M341.6 277.6h.1M341.6 305.6h.1M341.6 309.6h.1M343.4 256.6h.1M343.4 266.6h.1M343.4 278.6h.1M343.4 284.6h.1M343.4 302.6h.1M343.4 318.6h.1M345.2 257.6h.1M345.2 289.6h.1M345.2 291.6h.1M348.8 271.6h.1M348.8 295.6h.1"/>
<path stroke="#d9c5c0" d="M248.0 221.6h.1M248.0 229.6h.1M248.0 235.6h.1M249.8 240.6h.1M251.6 217.6h.1M251.6 229.6h.1M251.6 237.6h.1M253.4 216.6h.1M253.4 218.6h.1M253.4 222.6h.1M253.4 224.6h.1M253.4 228.6h.1M253.4 232.6h.1M253.4 236.6h.1M255.2 215.6h.1M255.2 217.6h.1M255.2 219.6h.1M255.2 227.6h.1M255.2 233.6h.1M255.2 237.6h.1M255.2 243.6h.1M257.0 214.6h.1M257.0 216.6h.1M257.0 218.6h.1M257.0 220.6h.1M257.0 222.6h.1M257.0 226.6h.1M257.0 232.6h.1M257.0 238.6h.1M257.0 240.6h.1M257.0 244.6h.1M257.0 246.6h.1M258.8 213.6h.1M258.8 215.6h.1M258.8 217.6h.1M258.8 219.6h.1M258.8 225.6h.1M258.8 227.6h.1M258.8 235.6h.1M258.8 243.6h.1M258.8 245.6h.1M260.6 212.6h.1M260.6 216.6h.1M260.6 226.6h.1M260.6 228.6h.1M260.6 230.6h.1M260.6 236.6h.1M260.6 238.6h.1M260.6 240.6h.1M260.6 242.6h.1M260.6 244.6h.1M260.6 248.6h.1M260.6 250.6h.1M260.6 252.6h.1M262.4 211.6h.1M262.4 213.6h.1M262.4 215.6h.1M262.4 217.6h.1M262.4 219.6h.1M262.4 223.6h.1M262.4 227.6h.1M262.4 229.6h.1M262.4 233.6h.1M262.4 237.6h.1M262.4 239.6h.1M262.4 241.6h.1M262.4 243.6h.1M262.4 247.6h.1M262.4 249.6h.1M262.4 253.6h.1M264.2 214.6h.1M264.2 216.6h.1M264.2 218.6h.1M264.2 220.6h.1M264.2 222.6h.1M264.2 228.6h.1M264.2 238.6h.1M264.2 240.6h.1M264.2 242.6h.1M264.2 246.6h.1M264.2 248.6h.1M264.2 250.6h.1M264.2 252.6h.1M266.0 211.6h.1M266.0 217.6h.1M266.0 219.6h.1M266.0 223.6h.1M266.0 227.6h.1M266.0 229.6h.1M266.0 231.6h.1M266.0 237.6h.1M266.0 239.6h.1M266.0 247.6h.1M267.8 220.6h.1M267.8 224.6h.1M267.8 226.6h.1M267.8 230.6h.1M267.8 232.6h.1M267.8 238.6h.1M267.8 242.6h.1M267.8 246.6h.1M267.8 248.6h.1M267.8 250.6h.1M269.6 213.6h.1M269.6 217.6h.1M269.6 227.6h.1M269.6 231.6h.1M269.6 235.6h.1M269.6 241.6h.1M269.6 245.6h.1M269.6 247.6h.1M269.6 251.6h.1M269.6 303.6h.1M271.4 212.6h.1M271.4 214.6h.1M271.4 216.6h.1M271.4 218.6h.1M271.4 226.6h.1M271.4 234.6h.1M271.4 236.6h.1M271.4 244.6h.1M271.4 246.6h.1M273.2 213.6h.1M273.2 215.6h.1M273.2 217.6h.1M273.2 221.6h.1M273.2 225.6h.1M273.2 227.6h.1M273.2 229.6h.1M273.2 233.6h.1M273.2 235.6h.1M273.2 237.6h.1M273.2 241.6h.1M273.2 245.6h.1M275.0 210.6h.1M275.0 214.6h.1M275.0 216.6h.1M275.0 220.6h.1M275.0 222.6h.1M275.0 226.6h.1M275.0 228.6h.1M275.0 230.6h.1M275.0 234.6h.1M275.0 246.6h.1M275.0 250.6h.1M276.8 209.6h.1M276.8 217.6h.1M276.8 219.6h.1M276.8 221.6h.1M276.8 229.6h.1M276.8 235.6h.1M276.8 239.6h.1M276.8 241.6h.1M276.8 243.6h.1M276.8 247.6h.1M278.6 212.6h.1M278.6 218.6h.1M278.6 220.6h.1M278.6 222.6h.1M278.6 224.6h.1M278.6 228.6h.1M278.6 230.6h.1M278.6 232.6h.1M278.6 236.6h.1M278.6 240.6h.1M278.6 244.6h.1M278.6 248.6h.1M278.6 252.6h.1M280.4 213.6h.1M280.4 219.6h.1M280.4 223.6h.1M280.4 227.6h.1M280.4 229.6h.1M280.4 231.6h.1M280.4 233.6h.1M280.4 235.6h.1M280.4 237.6h.1M280.4 239.6h.1M280.4 243.6h.1M280.4 249.6h.1M282.2 210.6h.1M282.2 212.6h.1M282.2 214.6h.1M282.2 220.6h.1M282.2 222.6h.1M282.2 224.6h.1M282.2 226.6h.1M282.2 228.6h.1M282.2 234.6h.1M282.2 236.6h.1M282.2 238.6h.1M282.2 240.6h.1M282.2 242.6h.1M282.2 244.6h.1M284.0 211.6h.1M284.0 221.6h.1M284.0 223.6h.1M284.0 225.6h.1M284.0 227.6h.1M284.0 229.6h.1M284.0 231.6h.1M284.0 235.6h.1M284.0 239.6h.1M284.0 241.6h.1M284.0 245.6h.1M284.0 247.6h.1M284.0 251.6h.1M285.8 210.6h.1M285.8 214.6h.1M285.8 220.6h.1M285.8 226.6h.1M285.8 228.6h.1M285.8 232.6h.1M285.8 234.6h.1M285.8 236.6h.1M285.8 240.6h.1M285.8 242.6h.1M285.8 244.6h.1M285.8 246.6h.1M285.8 248.6h.1M287.6 213.6h.1M287.6 215.6h.1M287.6 217.6h.1M287.6 221.6h.1M287.6 223.6h.1M287.6 225.6h.1M287.6 229.6h.1M287.6 237.6h.1M287.6 243.6h.1M287.6 247.6h.1M287.6 253.6h.1M287.6 301.6h.1M289.4 214.6h.1M289.4 218.6h.1M289.4 228.6h.1M289.4 238.6h.1M289.4 242.6h.1M289.4 244.6h.1M291.2 217.6h.1M291.2 219.6h.1M291.2 221.6h.1M291.2 223.6h.1M291.2 225.6h.1M291.2 227.6h.1M291.2 233.6h.1M291.2 237.6h.1M291.2 245.6h.1M291.2 249.6h.1M291.2 251.6h.1M293.0 214.6h.1M293.0 216.6h.1M293.0 218.6h.1M293.0 224.6h.1M293.0 226.6h.1M293.0 228.6h.1M293.0 234.6h.1M293.0 240.6h.1M293.0 242.6h.1M293.0 244.6h.1M293.0 246.6h.1M293.0 248.6h.1M294.8 213.6h.1M294.8 215.6h.1M294.8 219.6h.1M294.8 225.6h.1M294.8 229.6h.1M294.8 231.6h.1M294.8 233.6h.1M294.8 241.6h.1M294.8 245.6h.1M294.8 249.6h.1M296.6 214.6h.1M296.6 216.6h.1M296.6 218.6h.1M296.6 220.6h.1M296.6 222.6h.1M296.6 224.6h.1M296.6 226.6h.1M296.6 228.6h.1M296.6 230.6h.1M296.6 242.6h.1M296.6 246.6h.1M296.6 248.6h.1M296.6 250.6h.1M296.6 304.6h.1M298.4 215.6h.1M298.4 217.6h.1M298.4 219.6h.1M298.4 235.6h.1M298.4 237.6h.1M298.4 243.6h.1M298.4 245.6h.1M298.4 247.6h.1M298.4 251.6h.1M298.4 307.6h.1M300.2 216.6h.1M300.2 224.6h.1M300.2 226.6h.1M300.2 228.6h.1M300.2 230.6h.1M300.2 232.6h.1M300.2 234.6h.1M300.2 236.6h.1M300.2 240.6h.1M300.2 242.6h.1M300.2 244.6h.1M300.2 246.6h.1M300.2 294.6h.1M300.2 304.6h.1M300.2 306.6h.1M302.0 215.6h.1M302.0 221.6h.1M302.0 223.6h.1M302.0 225.6h.1M302.0 227.6h.1M302.0 229.6h.1M302.0 237.6h.1M302.0 239.6h.1M302.0 247.6h.1M302.0 251.6h.1M302.0 253.6h.1M302.0 279.6h.1M302.0 299.6h.1M302.0 301.6h.1M302.0 307.6h.1M302.0 309.6h.1M303.8 230.6h.1M303.8 232.6h.1M303.8 236.6h.1M303.8 238.6h.1M303.8 246.6h.1M303.8 248.6h.1M303.8 250.6h.1M303.8 282.6h.1M303.8 290.6h.1M303.8 294.6h.1M303.8 296.6h.1M303.8 300.6h.1M303.8 304.6h.1M303.8 310.6h.1M303.8 316.6h.1M305.6 217.6h.1M305.6 219.6h.1M305.6 227.6h.1M305.6 235.6h.1M305.6 241.6h.1M305.6 249.6h.1M305.6 251.6h.1M305.6 253.6h.1M305.6 255.6h.1M305.6 259.6h.1M305.6 279.6h.1M305.6 283.6h.1M305.6 285.6h.1M305.6 289.6h.1M305.6 291.6h.1M305.6 293.6h.1M305.6 295.6h.1M305.6 297.6h.1M305.6 301.6h.1M305.6 307.6h.1M305.6 309.6h.1M305.6 313.6h.1M305.6 315.6h.1M307.4 220.6h.1M307.4 226.6h.1M307.4 228.6h.1M307.4 230.6h.1M307.4 234.6h.1M307.4 238.6h.1M307.4 242.6h.1M307.4 244.6h.1M307.4 246.6h.1M307.4 248.6h.1M307.4 256.6h.1M307.4 258.6h.1M307.4 260.6h.1M307.4 262.6h.1M307.4 264.6h.1M307.4 266.6h.1M307.4 268.6h.1M307.4 272.6h.1M307.4 274.6h.1M307.4 278.6h.1M307.4 280.6h.1M307.4 282.6h.1M307.4 284.6h.1M307.4 286.6h.1M307.4 288.6h.1M307.4 292.6h.1M307.4 294.6h.1M307.4 296.6h.1M307.4 298.6h.1M307.4 300.6h.1M307.4 302.6h.1M307.4 304.6h.1M307.4 308.6h.1M307.4 310.6h.1M307.4 314.6h.1M307.4 316.6h.1M307.4 318.6h.1M309.2 217.6h.1M309.2 219.6h.1M309.2 227.6h.1M309.2 229.6h.1M309.2 231.6h.1M309.2 237.6h.1M309.2 239.6h.1M309.2 241.6h.1M309.2 245.6h.1M309.2 247.6h.1M309.2 251.6h.1M309.2 253.6h.1M309.2 257.6h.1M309.2 259.6h.1M309.2 263.6h.1M309.2 265.6h.1M309.2 271.6h.1M309.2 273.6h.1M309.2 275.6h.1M309.2 279.6h.1M309.2 281.6h.1M309.2 283.6h.1M309.2 285.6h.1M309.2 287.6h.1M309.2 289.6h.1M309.2 293.6h.1M309.2 295.6h.1M309.2 297.6h.1M309.2 299.6h.1M309.2 301.6h.1M309.2 303.6h.1M309.2 305.6h.1M309.2 307.6h.1M309.2 309.6h.1M309.2 315.6h.1M309.2 317.6h.1M311.0 218.6h.1M311.0 222.6h.1M311.0 226.6h.1M311.0 228.6h.1M311.0 230.6h.1M311.0 232.6h.1M311.0 236.6h.1M311.0 242.6h.1M311.0 244.6h.1M311.0 246.6h.1M311.0 250.6h.1M311.0 252.6h.1M311.0 254.6h.1M311.0 262.6h.1M311.0 266.6h.1M311.0 268.6h.1M311.0 270.6h.1M311.0 272.6h.1M311.0 274.6h.1M311.0 278.6h.1M311.0 282.6h.1M311.0 284.6h.1M311.0 288.6h.1M311.0 290.6h.1M311.0 292.6h.1M311.0 298.6h.1M311.0 302.6h.1M311.0 308.6h.1M311.0 310.6h.1M311.0 312.6h.1M311.0 314.6h.1M311.0 316.6h.1M311.0 318.6h.1M312.8 219.6h.1M312.8 221.6h.1M312.8 223.6h.1M312.8 227.6h.1M312.8 231.6h.1M312.8 233.6h.1M312.8 237.6h.1M312.8 241.6h.1M312.8 249.6h.1M312.8 251.6h.1M312.8 253.6h.1M312.8 259.6h.1M312.8 263.6h.1M312.8 265.6h.1M312.8 275.6h.1M312.8 277.6h.1M312.8 279.6h.1M312.8 283.6h.1M312.8 285.6h.1M312.8 287.6h.1M312.8 289.6h.1M312.8 293.6h.1M312.8 297.6h.1M312.8 303.6h.1M312.8 305.6h.1M312.8 309.6h.1M312.8 311.6h.1M312.8 317.6h.1M314.6 220.6h.1M314.6 224.6h.1M314.6 226.6h.1M314.6 228.6h.1M314.6 230.6h.1M314.6 232.6h.1M314.6 234.6h.1M314.6 240.6h.1M314.6 248.6h.1M314.6 252.6h.1M314.6 254.6h.1M314.6 256.6h.1M314.6 260.6h.1M314.6 262.6h.1M314.6 264.6h.1M314.6 270.6h.1M314.6 272.6h.1M314.6 274.6h.1M314.6 280.6h.1M314.6 282.6h.1M314.6 284.6h.1M314.6 288.6h.1M314.6 294.6h.1M314.6 298.6h.1M314.6 302.6h.1M314.6 304.6h.1M314.6 308.6h.1M314.6 314.6h.1M314.6 316.6h.1M316.4 223.6h.1M316.4 231.6h.1M316.4 235.6h.1M316.4 237.6h.1M316.4 239.6h.1M316.4 245.6h.1M316.4 249.6h.1M316.4 253.6h.1M316.4 259.6h.1M316.4 261.6h.1M316.4 265.6h.1M316.4 273.6h.1M316.4 275.6h.1M316.4 277.6h.1M316.4 285.6h.1M316.4 289.6h.1M316.4 291.6h.1M316.4 295.6h.1M316.4 299.6h.1M316.4 301.6h.1M316.4 311.6h.1M316.4 313.6h.1M316.4 317.6h.1M318.2 222.6h.1M318.2 226.6h.1M318.2 230.6h.1M318.2 236.6h.1M318.2 238.6h.1M318.2 240.6h.1M318.2 244.6h.1M318.2 248.6h.1M318.2 250.6h.1M318.2 252.6h.1M318.2 254.6h.1M318.2 256.6h.1M318.2 262.6h.1M318.2 264.6h.1M318.2 266.6h.1M318.2 268.6h.1M318.2 276.6h.1M318.2 280.6h.1M318.2 286.6h.1M318.2 290.6h.1M318.2 292.6h.1M318.2 296.6h.1M318.2 298.6h.1M318.2 302.6h.1M318.2 304.6h.1M318.2 308.6h.1M318.2 312.6h.1M318.2 316.6h.1M320.0 229.6h.1M320.0 233.6h.1M320.0 243.6h.1M320.0 245.6h.1M320.0 253.6h.1M320.0 259.6h.1M320.0 261.6h.1M320.0 265.6h.1M320.0 267.6h.1M320.0 271.6h.1M320.0 273.6h.1M320.0 275.6h.1M320.0 277.6h.1M320.0 287.6h.1M320.0 291.6h.1M320.0 295.6h.1M320.0 297.6h.1M320.0 299.6h.1M320.0 305.6h.1M320.0 311.6h.1M320.0 313.6h.1M321.8 224.6h.1M321.8 230.6h.1M321.8 232.6h.1M321.8 240.6h.1M321.8 244.6h.1M321.8 250.6h.1M321.8 252.6h.1M321.8 258.6h.1M321.8 260.6h.1M321.8 262.6h.1M321.8 264.6h.1M321.8 268.6h.1M321.8 270.6h.1M321.8 274.6h.1M321.8 276.6h.1M321.8 280.6h.1M321.8 284.6h.1M321.8 286.6h.1M321.8 294.6h.1M321.8 296.6h.1M321.8 300.6h.1M321.8 304.6h.1M321.8 306.6h.1M321.8 308.6h.1M321.8 310.6h.1M321.8 312.6h.1M321.8 314.6h.1M321.8 316.6h.1M323.6 229.6h.1M323.6 231.6h.1M323.6 233.6h.1M323.6 241.6h.1M323.6 245.6h.1M323.6 247.6h.1M323.6 251.6h.1M323.6 257.6h.1M323.6 265.6h.1M323.6 267.6h.1M323.6 269.6h.1M323.6 271.6h.1M323.6 273.6h.1M323.6 277.6h.1M323.6 285.6h.1M323.6 287.6h.1M323.6 293.6h.1M323.6 295.6h.1M323.6 299.6h.1M323.6 301.6h.1M323.6 313.6h.1M323.6 315.6h.1M323.6 317.6h.1M325.4 228.6h.1M325.4 230.6h.1M325.4 236.6h.1M325.4 242.6h.1M325.4 244.6h.1M325.4 246.6h.1M325.4 250.6h.1M325.4 252.6h.1M325.4 256.6h.1M325.4 260.6h.1M325.4 270.6h.1M325.4 274.6h.1M325.4 278.6h.1M325.4 280.6h.1M325.4 282.6h.1M325.4 284.6h.1M325.4 288.6h.1M325.4 290.6h.1M325.4 292.6h.1M325.4 294.6h.1M325.4 296.6h.1M325.4 300.6h.1M325.4 302.6h.1M325.4 306.6h.1M325.4 314.6h.1M325.4 316.6h.1M325.4 318.6h.1M327.2 229.6h.1M327.2 233.6h.1M327.2 235.6h.1M327.2 237.6h.1M327.2 239.6h.1M327.2 241.6h.1M327.2 243.6h.1M327.2 245.6h.1M327.2 249.6h.1M327.2 251.6h.1M327.2 255.6h.1M327.2 265.6h.1M327.2 267.6h.1M327.2 269.6h.1M327.2 273.6h.1M327.2 277.6h.1M327.2 283.6h.1M327.2 289.6h.1M327.2 291.6h.1M327.2 293.6h.1M327.2 301.6h.1M327.2 305.6h.1M327.2 307.6h.1M327.2 313.6h.1M327.2 317.6h.1M329.0 232.6h.1M329.0 236.6h.1M329.0 238.6h.1M329.0 240.6h.1M329.0 246.6h.1M329.0 250.6h.1M329.0 252.6h.1M329.0 254.6h.1M329.0 256.6h.1M329.0 258.6h.1M329.0 260.6h.1M329.0 266.6h.1M329.0 268.6h.1M329.0 272.6h.1M329.0 276.6h.1M329.0 280.6h.1M329.0 286.6h.1M329.0 288.6h.1M329.0 294.6h.1M329.0 296.6h.1M329.0 298.6h.1M329.0 300.6h.1M329.0 304.6h.1M329.0 306.6h.1M329.0 316.6h.1M329.0 318.6h.1M330.8 233.6h.1M330.8 237.6h.1M330.8 239.6h.1M330.8 249.6h.1M330.8 251.6h.1M330.8 257.6h.1M330.8 265.6h.1M330.8 267.6h.1M330.8 269.6h.1M330.8 273.6h.1M330.8 277.6h.1M330.8 283.6h.1M330.8 287.6h.1M330.8 291.6h.1M330.8 295.6h.1M330.8 297.6h.1M330.8 299.6h.1M330.8 301.6h.1M330.8 317.6h.1M332.6 232.6h.1M332.6 236.6h.1M332.6 242.6h.1M332.6 244.6h.1M332.6 250.6h.1M332.6 256.6h.1M332.6 258.6h.1M332.6 260.6h.1M332.6 262.6h.1M332.6 270.6h.1M332.6 276.6h.1M332.6 288.6h.1M332.6 290.6h.1M332.6 298.6h.1M332.6 300.6h.1M332.6 302.6h.1M332.6 310.6h.1M332.6 312.6h.1M332.6 314.6h.1M332.6 318.6h.1M334.4 243.6h.1M334.4 245.6h.1M334.4 247.6h.1M334.4 251.6h.1M334.4 259.6h.1M334.4 261.6h.1M334.4 263.6h.1M334.4 269.6h.1M334.4 275.6h.1M334.4 277.6h.1M334.4 279.6h.1M334.4 281.6h.1M334.4 283.6h.1M334.4 285.6h.1M334.4 287.6h.1M334.4 289.6h.1M334.4 291.6h.1M334.4 293.6h.1M334.4 301.6h.1M334.4 303.6h.1M334.4 307.6h.1M334.4 309.6h.1M334.4 311.6h.1M334.4 313.6h.1M336.2 236.6h.1M336.2 244.6h.1M336.2 252.6h.1M336.2 256.6h.1M336.2 262.6h.1M336.2 268.6h.1M336.2 270.6h.1M336.2 272.6h.1M336.2 274.6h.1M336.2 280.6h.1M336.2 286.6h.1M336.2 288.6h.1M336.2 292.6h.1M336.2 302.6h.1M336.2 304.6h.1M336.2 306.6h.1M336.2 308.6h.1M336.2 312.6h.1M336.2 318.6h.1M338.0 241.6h.1M338.0 243.6h.1M338.0 247.6h.1M338.0 253.6h.1M338.0 261.6h.1M338.0 263.6h.1M338.0 265.6h.1M338.0 267.6h.1M338.0 269.6h.1M338.0 271.6h.1M338.0 273.6h.1M338.0 275.6h.1M338.0 277.6h.1M338.0 281.6h.1M338.0 283.6h.1M338.0 285.6h.1M338.0 289.6h.1M338.0 293.6h.1M338.0 299.6h.1M338.0 301.6h.1M338.0 303.6h.1M338.0 305.6h.1M338.0 307.6h.1M338.0 309.6h.1M338.0 313.6h.1M338.0 315.6h.1M339.8 242.6h.1M339.8 244.6h.1M339.8 248.6h.1M339.8 252.6h.1M339.8 256.6h.1M339.8 262.6h.1M339.8 268.6h.1M339.8 270.6h.1M339.8 274.6h.1M339.8 276.6h.1M339.8 278.6h.1M339.8 280.6h.1M339.8 286.6h.1M339.8 288.6h.1M339.8 290.6h.1M339.8 292.6h.1M339.8 294.6h.1M339.8 296.6h.1M339.8 298.6h.1M339.8 304.6h.1M339.8 306.6h.1M339.8 308.6h.1M339.8 310.6h.1M339.8 312.6h.1M339.8 314.6h.1M339.8 318.6h.1M341.6 249.6h.1M341.6 251.6h.1M341.6 253.6h.1M341.6 255.6h.1M341.6 257.6h.1M341.6 261.6h.1M341.6 265.6h.1M341.6 267.6h.1M341.6 269.6h.1M341.6 271.6h.1M341.6 275.6h.1M341.6 279.6h.1M341.6 281.6h.1M341.6 283.6h.1M341.6 287.6h.1M341.6 289.6h.1M341.6 291.6h.1M341.6 293.6h.1M341.6 295.6h.1M341.6 297.6h.1M341.6 299.6h.1M341.6 301.6h.1M341.6 303.6h.1M341.6 311.6h.1M341.6 313.6h.1M341.6 315.6h.1M341.6 317.6h.1M343.4 250.6h.1M343.4 252.6h.1M343.4 258.6h.1M343.4 262.6h.1M343.4 268.6h.1M343.4 270.6h.1M343.4 272.6h.1M343.4 274.6h.1M343.4 286.6h.1M343.4 288.6h.1M343.4 290.6h.1M343.4 294.6h.1M343.4 296.6h.1M343.4 298.6h.1M343.4 308.6h.1M343.4 310.6h.1M343.4 312.6h.1M343.4 314.6h.1M343.4 316.6h.1M345.2 259.6h.1M345.2 261.6h.1M345.2 265.6h.1M345.2 275.6h.1M345.2 281.6h.1M345.2 285.6h.1M345.2 295.6h.1M345.2 299.6h.1M345.2 301.6h.1M345.2 305.6h.1M345.2 311.6h.1M347.0 270.6h.1M347.0 272.6h.1M347.0 282.6h.1M347.0 290.6h.1M347.0 294.6h.1M347.0 298.6h.1M347.0 300.6h.1M347.0 312.6h.1M348.8 267.6h.1M348.8 269.6h.1M348.8 273.6h.1M348.8 287.6h.1M348.8 291.6h.1M348.8 299.6h.1M348.8 301.6h.1"/>
<path stroke="#e1bbb1" d="M248.0 223.6h.1M248.0 233.6h.1M249.8 220.6h.1M249.8 226.6h.1M249.8 230.6h.1M249.8 232.6h.1M249.8 236.6h.1M249.8 238.6h.1M251.6 219.6h.1M251.6 221.6h.1M251.6 227.6h.1M251.6 231.6h.1M251.6 235.6h.1M251.6 241.6h.1M253.4 220.6h.1M253.4 234.6h.1M253.4 238.6h.1M253.4 240.6h.1M253.4 242.6h.1M253.4 244.6h.1M255.2 225.6h.1M255.2 229.6h.1M255.2 231.6h.1M255.2 245.6h.1M255.2 247.6h.1M257.0 224.6h.1M257.0 234.6h.1M257.0 236.6h.1M257.0 242.6h.1M257.0 248.6h.1M258.8 223.6h.1M258.8 229.6h.1M258.8 231.6h.1M258.8 233.6h.1M258.8 237.6h.1M258.8 241.6h.1M260.6 220.6h.1M260.6 222.6h.1M260.6 224.6h.1M260.6 234.6h.1M260.6 246.6h.1M262.4 221.6h.1M262.4 231.6h.1M262.4 235.6h.1M262.4 251.6h.1M264.2 212.6h.1M264.2 226.6h.1M264.2 232.6h.1M266.0 245.6h.1M266.0 249.6h.1M266.0 251.6h.1M267.8 236.6h.1M267.8 244.6h.1M267.8 254.6h.1M267.8 268.6h.1M267.8 284.6h.1M271.4 230.6h.1M271.4 254.6h.1M271.4 302.6h.1M273.2 239.6h.1M273.2 247.6h.1M275.0 248.6h.1M276.8 237.6h.1M276.8 249.6h.1M276.8 255.6h.1M276.8 307.6h.1M276.8 311.6h.1M276.8 315.6h.1M278.6 242.6h.1M278.6 246.6h.1M278.6 288.6h.1M278.6 294.6h.1M280.4 247.6h.1M280.4 253.6h.1M280.4 297.6h.1M280.4 299.6h.1M280.4 313.6h.1M282.2 246.6h.1M282.2 248.6h.1M282.2 304.6h.1M284.0 249.6h.1M284.0 293.6h.1M284.0 297.6h.1M284.0 303.6h.1M284.0 317.6h.1M285.8 250.6h.1M285.8 294.6h.1M287.6 239.6h.1M287.6 245.6h.1M287.6 249.6h.1M287.6 291.6h.1M289.4 236.6h.1M289.4 248.6h.1M289.4 254.6h.1M289.4 294.6h.1M291.2 247.6h.1M291.2 317.6h.1M293.0 252.6h.1M293.0 294.6h.1M293.0 302.6h.1M293.0 306.6h.1M294.8 235.6h.1M294.8 247.6h.1M294.8 257.6h.1M294.8 299.6h.1M294.8 307.6h.1M296.6 244.6h.1M298.4 249.6h.1M298.4 303.6h.1M298.4 313.6h.1M298.4 317.6h.1M300.2 256.6h.1M300.2 260.6h.1M300.2 274.6h.1M300.2 296.6h.1M300.2 298.6h.1M300.2 312.6h.1M300.2 314.6h.1M302.0 249.6h.1M302.0 255.6h.1M302.0 257.6h.1M302.0 261.6h.1M302.0 273.6h.1M302.0 287.6h.1M302.0 289.6h.1M302.0 295.6h.1M302.0 303.6h.1M302.0 311.6h.1M302.0 317.6h.1M303.8 252.6h.1M303.8 254.6h.1M303.8 258.6h.1M303.8 262.6h.1M303.8 264.6h.1M303.8 266.6h.1M303.8 272.6h.1M303.8 278.6h.1M303.8 280.6h.1M303.8 286.6h.1M303.8 288.6h.1M303.8 298.6h.1M303.8 306.6h.1M303.8 312.6h.1M305.6 257.6h.1M305.6 261.6h.1M305.6 263.6h.1M305.6 269.6h.1M305.6 271.6h.1M305.6 273.6h.1M305.6 277.6h.1M305.6 287.6h.1M305.6 299.6h.1M305.6 311.6h.1M305.6 317.6h.1M307.4 270.6h.1M307.4 276.6h.1M307.4 290.6h.1M307.4 306.6h.1M309.2 269.6h.1M309.2 313.6h.1M311.0 260.6h.1M311.0 300.6h.1M323.6 311.6h.1M332.6 248.6h.1M338.0 297.6h.1M339.8 254.6h.1M339.8 300.6h.1M341.6 259.6h.1M341.6 263.6h.1M341.6 273.6h.1M341.6 285.6h.1M341.6 307.6h.1M343.4 254.6h.1M343.4 260.6h.1M343.4 276.6h.1M343.4 280.6h.1M343.4 282.6h.1M343.4 292.6h.1M343.4 300.6h.1M343.4 304.6h.1M343.4 306.6h.1M345.2 263.6h.1M345.2 271.6h.1M345.2 273.6h.1M345.2 283.6h.1M345.2 287.6h.1M345.2 293.6h.1M345.2 297.6h.1M345.2 303.6h.1M345.2 309.6h.1M345.2 313.6h.1M345.2 315.6h.1M345.2 317.6h.1M347.0 260.6h.1M347.0 262.6h.1M347.0 264.6h.1M347.0 266.6h.1M347.0 268.6h.1M347.0 274.6h.1M347.0 278.6h.1M347.0 284.6h.1M347.0 288.6h.1M347.0 302.6h.1M347.0 304.6h.1M347.0 306.6h.1M347.0 308.6h.1M347.0 314.6h.1M348.8 275.6h.1M348.8 281.6h.1M348.8 283.6h.1M348.8 285.6h.1M348.8 293.6h.1M348.8 297.6h.1"/>
<path stroke="#e8b0a1" d="M248.0 225.6h.1M248.0 227.6h.1M248.0 231.6h.1M249.8 222.6h.1M249.8 228.6h.1M249.8 234.6h.1M251.6 223.6h.1M251.6 225.6h.1M251.6 239.6h.1M253.4 226.6h.1M253.4 230.6h.1M255.2 221.6h.1M255.2 223.6h.1M255.2 235.6h.1M255.2 239.6h.1M255.2 241.6h.1M257.0 228.6h.1M260.6 232.6h.1M264.2 254.6h.1M266.0 255.6h.1M266.0 265.6h.1M267.8 262.6h.1M267.8 264.6h.1M267.8 294.6h.1M269.6 249.6h.1M269.6 293.6h.1M269.6 295.6h.1M269.6 301.6h.1M269.6 305.6h.1M271.4 250.6h.1M271.4 282.6h.1M271.4 294.6h.1M271.4 296.6h.1M273.2 249.6h.1M275.0 310.6h.1M276.8 303.6h.1M278.6 270.6h.1M278.6 284.6h.1M280.4 251.6h.1M282.2 306.6h.1M284.0 255.6h.1M284.0 281.6h.1M284.0 299.6h.1M284.0 307.6h.1M285.8 258.6h.1M285.8 306.6h.1M285.8 308.6h.1M285.8 310.6h.1M287.6 257.6h.1M287.6 263.6h.1M287.6 279.6h.1M287.6 317.6h.1M289.4 250.6h.1M289.4 252.6h.1M289.4 256.6h.1M289.4 268.6h.1M289.4 292.6h.1M289.4 306.6h.1M289.4 310.6h.1M289.4 314.6h.1M291.2 285.6h.1M291.2 299.6h.1M291.2 305.6h.1M291.2 307.6h.1M293.0 250.6h.1M294.8 251.6h.1M294.8 279.6h.1M294.8 297.6h.1M294.8 303.6h.1M294.8 315.6h.1M296.6 294.6h.1M296.6 296.6h.1M296.6 302.6h.1M296.6 316.6h.1M298.4 253.6h.1M298.4 257.6h.1M298.4 269.6h.1M298.4 277.6h.1M298.4 279.6h.1M298.4 287.6h.1M298.4 301.6h.1M300.2 250.6h.1M300.2 264.6h.1M300.2 276.6h.1M300.2 278.6h.1M300.2 288.6h.1M300.2 300.6h.1M300.2 302.6h.1M300.2 318.6h.1M302.0 259.6h.1M302.0 269.6h.1M302.0 281.6h.1M302.0 283.6h.1M302.0 297.6h.1M302.0 305.6h.1M302.0 313.6h.1M302.0 315.6h.1M303.8 256.6h.1M303.8 268.6h.1M303.8 292.6h.1M303.8 302.6h.1M303.8 308.6h.1M303.8 314.6h.1M303.8 318.6h.1M305.6 265.6h.1M305.6 267.6h.1M305.6 275.6h.1M305.6 281.6h.1M343.4 264.6h.1M345.2 255.6h.1M345.2 267.6h.1M345.2 269.6h.1M345.2 277.6h.1M345.2 279.6h.1M345.2 307.6h.1M347.0 276.6h.1M347.0 280.6h.1M347.0 286.6h.1M347.0 292.6h.1M347.0 296.6h.1M347.0 310.6h.1M348.8 277.6h.1M348.8 279.6h.1M348.8 289.6h.1"/>
<path stroke="#eea592" d="M251.6 233.6h.1M266.0 253.6h.1M267.8 252.6h.1M267.8 266.6h.1M267.8 276.6h.1M267.8 282.6h.1M267.8 286.6h.1M267.8 292.6h.1M269.6 253.6h.1M269.6 257.6h.1M269.6 259.6h.1M269.6 261.6h.1M269.6 265.6h.1M269.6 273.6h.1M269.6 283.6h.1M271.4 252.6h.1M271.4 260.6h.1M271.4 278.6h.1M271.4 280.6h.1M271.4 292.6h.1M271.4 298.6h.1M273.2 251.6h.1M275.0 256.6h.1M275.0 280.6h.1M275.0 282.6h.1M275.0 288.6h.1M275.0 296.6h.1M275.0 298.6h.1M275.0 302.6h.1M275.0 316.6h.1M275.0 318.6h.1M276.8 263.6h.1M276.8 265.6h.1M276.8 291.6h.1M278.6 250.6h.1M278.6 256.6h.1M278.6 260.6h.1M278.6 272.6h.1M278.6 296.6h.1M278.6 300.6h.1M278.6 304.6h.1M280.4 255.6h.1M280.4 283.6h.1M280.4 289.6h.1M280.4 293.6h.1M280.4 315.6h.1M280.4 317.6h.1M282.2 250.6h.1M282.2 288.6h.1M282.2 296.6h.1M285.8 254.6h.1M285.8 260.6h.1M285.8 278.6h.1M285.8 304.6h.1M287.6 265.6h.1M287.6 269.6h.1M287.6 275.6h.1M287.6 289.6h.1M287.6 295.6h.1M287.6 297.6h.1M287.6 303.6h.1M287.6 307.6h.1M289.4 274.6h.1M289.4 278.6h.1M291.2 257.6h.1M291.2 267.6h.1M291.2 275.6h.1M291.2 277.6h.1M291.2 279.6h.1M291.2 293.6h.1M291.2 311.6h.1M293.0 288.6h.1M293.0 292.6h.1M293.0 314.6h.1M293.0 318.6h.1M294.8 253.6h.1M294.8 255.6h.1M294.8 271.6h.1M294.8 287.6h.1M294.8 291.6h.1M294.8 293.6h.1M294.8 311.6h.1M296.6 264.6h.1M296.6 268.6h.1M296.6 278.6h.1M296.6 282.6h.1M296.6 290.6h.1M296.6 308.6h.1M296.6 312.6h.1M296.6 318.6h.1M298.4 259.6h.1M298.4 267.6h.1M298.4 275.6h.1M298.4 281.6h.1M298.4 291.6h.1M298.4 305.6h.1M298.4 309.6h.1M298.4 311.6h.1M300.2 254.6h.1M300.2 262.6h.1M300.2 268.6h.1M300.2 284.6h.1M300.2 292.6h.1M300.2 308.6h.1M300.2 310.6h.1M302.0 271.6h.1M302.0 277.6h.1M302.0 291.6h.1M303.8 260.6h.1M303.8 284.6h.1"/>
<path stroke="#f29983" d="M266.0 263.6h.1M267.8 280.6h.1M267.8 296.6h.1M269.6 271.6h.1M269.6 307.6h.1M271.4 262.6h.1M271.4 284.6h.1M271.4 308.6h.1M273.2 261.6h.1M273.2 267.6h.1M273.2 293.6h.1M273.2 297.6h.1M273.2 307.6h.1M273.2 313.6h.1M275.0 252.6h.1M275.0 262.6h.1M275.0 294.6h.1M276.8 251.6h.1M276.8 287.6h.1M276.8 297.6h.1M276.8 299.6h.1M276.8 305.6h.1M278.6 292.6h.1M278.6 302.6h.1M278.6 308.6h.1M278.6 318.6h.1M280.4 259.6h.1M280.4 263.6h.1M280.4 269.6h.1M280.4 285.6h.1M282.2 256.6h.1M282.2 260.6h.1M282.2 266.6h.1M282.2 274.6h.1M282.2 290.6h.1M282.2 312.6h.1M284.0 301.6h.1M285.8 284.6h.1M285.8 292.6h.1M287.6 251.6h.1M287.6 261.6h.1M287.6 309.6h.1M289.4 262.6h.1M289.4 264.6h.1M289.4 280.6h.1M289.4 288.6h.1M289.4 312.6h.1M291.2 291.6h.1M291.2 297.6h.1M293.0 254.6h.1M293.0 274.6h.1M293.0 276.6h.1M293.0 278.6h.1M293.0 282.6h.1M293.0 308.6h.1M293.0 310.6h.1M294.8 273.6h.1M294.8 295.6h.1M294.8 301.6h.1M294.8 313.6h.1M296.6 252.6h.1M296.6 288.6h.1M296.6 300.6h.1M296.6 310.6h.1M296.6 314.6h.1M298.4 271.6h.1M298.4 295.6h.1M298.4 299.6h.1M298.4 315.6h.1M300.2 252.6h.1M300.2 258.6h.1M300.2 280.6h.1M300.2 290.6h.1M300.2 316.6h.1M302.0 263.6h.1M302.0 265.6h.1M302.0 275.6h.1M302.0 285.6h.1M303.8 270.6h.1M303.8 274.6h.1M303.8 276.6h.1"/>
<path stroke="#f68e74" d="M266.0 257.6h.1M266.0 259.6h.1M266.0 261.6h.1M267.8 256.6h.1M267.8 270.6h.1M267.8 288.6h.1M269.6 269.6h.1M269.6 279.6h.1M271.4 272.6h.1M271.4 306.6h.1M271.4 312.6h.1M273.2 253.6h.1M273.2 299.6h.1M273.2 305.6h.1M275.0 290.6h.1M276.8 273.6h.1M276.8 289.6h.1M276.8 313.6h.1M278.6 306.6h.1M278.6 310.6h.1M280.4 273.6h.1M280.4 303.6h.1M282.2 252.6h.1M282.2 254.6h.1M282.2 300.6h.1M282.2 314.6h.1M282.2 318.6h.1M284.0 257.6h.1M284.0 295.6h.1M284.0 313.6h.1M285.8 252.6h.1M285.8 268.6h.1M285.8 282.6h.1M285.8 298.6h.1M285.8 300.6h.1M285.8 316.6h.1M287.6 271.6h.1M287.6 285.6h.1M287.6 305.6h.1M287.6 313.6h.1M289.4 276.6h.1M289.4 290.6h.1M289.4 296.6h.1M289.4 298.6h.1M289.4 302.6h.1M289.4 304.6h.1M289.4 308.6h.1M289.4 316.6h.1M291.2 271.6h.1M291.2 295.6h.1M293.0 256.6h.1M293.0 258.6h.1M293.0 260.6h.1M293.0 284.6h.1M294.8 283.6h.1M294.8 317.6h.1M296.6 254.6h.1M296.6 270.6h.1M296.6 274.6h.1M296.6 284.6h.1M296.6 298.6h.1M296.6 306.6h.1M298.4 255.6h.1M298.4 293.6h.1M298.4 297.6h.1M300.2 266.6h.1M300.2 272.6h.1M300.2 282.6h.1M300.2 286.6h.1M302.0 267.6h.1"/>
<path stroke="#f98165" d="M267.8 258.6h.1M267.8 260.6h.1M267.8 278.6h.1M269.6 255.6h.1M269.6 285.6h.1M269.6 291.6h.1M269.6 297.6h.1M269.6 299.6h.1M271.4 268.6h.1M271.4 300.6h.1M271.4 310.6h.1M273.2 263.6h.1M273.2 283.6h.1M273.2 289.6h.1M273.2 295.6h.1M273.2 303.6h.1M273.2 309.6h.1M273.2 315.6h.1M275.0 258.6h.1M275.0 276.6h.1M275.0 292.6h.1M275.0 304.6h.1M275.0 308.6h.1M276.8 261.6h.1M276.8 283.6h.1M276.8 301.6h.1M276.8 317.6h.1M278.6 254.6h.1M278.6 280.6h.1M278.6 290.6h.1M278.6 314.6h.1M280.4 287.6h.1M280.4 295.6h.1M280.4 301.6h.1M280.4 305.6h.1M280.4 307.6h.1M282.2 264.6h.1M282.2 292.6h.1M282.2 302.6h.1M282.2 308.6h.1M284.0 253.6h.1M284.0 287.6h.1M284.0 291.6h.1M284.0 309.6h.1M287.6 255.6h.1M287.6 273.6h.1M287.6 277.6h.1M287.6 299.6h.1M287.6 311.6h.1M291.2 253.6h.1M291.2 261.6h.1M291.2 281.6h.1M293.0 266.6h.1M293.0 296.6h.1M293.0 300.6h.1M293.0 304.6h.1M294.8 275.6h.1M294.8 305.6h.1M296.6 272.6h.1"/>
<path stroke="#fb7556" d="M267.8 274.6h.1M267.8 290.6h.1M269.6 275.6h.1M269.6 281.6h.1M271.4 304.6h.1M271.4 314.6h.1M273.2 271.6h.1M273.2 273.6h.1M273.2 301.6h.1M273.2 311.6h.1M273.2 317.6h.1M275.0 254.6h.1M275.0 260.6h.1M275.0 300.6h.1M275.0 306.6h.1M275.0 312.6h.1M276.8 253.6h.1M276.8 269.6h.1M276.8 293.6h.1M276.8 295.6h.1M278.6 298.6h.1M278.6 312.6h.1M280.4 281.6h.1M280.4 311.6h.1M282.2 258.6h.1M282.2 268.6h.1M282.2 276.6h.1M282.2 282.6h.1M282.2 284.6h.1M282.2 298.6h.1M282.2 310.6h.1M284.0 283.6h.1M284.0 289.6h.1M284.0 311.6h.1M284.0 315.6h.1M285.8 274.6h.1M285.8 312.6h.1M285.8 314.6h.1M287.6 259.6h.1M287.6 287.6h.1M287.6 293.6h.1M289.4 258.6h.1M289.4 300.6h.1M291.2 287.6h.1M291.2 303.6h.1M291.2 309.6h.1M291.2 313.6h.1M291.2 315.6h.1M293.0 264.6h.1M293.0 280.6h.1M293.0 298.6h.1M293.0 316.6h.1M294.8 267.6h.1M294.8 281.6h.1M294.8 285.6h.1M296.6 256.6h.1M296.6 260.6h.1M296.6 262.6h.1M296.6 292.6h.1M298.4 265.6h.1M298.4 273.6h.1M298.4 283.6h.1M298.4 285.6h.1M298.4 289.6h.1M300.2 270.6h.1"/>
<path stroke="#fd6747" d="M267.8 272.6h.1M269.6 289.6h.1M271.4 258.6h.1M271.4 290.6h.1M273.2 279.6h.1M273.2 291.6h.1M275.0 314.6h.1M276.8 271.6h.1M276.8 309.6h.1M278.6 286.6h.1M278.6 316.6h.1M280.4 271.6h.1M280.4 309.6h.1M282.2 294.6h.1M282.2 316.6h.1M284.0 305.6h.1M285.8 256.6h.1M285.8 276.6h.1M285.8 290.6h.1M285.8 296.6h.1M285.8 302.6h.1M285.8 318.6h.1M287.6 315.6h.1M289.4 266.6h.1M289.4 286.6h.1M289.4 318.6h.1M291.2 255.6h.1M291.2 273.6h.1M291.2 301.6h.1M293.0 270.6h.1M293.0 286.6h.1M293.0 312.6h.1M294.8 277.6h.1M294.8 289.6h.1M294.8 309.6h.1M296.6 258.6h.1"/>
<path stroke="#fe5838" d="M269.6 267.6h.1M269.6 287.6h.1M271.4 264.6h.1M271.4 286.6h.1M273.2 255.6h.1M273.2 259.6h.1M273.2 269.6h.1M273.2 275.6h.1M273.2 287.6h.1M275.0 284.6h.1M276.8 257.6h.1M276.8 281.6h.1M278.6 276.6h.1M280.4 257.6h.1M280.4 267.6h.1M280.4 291.6h.1M282.2 278.6h.1M284.0 285.6h.1M285.8 288.6h.1M287.6 267.6h.1M289.4 260.6h.1M289.4 282.6h.1M291.2 289.6h.1M293.0 290.6h.1M296.6 276.6h.1M296.6 286.6h.1M298.4 261.6h.1M298.4 263.6h.1"/>
<path stroke="#ff4629" d="M271.4 256.6h.1M271.4 274.6h.1M271.4 288.6h.1M273.2 257.6h.1M275.0 266.6h.1M275.0 270.6h.1M276.8 267.6h.1M276.8 285.6h.1M280.4 277.6h.1M282.2 286.6h.1M284.0 259.6h.1M284.0 263.6h.1M284.0 271.6h.1M285.8 262.6h.1M291.2 259.6h.1M293.0 272.6h.1M294.8 261.6h.1"/>
<path stroke="#ff3018" d="M269.6 263.6h.1M269.6 277.6h.1M271.4 266.6h.1M271.4 276.6h.1M273.2 281.6h.1M275.0 278.6h.1M276.8 275.6h.1M276.8 279.6h.1M278.6 258.6h.1M278.6 262.6h.1M282.2 270.6h.1M284.0 265.6h.1M284.0 277.6h.1M284.0 279.6h.1M285.8 266.6h.1M291.2 283.6h.1M293.0 268.6h.1M294.8 259.6h.1M294.8 263.6h.1M294.8 269.6h.1M296.6 266.6h.1M296.6 280.6h.1"/>
<path stroke="#ff0000" d="M271.4 270.6h.1M273.2 265.6h.1M273.2 277.6h.1M273.2 285.6h.1M275.0 264.6h.1M275.0 268.6h.1M275.0 272.6h.1M275.0 274.6h.1M275.0 286.6h.1M276.8 259.6h.1M276.8 277.6h.1M278.6 264.6h.1M278.6 266.6h.1M278.6 268.6h.1M278.6 274.6h.1M278.6 278.6h.1M278.6 282.6h.1M280.4 261.6h.1M280.4 265.6h.1M280.4 275.6h.1M280.4 279.6h.1M282.2 262.6h.1M282.2 272.6h.1M282.2 280.6h.1M284.0 261.6h.1M284.0 267.6h.1M284.0 269.6h.1M284.0 273.6h.1M284.0 275.6h.1M285.8 264.6h.1M285.8 270.6h.1M285.8 272.6h.1M285.8 280.6h.1M285.8 286.6h.1M287.6 281.6h.1M287.6 283.6h.1M289.4 270.6h.1M289.4 272.6h.1M289.4 284.6h.1M291.2 263.6h.1M291.2 265.6h.1M291.2 269.6h.1M293.0 262.6h.1M294.8 265.6h.1"/>
<path stroke="#d0d0d0" d="M248.0 365.8h.1M248.0 367.8h.1M248.0 371.8h.1M248.0 373.8h.1M248.0 375.8h.1M248.0 377.8h.1M248.0 379.8h.1M249.8 364.8h.1M249.8 366.8h.1M249.8 368.8h.1M249.8 372.8h.1M249.8 374.8h.1M249.8 376.8h.1M249.8 380.8h.1M249.8 382.8h.1M249.8 384.8h.1M251.6 361.8h.1M251.6 363.8h.1M251.6 367.8h.1M251.6 373.8h.1M251.6 375.8h.1M251.6 377.8h.1M251.6 379.8h.1M251.6 381.8h.1M251.6 383.8h.1M251.6 385.8h.1M253.4 360.8h.1M253.4 362.8h.1M253.4 366.8h.1M253.4 368.8h.1M253.4 370.8h.1M253.4 372.8h.1M253.4 374.8h.1M253.4 376.8h.1M253.4 378.8h.1M253.4 380.8h.1M253.4 384.8h.1M253.4 386.8h.1M253.4 388.8h.1M255.2 359.8h.1M255.2 361.8h.1M255.2 363.8h.1M255.2 365.8h.1M255.2 367.8h.1M255.2 369.8h.1M255.2 371.8h.1M255.2 373.8h.1M255.2 375.8h.1M255.2 377.8h.1M255.2 379.8h.1M255.2 381.8h.1M255.2 383.8h.1M255.2 387.8h.1M255.2 389.8h.1M255.2 391.8h.1M257.0 358.8h.1M257.0 362.8h.1M257.0 364.8h.1M257.0 366.8h.1M257.0 368.8h.1M257.0 372.8h.1M257.0 374.8h.1M257.0 380.8h.1M257.0 382.8h.1M257.0 384.8h.1M257.0 386.8h.1M257.0 388.8h.1M257.0 390.8h.1M257.0 392.8h.1M258.8 357.8h.1M258.8 359.8h.1M258.8 361.8h.1M258.8 363.8h.1M258.8 365.8h.1M258.8 367.8h.1M258.8 369.8h.1M258.8 371.8h.1M258.8 373.8h.1M258.8 375.8h.1M258.8 377.8h.1M258.8 379.8h.1M258.8 381.8h.1M258.8 383.8h.1M258.8 385.8h.1M258.8 387.8h.1M258.8 389.8h.1M258.8 391.8h.1M260.6 356.8h.1M260.6 358.8h.1M260.6 360.8h.1M260.6 364.8h.1M260.6 366.8h.1M260.6 368.8h.1M260.6 370.8h.1M260.6 372.8h.1M260.6 374.8h.1M260.6 376.8h.1M260.6 382.8h.1M260.6 384.8h.1M260.6 386.8h.1M260.6 388.8h.1M260.6 390.8h.1M260.6 392.8h.1M260.6 394.8h.1M260.6 396.8h.1M262.4 355.8h.1M262.4 357.8h.1M262.4 359.8h.1M262.4 361.8h.1M262.4 363.8h.1M262.4 365.8h.1M262.4 367.8h.1M262.4 373.8h.1M262.4 375.8h.1M262.4 377.8h.1M262.4 379.8h.1M262.4 381.8h.1M262.4 383.8h.1M262.4 385.8h.1M262.4 387.8h.1M262.4 389.8h.1M262.4 391.8h.1M262.4 393.8h.1M262.4 395.8h.1M264.2 358.8h.1M264.2 360.8h.1M264.2 362.8h.1M264.2 364.8h.1M264.2 370.8h.1M264.2 374.8h.1M264.2 376.8h.1M264.2 382.8h.1M264.2 384.8h.1M264.2 388.8h.1M264.2 392.8h.1M264.2 396.8h.1M266.0 355.8h.1M266.0 357.8h.1M266.0 359.8h.1M266.0 361.8h.1M266.0 363.8h.1M266.0 365.8h.1M266.0 367.8h.1M266.0 371.8h.1M266.0 373.8h.1M266.0 375.8h.1M266.0 377.8h.1M266.0 381.8h.1M266.0 383.8h.1M266.0 385.8h.1M266.0 387.8h.1M266.0 389.8h.1M266.0 393.8h.1M266.0 395.8h.1M267.8 358.8h.1M267.8 360.8h.1M267.8 362.8h.1M267.8 364.8h.1M267.8 366.8h.1M267.8 368.8h.1M267.8 370.8h.1M267.8 372.8h.1M267.8 374.8h.1M267.8 376.8h.1M267.8 378.8h.1M267.8 380.8h.1M267.8 382.8h.1M267.8 384.8h.1M267.8 386.8h.1M267.8 388.8h.1M267.8 392.8h.1M267.8 394.8h.1M267.8 414.8h.1M267.8 416.8h.1M267.8 418.8h.1M267.8 420.8h.1M267.8 422.8h.1M267.8 424.8h.1M267.8 426.8h.1M267.8 428.8h.1M267.8 432.8h.1M267.8 434.8h.1M267.8 436.8h.1M267.8 438.8h.1M267.8 440.8h.1M269.6 355.8h.1M269.6 357.8h.1M269.6 359.8h.1M269.6 361.8h.1M269.6 363.8h.1M269.6 365.8h.1M269.6 369.8h.1M269.6 375.8h.1M269.6 377.8h.1M269.6 381.8h.1M269.6 383.8h.1M269.6 385.8h.1M269.6 387.8h.1M269.6 393.8h.1M269.6 395.8h.1M269.6 413.8h.1M269.6 415.8h.1M269.6 419.8h.1M269.6 421.8h.1M269.6 423.8h.1M269.6 425.8h.1M269.6 427.8h.1M269.6 429.8h.1M269.6 431.8h.1M269.6 433.8h.1M269.6 435.8h.1M269.6 439.8h.1M269.6 441.8h.1M269.6 443.8h.1M269.6 445.8h.1M269.6 447.8h.1M269.6 451.8h.1M271.4 354.8h.1M271.4 356.8h.1M271.4 358.8h.1M271.4 362.8h.1M271.4 364.8h.1M271.4 366.8h.1M271.4 368.8h.1M271.4 370.8h.1M271.4 372.8h.1M271.4 374.8h.1M271.4 376.8h.1M271.4 378.8h.1M271.4 380.8h.1M271.4 382.8h.1M271.4 386.8h.1M271.4 388.8h.1M271.4 390.8h.1M271.4 394.8h.1M271.4 412.8h.1M271.4 414.8h.1M271.4 416.8h.1M271.4 418.8h.1M271.4 422.8h.1M271.4 426.8h.1M271.4 430.8h.1M271.4 432.8h.1M271.4 434.8h.1M271.4 440.8h.1M271.4 442.8h.1M271.4 444.8h.1M271.4 446.8h.1M271.4 448.8h.1M271.4 450.8h.1M271.4 452.8h.1M271.4 454.8h.1M271.4 456.8h.1M271.4 458.8h.1M273.2 355.8h.1M273.2 357.8h.1M273.2 359.8h.1M273.2 361.8h.1M273.2 365.8h.1M273.2 367.8h.1M273.2 371.8h.1M273.2 373.8h.1M273.2 375.8h.1M273.2 377.8h.1M273.2 379.8h.1M273.2 381.8h.1M273.2 383.8h.1M273.2 387.8h.1M273.2 389.8h.1M273.2 391.8h.1M273.2 393.8h.1M273.2 395.8h.1M273.2 411.8h.1M273.2 413.8h.1M273.2 417.8h.1M273.2 419.8h.1M273.2 421.8h.1M273.2 423.8h.1M273.2 425.8h.1M273.2 427.8h.1M273.2 429.8h.1M273.2 433.8h.1M273.2 435.8h.1M273.2 439.8h.1M273.2 441.8h.1M273.2 443.8h.1M273.2 447.8h.1M273.2 449.8h.1M273.2 451.8h.1M273.2 453.8h.1M273.2 455.8h.1M273.2 459.8h.1M273.2 461.8h.1M275.0 354.8h.1M275.0 356.8h.1M275.0 358.8h.1M275.0 360.8h.1M275.0 362.8h.1M275.0 364.8h.1M275.0 366.8h.1M275.0 368.8h.1M275.0 370.8h.1M275.0 372.8h.1M275.0 376.8h.1M275.0 380.8h.1M275.0 382.8h.1M275.0 384.8h.1M275.0 386.8h.1M275.0 388.8h.1M275.0 394.8h.1M275.0 396.8h.1M275.0 410.8h.1M275.0 412.8h.1M275.0 414.8h.1M275.0 416.8h.1M275.0 418.8h.1M275.0 420.8h.1M275.0 422.8h.1M275.0 424.8h.1M275.0 426.8h.1M275.0 428.8h.1M275.0 430.8h.1M275.0 432.8h.1M275.0 434.8h.1M275.0 436.8h.1M275.0 438.8h.1M275.0 440.8h.1M275.0 444.8h.1M275.0 446.8h.1M275.0 448.8h.1M275.0 452.8h.1M275.0 454.8h.1M275.0 458.8h.1M275.0 460.8h.1M275.0 462.8h.1M276.8 353.8h.1M276.8 359.8h.1M276.8 361.8h.1M276.8 363.8h.1M276.8 365.8h.1M276.8 369.8h.1M276.8 373.8h.1M276.8 375.8h.1M276.8 377.8h.1M276.8 381.8h.1M276.8 383.8h.1M276.8 385.8h.1M276.8 387.8h.1M276.8 389.8h.1M276.8 391.8h.1M276.8 393.8h.1M276.8 395.8h.1M276.8 397.8h.1M276.8 399.8h.1M276.8 401.8h.1M276.8 405.8h.1M276.8 407.8h.1M276.8 409.8h.1M276.8 411.8h.1M276.8 413.8h.1M276.8 419.8h.1M276.8 421.8h.1M276.8 427.8h.1M276.8 429.8h.1M276.8 433.8h.1M276.8 435.8h.1M276.8 437.8h.1M276.8 441.8h.1M276.8 443.8h.1M276.8 445.8h.1M276.8 447.8h.1M276.8 451.8h.1M276.8 453.8h.1M276.8 455.8h.1M276.8 457.8h.1M276.8 459.8h.1M276.8 461.8h.1M278.6 354.8h.1M278.6 356.8h.1M278.6 358.8h.1M278.6 360.8h.1M278.6 362.8h.1M278.6 364.8h.1M278.6 366.8h.1M278.6 368.8h.1M278.6 370.8h.1M278.6 372.8h.1M278.6 378.8h.1M278.6 380.8h.1M278.6 382.8h.1M278.6 384.8h.1M278.6 386.8h.1M278.6 388.8h.1M278.6 390.8h.1M278.6 392.8h.1M278.6 394.8h.1M278.6 396.8h.1M278.6 398.8h.1M278.6 400.8h.1M278.6 402.8h.1M278.6 404.8h.1M278.6 406.8h.1M278.6 408.8h.1M278.6 410.8h.1M278.6 412.8h.1M278.6 414.8h.1M278.6 416.8h.1M278.6 420.8h.1M278.6 422.8h.1M278.6 426.8h.1M278.6 428.8h.1M278.6 430.8h.1M278.6 432.8h.1M278.6 434.8h.1M278.6 436.8h.1M278.6 438.8h.1M278.6 442.8h.1M278.6 444.8h.1M278.6 454.8h.1M278.6 456.8h.1M278.6 458.8h.1M280.4 355.8h.1M280.4 361.8h.1M280.4 363.8h.1M280.4 365.8h.1M280.4 367.8h.1M280.4 369.8h.1M280.4 371.8h.1M280.4 373.8h.1M280.4 377.8h.1M280.4 379.8h.1M280.4 383.8h.1M280.4 385.8h.1M280.4 387.8h.1M280.4 393.8h.1M280.4 397.8h.1M280.4 399.8h.1M280.4 405.8h.1M280.4 407.8h.1M280.4 411.8h.1M280.4 413.8h.1M280.4 415.8h.1M280.4 417.8h.1M280.4 421.8h.1M280.4 423.8h.1M280.4 425.8h.1M280.4 427.8h.1M280.4 429.8h.1M280.4 433.8h.1M280.4 435.8h.1M280.4 437.8h.1M280.4 439.8h.1M280.4 441.8h.1M280.4 445.8h.1M280.4 447.8h.1M280.4 449.8h.1M280.4 451.8h.1M280.4 455.8h.1M280.4 457.8h.1M280.4 459.8h.1M280.4 461.8h.1M282.2 354.8h.1M282.2 356.8h.1M282.2 358.8h.1M282.2 360.8h.1M282.2 362.8h.1M282.2 364.8h.1M282.2 366.8h.1M282.2 368.8h.1M282.2 370.8h.1M282.2 372.8h.1M282.2 374.8h.1M282.2 376.8h.1M282.2 378.8h.1M282.2 380.8h.1M282.2 382.8h.1M282.2 386.8h.1M282.2 390.8h.1M282.2 392.8h.1M282.2 394.8h.1M282.2 398.8h.1M282.2 400.8h.1M282.2 402.8h.1M282.2 404.8h.1M282.2 408.8h.1M282.2 410.8h.1M282.2 412.8h.1M282.2 414.8h.1M282.2 416.8h.1M282.2 418.8h.1M282.2 422.8h.1M282.2 424.8h.1M282.2 426.8h.1M282.2 428.8h.1M282.2 432.8h.1M282.2 434.8h.1M282.2 436.8h.1M282.2 438.8h.1M282.2 440.8h.1M282.2 442.8h.1M282.2 444.8h.1M282.2 446.8h.1M282.2 448.8h.1M282.2 450.8h.1M282.2 452.8h.1M282.2 454.8h.1M282.2 456.8h.1M282.2 460.8h.1M282.2 462.8h.1M284.0 355.8h.1M284.0 357.8h.1M284.0 359.8h.1M284.0 361.8h.1M284.0 363.8h.1M284.0 365.8h.1M284.0 367.8h.1M284.0 369.8h.1M284.0 371.8h.1M284.0 373.8h.1M284.0 375.8h.1M284.0 379.8h.1M284.0 381.8h.1M284.0 383.8h.1M284.0 385.8h.1M284.0 391.8h.1M284.0 393.8h.1M284.0 397.8h.1M284.0 399.8h.1M284.0 405.8h.1M284.0 407.8h.1M284.0 409.8h.1M284.0 411.8h.1M284.0 413.8h.1M284.0 417.8h.1M284.0 419.8h.1M284.0 421.8h.1M284.0 423.8h.1M284.0 425.8h.1M284.0 427.8h.1M284.0 429.8h.1M284.0 431.8h.1M284.0 433.8h.1M284.0 435.8h.1M284.0 437.8h.1M284.0 439.8h.1M284.0 441.8h.1M284.0 443.8h.1M284.0 445.8h.1M284.0 447.8h.1M284.0 449.8h.1M284.0 451.8h.1M284.0 453.8h.1M284.0 455.8h.1M284.0 459.8h.1M285.8 354.8h.1M285.8 356.8h.1M285.8 358.8h.1M285.8 362.8h.1M285.8 366.8h.1M285.8 368.8h.1M285.8 370.8h.1M285.8 372.8h.1M285.8 374.8h.1M285.8 376.8h.1M285.8 378.8h.1M285.8 380.8h.1M285.8 384.8h.1M285.8 386.8h.1M285.8 388.8h.1M285.8 390.8h.1M285.8 392.8h.1M285.8 396.8h.1M285.8 398.8h.1M285.8 400.8h.1M285.8 402.8h.1M285.8 404.8h.1M285.8 406.8h.1M285.8 408.8h.1M285.8 410.8h.1M285.8 412.8h.1M285.8 414.8h.1M285.8 420.8h.1M285.8 422.8h.1M285.8 424.8h.1M285.8 426.8h.1M285.8 428.8h.1M285.8 430.8h.1M285.8 432.8h.1M285.8 434.8h.1M285.8 436.8h.1M285.8 440.8h.1M285.8 442.8h.1M285.8 444.8h.1M285.8 446.8h.1M285.8 448.8h.1M285.8 450.8h.1M285.8 454.8h.1M285.8 456.8h.1M285.8 458.8h.1M285.8 460.8h.1M287.6 359.8h.1M287.6 361.8h.1M287.6 365.8h.1M287.6 369.8h.1M287.6 371.8h.1M287.6 373.8h.1M287.6 375.8h.1M287.6 377.8h.1M287.6 381.8h.1M287.6 383.8h.1M287.6 385.8h.1M287.6 387.8h.1M287.6 389.8h.1M287.6 391.8h.1M287.6 393.8h.1M287.6 395.8h.1M287.6 397.8h.1M287.6 399.8h.1M287.6 401.8h.1M287.6 403.8h.1M287.6 407.8h.1M287.6 411.8h.1M287.6 413.8h.1M287.6 417.8h.1M287.6 419.8h.1M287.6 421.8h.1M287.6 423.8h.1M287.6 425.8h.1M287.6 427.8h.1M287.6 431.8h.1M287.6 433.8h.1M287.6 435.8h.1M287.6 441.8h.1M287.6 447.8h.1M287.6 449.8h.1M287.6 451.8h.1M287.6 455.8h.1M287.6 457.8h.1M287.6 459.8h.1M287.6 461.8h.1M289.4 356.8h.1M289.4 358.8h.1M289.4 360.8h.1M289.4 362.8h.1M289.4 366.8h.1M289.4 368.8h.1M289.4 372.8h.1M289.4 374.8h.1M289.4 378.8h.1M289.4 380.8h.1M289.4 382.8h.1M289.4 384.8h.1M289.4 386.8h.1M289.4 388.8h.1M289.4 390.8h.1M289.4 392.8h.1M289.4 394.8h.1M289.4 396.8h.1M289.4 398.8h.1M289.4 400.8h.1M289.4 402.8h.1M289.4 404.8h.1M289.4 408.8h.1M289.4 410.8h.1M289.4 412.8h.1M289.4 414.8h.1M289.4 416.8h.1M289.4 418.8h.1M289.4 420.8h.1M289.4 422.8h.1M289.4 424.8h.1M289.4 426.8h.1M289.4 430.8h.1M289.4 432.8h.1M289.4 434.8h.1M289.4 438.8h.1M289.4 440.8h.1M289.4 442.8h.1M289.4 444.8h.1M289.4 448.8h.1M289.4 450.8h.1M289.4 452.8h.1M289.4 454.8h.1M289.4 456.8h.1M289.4 458.8h.1M289.4 460.8h.1M291.2 355.8h.1M291.2 357.8h.1M291.2 359.8h.1M291.2 361.8h.1M291.2 363.8h.1M291.2 365.8h.1M291.2 367.8h.1M291.2 369.8h.1M291.2 371.8h.1M291.2 373.8h.1M291.2 375.8h.1M291.2 377.8h.1M291.2 379.8h.1M291.2 381.8h.1M291.2 383.8h.1M291.2 385.8h.1M291.2 387.8h.1M291.2 389.8h.1M291.2 393.8h.1M291.2 395.8h.1M291.2 397.8h.1M291.2 399.8h.1M291.2 401.8h.1M291.2 403.8h.1M291.2 405.8h.1M291.2 407.8h.1M291.2 409.8h.1M291.2 411.8h.1M291.2 413.8h.1M291.2 415.8h.1M291.2 419.8h.1M291.2 421.8h.1M291.2 423.8h.1M291.2 425.8h.1M291.2 427.8h.1M291.2 429.8h.1M291.2 431.8h.1M291.2 437.8h.1M291.2 443.8h.1M291.2 445.8h.1M291.2 447.8h.1M291.2 451.8h.1M291.2 453.8h.1M291.2 455.8h.1M291.2 457.8h.1M291.2 461.8h.1M293.0 356.8h.1M293.0 360.8h.1M293.0 362.8h.1M293.0 364.8h.1M293.0 366.8h.1M293.0 370.8h.1M293.0 372.8h.1M293.0 374.8h.1M293.0 376.8h.1M293.0 378.8h.1M293.0 380.8h.1M293.0 382.8h.1M293.0 386.8h.1M293.0 388.8h.1M293.0 390.8h.1M293.0 392.8h.1M293.0 394.8h.1M293.0 396.8h.1M293.0 398.8h.1M293.0 400.8h.1M293.0 402.8h.1M293.0 404.8h.1M293.0 406.8h.1M293.0 408.8h.1M293.0 410.8h.1M293.0 412.8h.1M293.0 418.8h.1M293.0 420.8h.1M293.0 422.8h.1M293.0 424.8h.1M293.0 426.8h.1M293.0 428.8h.1M293.0 430.8h.1M293.0 432.8h.1M293.0 434.8h.1M293.0 436.8h.1M293.0 438.8h.1M293.0 440.8h.1M293.0 442.8h.1M293.0 444.8h.1M293.0 446.8h.1M293.0 448.8h.1M293.0 452.8h.1M293.0 454.8h.1M293.0 456.8h.1M293.0 458.8h.1M293.0 460.8h.1M293.0 462.8h.1M294.8 357.8h.1M294.8 359.8h.1M294.8 361.8h.1M294.8 363.8h.1M294.8 365.8h.1M294.8 367.8h.1M294.8 369.8h.1M294.8 371.8h.1M294.8 373.8h.1M294.8 375.8h.1M294.8 377.8h.1M294.8 379.8h.1M294.8 381.8h.1M294.8 383.8h.1M294.8 385.8h.1M294.8 387.8h.1M294.8 391.8h.1M294.8 393.8h.1M294.8 395.8h.1M294.8 397.8h.1M294.8 399.8h.1M294.8 401.8h.1M294.8 403.8h.1M294.8 405.8h.1M294.8 409.8h.1M294.8 413.8h.1M294.8 415.8h.1M294.8 417.8h.1M294.8 419.8h.1M294.8 421.8h.1M294.8 423.8h.1M294.8 425.8h.1M294.8 427.8h.1M294.8 429.8h.1M294.8 431.8h.1M294.8 433.8h.1M294.8 435.8h.1M294.8 437.8h.1M294.8 441.8h.1M294.8 443.8h.1M294.8 445.8h.1M294.8 447.8h.1M294.8 451.8h.1M294.8 453.8h.1M294.8 455.8h.1M294.8 457.8h.1M294.8 459.8h.1M294.8 461.8h.1M296.6 358.8h.1M296.6 360.8h.1M296.6 362.8h.1M296.6 364.8h.1M296.6 366.8h.1M296.6 368.8h.1M296.6 370.8h.1M296.6 372.8h.1M296.6 374.8h.1M296.6 380.8h.1M296.6 384.8h.1M296.6 386.8h.1M296.6 388.8h.1M296.6 390.8h.1M296.6 392.8h.1M296.6 394.8h.1M296.6 396.8h.1M296.6 398.8h.1M296.6 400.8h.1M296.6 402.8h.1M296.6 406.8h.1M296.6 408.8h.1M296.6 410.8h.1M296.6 412.8h.1M296.6 414.8h.1M296.6 416.8h.1M296.6 418.8h.1M296.6 420.8h.1M296.6 422.8h.1M296.6 424.8h.1M296.6 426.8h.1M296.6 430.8h.1M296.6 432.8h.1M296.6 434.8h.1M296.6 436.8h.1M296.6 438.8h.1M296.6 440.8h.1M296.6 444.8h.1M296.6 448.8h.1M296.6 450.8h.1M296.6 454.8h.1M296.6 456.8h.1M296.6 458.8h.1M296.6 460.8h.1M298.4 357.8h.1M298.4 359.8h.1M298.4 361.8h.1M298.4 365.8h.1M298.4 367.8h.1M298.4 369.8h.1M298.4 371.8h.1M298.4 373.8h.1M298.4 375.8h.1M298.4 377.8h.1M298.4 379.8h.1M298.4 381.8h.1M298.4 383.8h.1M298.4 385.8h.1M298.4 387.8h.1M298.4 389.8h.1M298.4 391.8h.1M298.4 397.8h.1M298.4 399.8h.1M298.4 401.8h.1M298.4 403.8h.1M298.4 405.8h.1M298.4 407.8h.1M298.4 409.8h.1M298.4 411.8h.1M298.4 413.8h.1M298.4 415.8h.1M298.4 417.8h.1M298.4 419.8h.1M298.4 421.8h.1M298.4 423.8h.1M298.4 425.8h.1M298.4 429.8h.1M298.4 431.8h.1M298.4 433.8h.1M298.4 435.8h.1M298.4 437.8h.1M298.4 439.8h.1M298.4 441.8h.1M298.4 443.8h.1M298.4 445.8h.1M298.4 447.8h.1M298.4 449.8h.1M298.4 451.8h.1M298.4 453.8h.1M298.4 455.8h.1M298.4 457.8h.1M298.4 459.8h.1M300.2 358.8h.1M300.2 360.8h.1M300.2 362.8h.1M300.2 364.8h.1M300.2 366.8h.1M300.2 368.8h.1M300.2 370.8h.1M300.2 372.8h.1M300.2 374.8h.1M300.2 376.8h.1M300.2 378.8h.1M300.2 380.8h.1M300.2 382.8h.1M300.2 384.8h.1M300.2 386.8h.1M300.2 388.8h.1M300.2 390.8h.1M300.2 394.8h.1M300.2 396.8h.1M300.2 398.8h.1M300.2 400.8h.1M300.2 402.8h.1M300.2 404.8h.1M300.2 406.8h.1M300.2 408.8h.1M300.2 412.8h.1M300.2 414.8h.1M300.2 416.8h.1M300.2 418.8h.1M300.2 420.8h.1M300.2 422.8h.1M300.2 426.8h.1M300.2 428.8h.1M300.2 430.8h.1M300.2 432.8h.1M300.2 434.8h.1M300.2 436.8h.1M300.2 438.8h.1M300.2 442.8h.1M300.2 444.8h.1M300.2 446.8h.1M300.2 450.8h.1M300.2 452.8h.1M300.2 454.8h.1M300.2 458.8h.1M300.2 460.8h.1M300.2 462.8h.1M302.0 359.8h.1M302.0 361.8h.1M302.0 363.8h.1M302.0 365.8h.1M302.0 367.8h.1M302.0 369.8h.1M302.0 371.8h.1M302.0 373.8h.1M302.0 375.8h.1M302.0 377.8h.1M302.0 379.8h.1M302.0 381.8h.1M302.0 383.8h.1M302.0 385.8h.1M302.0 387.8h.1M302.0 393.8h.1M302.0 395.8h.1M302.0 397.8h.1M302.0 399.8h.1M302.0 401.8h.1M302.0 403.8h.1M302.0 405.8h.1M302.0 409.8h.1M302.0 415.8h.1M302.0 417.8h.1M302.0 419.8h.1M302.0 421.8h.1M302.0 423.8h.1M302.0 425.8h.1M302.0 427.8h.1M302.0 429.8h.1M302.0 431.8h.1M302.0 433.8h.1M302.0 435.8h.1M302.0 437.8h.1M302.0 439.8h.1M302.0 441.8h.1M302.0 443.8h.1M302.0 445.8h.1M302.0 447.8h.1M302.0 451.8h.1M302.0 453.8h.1M302.0 457.8h.1M302.0 459.8h.1M302.0 461.8h.1M303.8 360.8h.1M303.8 362.8h.1M303.8 364.8h.1M303.8 366.8h.1M303.8 368.8h.1M303.8 370.8h.1M303.8 372.8h.1M303.8 374.8h.1M303.8 380.8h.1M303.8 384.8h.1M303.8 386.8h.1M303.8 388.8h.1M303.8 392.8h.1M303.8 394.8h.1M303.8 398.8h.1M303.8 400.8h.1M303.8 402.8h.1M303.8 404.8h.1M303.8 406.8h.1M303.8 408.8h.1M303.8 410.8h.1M303.8 412.8h.1M303.8 414.8h.1M303.8 416.8h.1M303.8 418.8h.1M303.8 420.8h.1M303.8 422.8h.1M303.8 428.8h.1M303.8 430.8h.1M303.8 434.8h.1M303.8 436.8h.1M303.8 438.8h.1M303.8 442.8h.1M303.8 444.8h.1M303.8 446.8h.1M303.8 450.8h.1M303.8 452.8h.1M303.8 456.8h.1M303.8 458.8h.1M303.8 460.8h.1M303.8 462.8h.1M305.6 359.8h.1M305.6 361.8h.1M305.6 363.8h.1M305.6 367.8h.1M305.6 369.8h.1M305.6 371.8h.1M305.6 373.8h.1M305.6 375.8h.1M305.6 377.8h.1M305.6 379.8h.1M305.6 381.8h.1M305.6 383.8h.1M305.6 387.8h.1M305.6 389.8h.1M305.6 391.8h.1M305.6 393.8h.1M305.6 395.8h.1M305.6 399.8h.1M305.6 401.8h.1M305.6 403.8h.1M305.6 405.8h.1M305.6 407.8h.1M305.6 409.8h.1M305.6 411.8h.1M305.6 413.8h.1M305.6 415.8h.1M305.6 417.8h.1M305.6 419.8h.1M305.6 421.8h.1M305.6 427.8h.1M305.6 429.8h.1M305.6 431.8h.1M305.6 437.8h.1M305.6 439.8h.1M305.6 441.8h.1M305.6 443.8h.1M305.6 445.8h.1M305.6 447.8h.1M305.6 449.8h.1M305.6 451.8h.1M305.6 453.8h.1M305.6 455.8h.1M305.6 459.8h.1M305.6 461.8h.1M307.4 360.8h.1M307.4 364.8h.1M307.4 366.8h.1M307.4 368.8h.1M307.4 370.8h.1M307.4 372.8h.1M307.4 374.8h.1M307.4 376.8h.1M307.4 378.8h.1M307.4 380.8h.1M307.4 382.8h.1M307.4 384.8h.1M307.4 386.8h.1M307.4 388.8h.1M307.4 390.8h.1M307.4 392.8h.1M307.4 394.8h.1M307.4 396.8h.1M307.4 398.8h.1M307.4 400.8h.1M307.4 402.8h.1M307.4 404.8h.1M307.4 406.8h.1M307.4 408.8h.1M307.4 414.8h.1M307.4 416.8h.1M307.4 418.8h.1M307.4 420.8h.1M307.4 422.8h.1M307.4 424.8h.1M307.4 428.8h.1M307.4 430.8h.1M307.4 434.8h.1M307.4 440.8h.1M307.4 442.8h.1M307.4 444.8h.1M307.4 446.8h.1M307.4 450.8h.1M307.4 454.8h.1M307.4 456.8h.1M307.4 458.8h.1M307.4 460.8h.1M307.4 462.8h.1M309.2 361.8h.1M309.2 363.8h.1M309.2 365.8h.1M309.2 367.8h.1M309.2 369.8h.1M309.2 371.8h.1M309.2 373.8h.1M309.2 375.8h.1M309.2 377.8h.1M309.2 379.8h.1M309.2 381.8h.1M309.2 385.8h.1M309.2 387.8h.1M309.2 389.8h.1M309.2 393.8h.1M309.2 395.8h.1M309.2 397.8h.1M309.2 399.8h.1M309.2 401.8h.1M309.2 405.8h.1M309.2 407.8h.1M309.2 409.8h.1M309.2 411.8h.1M309.2 413.8h.1M309.2 415.8h.1M309.2 417.8h.1M309.2 419.8h.1M309.2 421.8h.1M309.2 423.8h.1M309.2 425.8h.1M309.2 427.8h.1M309.2 429.8h.1M309.2 431.8h.1M309.2 433.8h.1M309.2 439.8h.1M309.2 441.8h.1M309.2 443.8h.1M309.2 445.8h.1M309.2 447.8h.1M309.2 449.8h.1M309.2 451.8h.1M309.2 455.8h.1M309.2 457.8h.1M309.2 459.8h.1M309.2 461.8h.1M311.0 362.8h.1M311.0 364.8h.1M311.0 366.8h.1M311.0 368.8h.1M311.0 372.8h.1M311.0 378.8h.1M311.0 380.8h.1M311.0 384.8h.1M311.0 386.8h.1M311.0 388.8h.1M311.0 392.8h.1M311.0 396.8h.1M311.0 400.8h.1M311.0 402.8h.1M311.0 406.8h.1M311.0 410.8h.1M311.0 412.8h.1M311.0 414.8h.1M311.0 416.8h.1M311.0 418.8h.1M311.0 420.8h.1M311.0 422.8h.1M311.0 424.8h.1M311.0 426.8h.1M311.0 428.8h.1M311.0 430.8h.1M311.0 432.8h.1M311.0 434.8h.1M311.0 436.8h.1M311.0 438.8h.1M311.0 442.8h.1M311.0 444.8h.1M311.0 446.8h.1M311.0 448.8h.1M311.0 450.8h.1M311.0 452.8h.1M311.0 454.8h.1M311.0 458.8h.1M311.0 460.8h.1M311.0 462.8h.1M312.8 363.8h.1M312.8 365.8h.1M312.8 369.8h.1M312.8 371.8h.1M312.8 373.8h.1M312.8 375.8h.1M312.8 377.8h.1M312.8 379.8h.1M312.8 381.8h.1M312.8 383.8h.1M312.8 385.8h.1M312.8 387.8h.1M312.8 389.8h.1M312.8 391.8h.1M312.8 393.8h.1M312.8 395.8h.1M312.8 397.8h.1M312.8 399.8h.1M312.8 403.8h.1M312.8 405.8h.1M312.8 407.8h.1M312.8 409.8h.1M312.8 413.8h.1M312.8 415.8h.1M312.8 417.8h.1M312.8 419.8h.1M312.8 423.8h.1M312.8 427.8h.1M312.8 433.8h.1M312.8 435.8h.1M312.8 437.8h.1M312.8 439.8h.1M312.8 441.8h.1M312.8 443.8h.1M312.8 447.8h.1M312.8 451.8h.1M312.8 453.8h.1M312.8 455.8h.1M312.8 457.8h.1M312.8 459.8h.1M312.8 461.8h.1M314.6 366.8h.1M314.6 368.8h.1M314.6 370.8h.1M314.6 372.8h.1M314.6 374.8h.1M314.6 376.8h.1M314.6 380.8h.1M314.6 382.8h.1M314.6 384.8h.1M314.6 386.8h.1M314.6 390.8h.1M314.6 392.8h.1M314.6 394.8h.1M314.6 398.8h.1M314.6 400.8h.1M314.6 402.8h.1M314.6 404.8h.1M314.6 408.8h.1M314.6 410.8h.1M314.6 412.8h.1M314.6 414.8h.1M314.6 416.8h.1M314.6 418.8h.1M314.6 420.8h.1M314.6 422.8h.1M314.6 424.8h.1M314.6 426.8h.1M314.6 428.8h.1M314.6 430.8h.1M314.6 432.8h.1M314.6 434.8h.1M314.6 436.8h.1M314.6 438.8h.1M314.6 442.8h.1M314.6 446.8h.1M314.6 448.8h.1M314.6 450.8h.1M314.6 452.8h.1M314.6 454.8h.1M314.6 456.8h.1M316.4 365.8h.1M316.4 367.8h.1M316.4 369.8h.1M316.4 371.8h.1M316.4 373.8h.1M316.4 375.8h.1M316.4 377.8h.1M316.4 379.8h.1M316.4 381.8h.1M316.4 385.8h.1M316.4 387.8h.1M316.4 389.8h.1M316.4 391.8h.1M316.4 393.8h.1M316.4 395.8h.1M316.4 397.8h.1M316.4 399.8h.1M316.4 401.8h.1M316.4 403.8h.1M316.4 405.8h.1M316.4 407.8h.1M316.4 409.8h.1M316.4 411.8h.1M316.4 413.8h.1M316.4 417.8h.1M316.4 421.8h.1M316.4 423.8h.1M316.4 427.8h.1M316.4 429.8h.1M316.4 431.8h.1M316.4 433.8h.1M316.4 435.8h.1M316.4 439.8h.1M316.4 441.8h.1M316.4 445.8h.1M316.4 447.8h.1M316.4 449.8h.1M316.4 451.8h.1M316.4 453.8h.1M316.4 457.8h.1M316.4 461.8h.1M318.2 368.8h.1M318.2 372.8h.1M318.2 374.8h.1M318.2 376.8h.1M318.2 380.8h.1M318.2 382.8h.1M318.2 386.8h.1M318.2 388.8h.1M318.2 390.8h.1M318.2 392.8h.1M318.2 394.8h.1M318.2 396.8h.1M318.2 398.8h.1M318.2 400.8h.1M318.2 402.8h.1M318.2 404.8h.1M318.2 406.8h.1M318.2 408.8h.1M318.2 410.8h.1M318.2 412.8h.1M318.2 414.8h.1M318.2 416.8h.1M318.2 418.8h.1M318.2 420.8h.1M318.2 422.8h.1M318.2 424.8h.1M318.2 426.8h.1M318.2 428.8h.1M318.2 430.8h.1M318.2 432.8h.1M318.2 436.8h.1M318.2 438.8h.1M318.2 440.8h.1M318.2 442.8h.1M318.2 444.8h.1M318.2 446.8h.1M318.2 448.8h.1M318.2 450.8h.1M318.2 456.8h.1M318.2 458.8h.1M318.2 460.8h.1M318.2 462.8h.1M320.0 367.8h.1M320.0 369.8h.1M320.0 371.8h.1M320.0 375.8h.1M320.0 377.8h.1M320.0 379.8h.1M320.0 381.8h.1M320.0 385.8h.1M320.0 387.8h.1M320.0 389.8h.1M320.0 391.8h.1M320.0 393.8h.1M320.0 399.8h.1M320.0 401.8h.1M320.0 403.8h.1M320.0 405.8h.1M320.0 407.8h.1M320.0 409.8h.1M320.0 411.8h.1M320.0 413.8h.1M320.0 415.8h.1M320.0 417.8h.1M320.0 419.8h.1M320.0 421.8h.1M320.0 423.8h.1M320.0 425.8h.1M320.0 427.8h.1M320.0 429.8h.1M320.0 431.8h.1M320.0 433.8h.1M320.0 437.8h.1M320.0 439.8h.1M320.0 441.8h.1M320.0 443.8h.1M320.0 445.8h.1M320.0 447.8h.1M320.0 449.8h.1M320.0 451.8h.1M320.0 455.8h.1M320.0 457.8h.1M320.0 459.8h.1M321.8 368.8h.1M321.8 370.8h.1M321.8 374.8h.1M321.8 376.8h.1M321.8 378.8h.1M321.8 382.8h.1M321.8 384.8h.1M321.8 386.8h.1M321.8 388.8h.1M321.8 390.8h.1M321.8 392.8h.1M321.8 394.8h.1M321.8 396.8h.1M321.8 398.8h.1M321.8 400.8h.1M321.8 404.8h.1M321.8 406.8h.1M321.8 408.8h.1M321.8 410.8h.1M321.8 412.8h.1M321.8 414.8h.1M321.8 416.8h.1M321.8 418.8h.1M321.8 420.8h.1M321.8 422.8h.1M321.8 424.8h.1M321.8 426.8h.1M321.8 428.8h.1M321.8 430.8h.1M321.8 432.8h.1M321.8 436.8h.1M321.8 438.8h.1M321.8 442.8h.1M321.8 446.8h.1M321.8 448.8h.1M321.8 450.8h.1M321.8 452.8h.1M321.8 454.8h.1M321.8 458.8h.1M321.8 460.8h.1M321.8 462.8h.1M323.6 369.8h.1M323.6 371.8h.1M323.6 373.8h.1M323.6 375.8h.1M323.6 381.8h.1M323.6 383.8h.1M323.6 391.8h.1M323.6 393.8h.1M323.6 395.8h.1M323.6 397.8h.1M323.6 399.8h.1M323.6 403.8h.1M323.6 405.8h.1M323.6 409.8h.1M323.6 411.8h.1M323.6 413.8h.1M323.6 415.8h.1M323.6 417.8h.1M323.6 419.8h.1M323.6 421.8h.1M323.6 423.8h.1M323.6 425.8h.1M323.6 427.8h.1M323.6 429.8h.1M323.6 431.8h.1M323.6 433.8h.1M323.6 435.8h.1M323.6 439.8h.1M323.6 441.8h.1M323.6 443.8h.1M323.6 445.8h.1M323.6 447.8h.1M323.6 449.8h.1M323.6 451.8h.1M323.6 453.8h.1M323.6 455.8h.1M323.6 457.8h.1M323.6 459.8h.1M323.6 461.8h.1M325.4 370.8h.1M325.4 374.8h.1M325.4 376.8h.1M325.4 378.8h.1M325.4 384.8h.1M325.4 386.8h.1M325.4 388.8h.1M325.4 390.8h.1M325.4 392.8h.1M325.4 396.8h.1M325.4 400.8h.1M325.4 402.8h.1M325.4 404.8h.1M325.4 406.8h.1M325.4 408.8h.1M325.4 410.8h.1M325.4 412.8h.1M325.4 414.8h.1M325.4 416.8h.1M325.4 418.8h.1M325.4 420.8h.1M325.4 422.8h.1M325.4 424.8h.1M325.4 426.8h.1M325.4 428.8h.1M325.4 430.8h.1M325.4 432.8h.1M325.4 434.8h.1M325.4 436.8h.1M325.4 438.8h.1M325.4 440.8h.1M325.4 442.8h.1M325.4 444.8h.1M325.4 446.8h.1M325.4 450.8h.1M325.4 454.8h.1M325.4 456.8h.1M325.4 458.8h.1M325.4 460.8h.1M325.4 462.8h.1M327.2 371.8h.1M327.2 373.8h.1M327.2 375.8h.1M327.2 377.8h.1M327.2 379.8h.1M327.2 383.8h.1M327.2 385.8h.1M327.2 387.8h.1M327.2 389.8h.1M327.2 391.8h.1M327.2 393.8h.1M327.2 395.8h.1M327.2 397.8h.1M327.2 399.8h.1M327.2 401.8h.1M327.2 403.8h.1M327.2 407.8h.1M327.2 409.8h.1M327.2 411.8h.1M327.2 415.8h.1M327.2 417.8h.1M327.2 419.8h.1M327.2 421.8h.1M327.2 423.8h.1M327.2 425.8h.1M327.2 427.8h.1M327.2 431.8h.1M327.2 433.8h.1M327.2 435.8h.1M327.2 437.8h.1M327.2 439.8h.1M327.2 441.8h.1M327.2 443.8h.1M327.2 445.8h.1M327.2 447.8h.1M327.2 451.8h.1M327.2 453.8h.1M327.2 455.8h.1M327.2 457.8h.1M327.2 459.8h.1M327.2 461.8h.1M329.0 372.8h.1M329.0 374.8h.1M329.0 376.8h.1M329.0 378.8h.1M329.0 380.8h.1M329.0 382.8h.1M329.0 386.8h.1M329.0 388.8h.1M329.0 390.8h.1M329.0 392.8h.1M329.0 396.8h.1M329.0 398.8h.1M329.0 400.8h.1M329.0 402.8h.1M329.0 404.8h.1M329.0 406.8h.1M329.0 408.8h.1M329.0 410.8h.1M329.0 414.8h.1M329.0 416.8h.1M329.0 420.8h.1M329.0 422.8h.1M329.0 424.8h.1M329.0 426.8h.1M329.0 428.8h.1M329.0 430.8h.1M329.0 432.8h.1M329.0 434.8h.1M329.0 436.8h.1M329.0 438.8h.1M329.0 440.8h.1M329.0 442.8h.1M329.0 444.8h.1M329.0 446.8h.1M329.0 448.8h.1M329.0 450.8h.1M329.0 452.8h.1M329.0 454.8h.1M329.0 456.8h.1M329.0 458.8h.1M329.0 462.8h.1M330.8 375.8h.1M330.8 377.8h.1M330.8 379.8h.1M330.8 381.8h.1M330.8 383.8h.1M330.8 389.8h.1M330.8 391.8h.1M330.8 393.8h.1M330.8 395.8h.1M330.8 397.8h.1M330.8 399.8h.1M330.8 401.8h.1M330.8 403.8h.1M330.8 405.8h.1M330.8 409.8h.1M330.8 411.8h.1M330.8 413.8h.1M330.8 415.8h.1M330.8 417.8h.1M330.8 421.8h.1M330.8 423.8h.1M330.8 427.8h.1M330.8 429.8h.1M330.8 431.8h.1M330.8 433.8h.1M330.8 435.8h.1M330.8 437.8h.1M330.8 439.8h.1M330.8 441.8h.1M330.8 443.8h.1M330.8 445.8h.1M330.8 447.8h.1M330.8 449.8h.1M330.8 451.8h.1M330.8 453.8h.1M330.8 455.8h.1M330.8 457.8h.1M330.8 459.8h.1M332.6 376.8h.1M332.6 378.8h.1M332.6 382.8h.1M332.6 384.8h.1M332.6 388.8h.1M332.6 390.8h.1M332.6 392.8h.1M332.6 394.8h.1M332.6 396.8h.1M332.6 404.8h.1M332.6 408.8h.1M332.6 410.8h.1M332.6 412.8h.1M332.6 414.8h.1M332.6 416.8h.1M332.6 418.8h.1M332.6 420.8h.1M332.6 422.8h.1M332.6 424.8h.1M332.6 426.8h.1M332.6 428.8h.1M332.6 432.8h.1M332.6 436.8h.1M332.6 440.8h.1M332.6 442.8h.1M332.6 446.8h.1M332.6 448.8h.1M332.6 450.8h.1M332.6 452.8h.1M332.6 454.8h.1M332.6 456.8h.1M332.6 460.8h.1M332.6 462.8h.1M334.4 381.8h.1M334.4 383.8h.1M334.4 385.8h.1M334.4 387.8h.1M334.4 391.8h.1M334.4 393.8h.1M334.4 395.8h.1M334.4 397.8h.1M334.4 399.8h.1M334.4 401.8h.1M334.4 403.8h.1M334.4 405.8h.1M334.4 407.8h.1M334.4 409.8h.1M334.4 413.8h.1M334.4 415.8h.1M334.4 417.8h.1M334.4 419.8h.1M334.4 421.8h.1M334.4 425.8h.1M334.4 429.8h.1M334.4 431.8h.1M334.4 433.8h.1M334.4 435.8h.1M334.4 437.8h.1M334.4 439.8h.1M334.4 441.8h.1M334.4 445.8h.1M334.4 451.8h.1M334.4 453.8h.1M334.4 455.8h.1M334.4 459.8h.1M334.4 461.8h.1M336.2 380.8h.1M336.2 382.8h.1M336.2 386.8h.1M336.2 388.8h.1M336.2 390.8h.1M336.2 392.8h.1M336.2 396.8h.1M336.2 398.8h.1M336.2 400.8h.1M336.2 402.8h.1M336.2 404.8h.1M336.2 406.8h.1M336.2 408.8h.1M336.2 410.8h.1M336.2 412.8h.1M336.2 414.8h.1M336.2 418.8h.1M336.2 424.8h.1M336.2 426.8h.1M336.2 430.8h.1M336.2 432.8h.1M336.2 434.8h.1M336.2 436.8h.1M336.2 438.8h.1M336.2 442.8h.1M336.2 444.8h.1M336.2 446.8h.1M336.2 450.8h.1M336.2 452.8h.1M336.2 454.8h.1M336.2 456.8h.1M336.2 458.8h.1M336.2 460.8h.1M338.0 383.8h.1M338.0 385.8h.1M338.0 387.8h.1M338.0 389.8h.1M338.0 391.8h.1M338.0 393.8h.1M338.0 395.8h.1M338.0 401.8h.1M338.0 403.8h.1M338.0 405.8h.1M338.0 407.8h.1M338.0 409.8h.1M338.0 411.8h.1M338.0 415.8h.1M338.0 417.8h.1M338.0 419.8h.1M338.0 421.8h.1M338.0 423.8h.1M338.0 425.8h.1M338.0 427.8h.1M338.0 429.8h.1M338.0 431.8h.1M338.0 435.8h.1M338.0 437.8h.1M338.0 439.8h.1M338.0 441.8h.1M338.0 445.8h.1M338.0 447.8h.1M338.0 449.8h.1M338.0 451.8h.1M338.0 453.8h.1M338.0 455.8h.1M338.0 457.8h.1M338.0 461.8h.1M339.8 386.8h.1M339.8 388.8h.1M339.8 390.8h.1M339.8 392.8h.1M339.8 394.8h.1M339.8 396.8h.1M339.8 400.8h.1M339.8 402.8h.1M339.8 404.8h.1M339.8 406.8h.1M339.8 408.8h.1M339.8 410.8h.1M339.8 412.8h.1M339.8 414.8h.1M339.8 416.8h.1M339.8 418.8h.1M339.8 420.8h.1M339.8 422.8h.1M339.8 426.8h.1M339.8 428.8h.1M339.8 430.8h.1M339.8 432.8h.1M339.8 434.8h.1M339.8 436.8h.1M339.8 440.8h.1M339.8 442.8h.1M339.8 444.8h.1M339.8 446.8h.1M339.8 448.8h.1M339.8 450.8h.1M339.8 454.8h.1M339.8 458.8h.1M339.8 460.8h.1M339.8 462.8h.1M341.6 389.8h.1M341.6 391.8h.1M341.6 393.8h.1M341.6 397.8h.1M341.6 399.8h.1M341.6 401.8h.1M341.6 403.8h.1M341.6 407.8h.1M341.6 409.8h.1M341.6 411.8h.1M341.6 413.8h.1M341.6 415.8h.1M341.6 419.8h.1M341.6 421.8h.1M341.6 423.8h.1M341.6 425.8h.1M341.6 427.8h.1M341.6 429.8h.1M341.6 431.8h.1M341.6 433.8h.1M341.6 435.8h.1M341.6 437.8h.1M341.6 439.8h.1M341.6 441.8h.1M341.6 443.8h.1M341.6 447.8h.1M341.6 449.8h.1M341.6 451.8h.1M341.6 453.8h.1M341.6 455.8h.1M341.6 457.8h.1M341.6 459.8h.1M341.6 461.8h.1M343.4 394.8h.1M343.4 396.8h.1M343.4 398.8h.1M343.4 400.8h.1M343.4 402.8h.1M343.4 404.8h.1M343.4 406.8h.1M343.4 408.8h.1M343.4 410.8h.1M343.4 412.8h.1M343.4 414.8h.1M343.4 416.8h.1M343.4 418.8h.1M343.4 420.8h.1M343.4 422.8h.1M343.4 424.8h.1M343.4 426.8h.1M343.4 428.8h.1M343.4 430.8h.1M343.4 434.8h.1M343.4 438.8h.1M343.4 440.8h.1M343.4 442.8h.1M343.4 444.8h.1M343.4 448.8h.1M343.4 450.8h.1M343.4 452.8h.1M343.4 454.8h.1M343.4 456.8h.1M343.4 458.8h.1M345.2 399.8h.1M345.2 401.8h.1M345.2 403.8h.1M345.2 405.8h.1M345.2 407.8h.1M345.2 409.8h.1M345.2 411.8h.1M345.2 415.8h.1M345.2 417.8h.1M345.2 419.8h.1M345.2 423.8h.1M345.2 425.8h.1M345.2 429.8h.1M345.2 433.8h.1M345.2 435.8h.1M345.2 437.8h.1M345.2 441.8h.1M345.2 443.8h.1M345.2 445.8h.1M345.2 447.8h.1M345.2 453.8h.1M345.2 455.8h.1M345.2 457.8h.1M345.2 459.8h.1M345.2 461.8h.1M347.0 404.8h.1M347.0 406.8h.1M347.0 408.8h.1M347.0 410.8h.1M347.0 412.8h.1M347.0 414.8h.1M347.0 416.8h.1M347.0 418.8h.1M347.0 420.8h.1M347.0 424.8h.1M347.0 430.8h.1M347.0 432.8h.1M347.0 434.8h.1M347.0 436.8h.1M347.0 438.8h.1M347.0 440.8h.1M347.0 442.8h.1M347.0 444.8h.1M347.0 446.8h.1M347.0 448.8h.1M347.0 450.8h.1M347.0 454.8h.1M347.0 456.8h.1M347.0 458.8h.1M348.8 413.8h.1M348.8 415.8h.1M348.8 417.8h.1M348.8 419.8h.1M348.8 421.8h.1M348.8 423.8h.1M348.8 429.8h.1M348.8 431.8h.1M348.8 433.8h.1M348.8 437.8h.1M348.8 439.8h.1M348.8 443.8h.1M348.8 445.8h.1"/>
<path stroke="#d9c5c0" d="M248.0 369.8h.1M249.8 370.8h.1M249.8 378.8h.1M251.6 365.8h.1M251.6 369.8h.1M251.6 371.8h.1M253.4 364.8h.1M253.4 382.8h.1M255.2 385.8h.1M257.0 360.8h.1M257.0 370.8h.1M257.0 376.8h.1M257.0 378.8h.1M258.8 393.8h.1M260.6 362.8h.1M260.6 378.8h.1M260.6 380.8h.1M262.4 369.8h.1M262.4 371.8h.1M262.4 397.8h.1M264.2 356.8h.1M264.2 366.8h.1M264.2 368.8h.1M264.2 372.8h.1M264.2 378.8h.1M264.2 380.8h.1M264.2 386.8h.1M264.2 390.8h.1M264.2 394.8h.1M264.2 398.8h.1M266.0 369.8h.1M266.0 379.8h.1M266.0 391.8h.1M266.0 397.8h.1M267.8 354.8h.1M267.8 356.8h.1M267.8 390.8h.1M267.8 396.8h.1M267.8 412.8h.1M267.8 430.8h.1M269.6 367.8h.1M269.6 371.8h.1M269.6 379.8h.1M269.6 389.8h.1M269.6 391.8h.1M269.6 397.8h.1M269.6 411.8h.1M269.6 417.8h.1M269.6 437.8h.1M269.6 449.8h.1M271.4 360.8h.1M271.4 384.8h.1M271.4 392.8h.1M271.4 396.8h.1M271.4 420.8h.1M271.4 424.8h.1M271.4 428.8h.1M271.4 436.8h.1M271.4 438.8h.1M273.2 363.8h.1M273.2 369.8h.1M273.2 385.8h.1M273.2 397.8h.1M273.2 415.8h.1M273.2 431.8h.1M273.2 437.8h.1M273.2 445.8h.1M273.2 457.8h.1M275.0 378.8h.1M275.0 390.8h.1M275.0 398.8h.1M275.0 400.8h.1M275.0 408.8h.1M275.0 442.8h.1M275.0 450.8h.1M275.0 456.8h.1M276.8 355.8h.1M276.8 357.8h.1M276.8 367.8h.1M276.8 371.8h.1M276.8 379.8h.1M276.8 403.8h.1M276.8 415.8h.1M276.8 417.8h.1M276.8 423.8h.1M276.8 425.8h.1M276.8 431.8h.1M276.8 439.8h.1M276.8 449.8h.1M278.6 374.8h.1M278.6 376.8h.1M278.6 418.8h.1M278.6 424.8h.1M278.6 440.8h.1M278.6 446.8h.1M278.6 448.8h.1M278.6 450.8h.1M278.6 452.8h.1M278.6 460.8h.1M278.6 462.8h.1M280.4 359.8h.1M280.4 375.8h.1M280.4 381.8h.1M280.4 389.8h.1M280.4 391.8h.1M280.4 395.8h.1M280.4 401.8h.1M280.4 403.8h.1M280.4 409.8h.1M280.4 431.8h.1M280.4 443.8h.1M280.4 453.8h.1M282.2 384.8h.1M282.2 388.8h.1M282.2 396.8h.1M282.2 406.8h.1M282.2 420.8h.1M282.2 430.8h.1M282.2 458.8h.1M284.0 377.8h.1M284.0 387.8h.1M284.0 389.8h.1M284.0 395.8h.1M284.0 401.8h.1M284.0 403.8h.1M284.0 415.8h.1M284.0 457.8h.1M284.0 461.8h.1M285.8 360.8h.1M285.8 364.8h.1M285.8 382.8h.1M285.8 394.8h.1M285.8 418.8h.1M285.8 438.8h.1M285.8 452.8h.1M285.8 462.8h.1M287.6 355.8h.1M287.6 357.8h.1M287.6 363.8h.1M287.6 367.8h.1M287.6 379.8h.1M287.6 405.8h.1M287.6 409.8h.1M287.6 415.8h.1M287.6 429.8h.1M287.6 437.8h.1M287.6 439.8h.1M287.6 443.8h.1M287.6 445.8h.1M287.6 453.8h.1M289.4 364.8h.1M289.4 370.8h.1M289.4 406.8h.1M289.4 428.8h.1M289.4 436.8h.1M289.4 446.8h.1M289.4 462.8h.1M291.2 391.8h.1M291.2 417.8h.1M291.2 433.8h.1M291.2 435.8h.1M291.2 439.8h.1M291.2 441.8h.1M291.2 449.8h.1M291.2 459.8h.1M293.0 358.8h.1M293.0 368.8h.1M293.0 384.8h.1M293.0 414.8h.1M293.0 416.8h.1M293.0 450.8h.1M294.8 389.8h.1M294.8 407.8h.1M294.8 411.8h.1M294.8 439.8h.1M294.8 449.8h.1M296.6 376.8h.1M296.6 378.8h.1M296.6 382.8h.1M296.6 404.8h.1M296.6 442.8h.1M296.6 446.8h.1M296.6 452.8h.1M296.6 462.8h.1M298.4 363.8h.1M298.4 393.8h.1M298.4 395.8h.1M298.4 427.8h.1M298.4 461.8h.1M300.2 392.8h.1M300.2 410.8h.1M300.2 424.8h.1M300.2 448.8h.1M302.0 389.8h.1M302.0 391.8h.1M302.0 407.8h.1M302.0 411.8h.1M302.0 413.8h.1M302.0 449.8h.1M302.0 455.8h.1M303.8 376.8h.1M303.8 378.8h.1M303.8 382.8h.1M303.8 390.8h.1M303.8 396.8h.1M303.8 424.8h.1M303.8 426.8h.1M303.8 432.8h.1M303.8 440.8h.1M303.8 448.8h.1M303.8 454.8h.1M305.6 365.8h.1M305.6 385.8h.1M305.6 423.8h.1M305.6 425.8h.1M305.6 433.8h.1M305.6 435.8h.1M305.6 457.8h.1M307.4 362.8h.1M307.4 410.8h.1M307.4 412.8h.1M307.4 426.8h.1M307.4 432.8h.1M307.4 436.8h.1M307.4 438.8h.1M307.4 448.8h.1M307.4 452.8h.1M309.2 383.8h.1M309.2 391.8h.1M309.2 403.8h.1M309.2 435.8h.1M309.2 437.8h.1M309.2 453.8h.1M311.0 370.8h.1M311.0 374.8h.1M311.0 376.8h.1M311.0 390.8h.1M311.0 394.8h.1M311.0 398.8h.1M311.0 404.8h.1M311.0 408.8h.1M311.0 440.8h.1M311.0 456.8h.1M312.8 367.8h.1M312.8 401.8h.1M312.8 411.8h.1M312.8 421.8h.1M312.8 425.8h.1M312.8 429.8h.1M312.8 431.8h.1M312.8 445.8h.1M312.8 449.8h.1M314.6 364.8h.1M314.6 378.8h.1M314.6 388.8h.1M314.6 396.8h.1M314.6 406.8h.1M314.6 440.8h.1M314.6 444.8h.1M314.6 458.8h.1M314.6 460.8h.1M314.6 462.8h.1M316.4 383.8h.1M316.4 415.8h.1M316.4 419.8h.1M316.4 425.8h.1M316.4 437.8h.1M316.4 443.8h.1M316.4 455.8h.1M316.4 459.8h.1M318.2 366.8h.1M318.2 370.8h.1M318.2 378.8h.1M318.2 384.8h.1M318.2 434.8h.1M318.2 452.8h.1M318.2 454.8h.1M320.0 373.8h.1M320.0 383.8h.1M320.0 395.8h.1M320.0 397.8h.1M320.0 435.8h.1M320.0 453.8h.1M320.0 461.8h.1M321.8 372.8h.1M321.8 380.8h.1M321.8 402.8h.1M321.8 434.8h.1M321.8 440.8h.1M321.8 444.8h.1M321.8 456.8h.1M323.6 377.8h.1M323.6 379.8h.1M323.6 385.8h.1M323.6 387.8h.1M323.6 401.8h.1M323.6 407.8h.1M323.6 437.8h.1M325.4 372.8h.1M325.4 380.8h.1M325.4 394.8h.1M325.4 398.8h.1M325.4 448.8h.1M325.4 452.8h.1M327.2 381.8h.1M327.2 405.8h.1M327.2 413.8h.1M327.2 429.8h.1M327.2 449.8h.1M329.0 384.8h.1M329.0 394.8h.1M329.0 412.8h.1M329.0 418.8h.1M329.0 460.8h.1M330.8 385.8h.1M330.8 407.8h.1M330.8 419.8h.1M330.8 425.8h.1M330.8 461.8h.1M332.6 380.8h.1M332.6 386.8h.1M332.6 398.8h.1M332.6 400.8h.1M332.6 402.8h.1M332.6 406.8h.1M332.6 434.8h.1M332.6 438.8h.1M332.6 444.8h.1M332.6 458.8h.1M334.4 379.8h.1M334.4 411.8h.1M334.4 423.8h.1M334.4 427.8h.1M334.4 443.8h.1M334.4 447.8h.1M334.4 449.8h.1M334.4 457.8h.1M336.2 384.8h.1M336.2 394.8h.1M336.2 416.8h.1M336.2 420.8h.1M336.2 422.8h.1M336.2 428.8h.1M336.2 440.8h.1M336.2 448.8h.1M336.2 462.8h.1M338.0 397.8h.1M338.0 399.8h.1M338.0 413.8h.1M338.0 433.8h.1M338.0 443.8h.1M338.0 459.8h.1M339.8 398.8h.1M339.8 424.8h.1M339.8 438.8h.1M339.8 452.8h.1M339.8 456.8h.1M341.6 395.8h.1M341.6 405.8h.1M341.6 417.8h.1M341.6 445.8h.1M343.4 432.8h.1M343.4 436.8h.1M343.4 446.8h.1M343.4 460.8h.1M343.4 462.8h.1M345.2 413.8h.1M345.2 421.8h.1M345.2 427.8h.1M345.2 431.8h.1M345.2 439.8h.1M345.2 449.8h.1M345.2 451.8h.1M347.0 422.8h.1M347.0 426.8h.1M347.0 428.8h.1M347.0 452.8h.1M348.8 425.8h.1M348.8 435.8h.1M348.8 441.8h.1"/>
<path stroke="#e1bbb1" d="M266.0 409.8h.1M267.8 410.8h.1M271.4 410.8h.1M273.2 399.8h.1M273.2 409.8h.1M275.0 402.8h.1M275.0 404.8h.1M275.0 406.8h.1"/>
<path stroke="#e8b0a1" d="M266.0 399.8h.1M271.4 398.8h.1M280.4 357.8h.1M305.6 397.8h.1M330.8 387.8h.1"/>
<path stroke="#eea592" d="M267.8 398.8h.1M269.6 373.8h.1M280.4 419.8h.1M296.6 428.8h.1M332.6 430.8h.1"/>
<path stroke="#f29983" d="M269.6 409.8h.1M273.2 407.8h.1M275.0 392.8h.1M300.2 440.8h.1M300.2 456.8h.1M323.6 389.8h.1M334.4 389.8h.1M348.8 427.8h.1"/>
<path stroke="#f68e74" d="M275.0 374.8h.1M285.8 416.8h.1M311.0 382.8h.1"/>
<path stroke="#f98165" d="M266.0 407.8h.1M267.8 408.8h.1M269.6 399.8h.1M271.4 408.8h.1M289.4 376.8h.1M325.4 382.8h.1M348.8 411.8h.1"/>
<path stroke="#fb7556" d="M266.0 401.8h.1M273.2 401.8h.1"/>
<path stroke="#fd6747" d="M267.8 400.8h.1M273.2 403.8h.1"/>
<path stroke="#fe5838" d="M266.0 403.8h.1M266.0 405.8h.1M273.2 405.8h.1"/>
<path stroke="#ff4629" d="M269.6 407.8h.1M271.4 400.8h.1"/>
<path stroke="#ff3018" d="M267.8 402.8h.1M267.8 406.8h.1M271.4 402.8h.1M271.4 404.8h.1"/>
<path stroke="#ff0000" d="M267.8 404.8h.1M269.6 401.8h.1M269.6 403.8h.1M269.6 405.8h.1M271.4 406.8h.1"/></g>
<g transform="translate(0,0)"><g clip-path="url(#merclip)">
<rect x="355" y="60" width="115" height="120" fill="#c8c8c8" filter="url(#speck)"/>
<path d="M363,79.5 C364,76 366,73.8 370,71.5 C376,68.5 381,67 389.5,65.7 C398,65 406,66 414.8,67.5 C423,70 430,73 435.5,76 C442,81 447,86 451.6,92 C456,99 459,105 460.7,110.6 C462.5,118 463,124 463,129 L462.5,152 C461,160 460,164 458.4,168 L453.9,175 L387,175 C385,168 383.5,162 382.6,156.6 L380.3,135.9 C379.5,125 379,115 377.4,108.3 C377,104 376,101 374,99.5 C370,97 366,94 364,90 C363,86 362.8,83 363,79.5 Z" fill="none" stroke="#e4e4e4" stroke-width="3" stroke-opacity="0.7" filter="url(#bl1)"/>
<path d="M368,97 C372,90 380,84 392,82 C405,80.5 420,82 430,88 C438,93 443,100 446,108" fill="none" stroke="#efefef" stroke-width="1.8" filter="url(#bl1)"/>
<path d="M430,98 C438,108 444,125 445,150 C445,160 443,168 440,175" fill="none" stroke="#e2e2e2" stroke-width="1.5" filter="url(#bl1)"/>
<path d="M372,80 C385,72 405,70 425,76 C440,82 452,95 457,112 C460,125 460,145 457,170" fill="none" stroke="#dedede" stroke-width="1.2" filter="url(#bl1)"/>
<path d="M380,112 C392,114 404,112 418,108 M395,160 C405,165 420,168 438,166" fill="none" stroke="#dcdcdc" stroke-width="1.3" filter="url(#bl1)"/>
<path d="M378.6,104.8 C379.5,99 381,94 384.9,91 C387,89.8 392,89.5 396.4,90.1 C400,90.8 404,93 407.9,96.8 C409.5,98.5 409.8,101 407.3,103.1 C405,104 401,103 398.7,102 C396,101 394,101.2 392.9,102.5 C390,104 387,105.5 383.7,107.7 C386,109.5 390,109.2 394,106.6 C396,105.5 397.5,105.2 398.7,105.4" fill="none" stroke="#ececec" stroke-width="1.3"/>
<path d="M376,100 C380,90 390,84.5 400,86 C408,87.5 413,93 413.5,99 C413.5,104 411,107 407,108" fill="none" stroke="#e6e6e6" stroke-width="1.1"/>
<g filter="url(#speckR)">
<path d="M363,79.5 C364,76 366,73.8 370,71.5 C376,68.5 381,67 389.5,65.7 C398,65 406,66 414.8,67.5 C423,70 430,73 435.5,76 C442,81 447,86 451.6,92 C456,99 459,105 460.7,110.6 C462.5,118 463,124 463,129 L462.5,152 C461,160 460,164 458.4,168 L453.9,175 L387,175 C385,168 383.5,162 382.6,156.6 L380.3,135.9 C379.5,125 379,115 377.4,108.3 C377,104 376,101 374,99.5 C370,97 366,94 364,90 C363,86 362.8,83 363,79.5 Z M372,98.5 C374,92 380,86.5 390,84.5 C398,83.5 410,83.8 418,85.5 C424,87 430,91 433,97 C428,104 426.5,115 426.5,130 L426,150 C422,157 414,164 406,175 L387,175 C385,168 383.5,162 382.6,156.6 L380.3,135.9 C379.5,125 379,115 377.4,108.3 C377,104 376,101 374,99.5 Z" fill-rule="evenodd" fill="#f0a08a" filter="url(#bl1)"/>
<path d="M363,95 C362.8,83 363,79.5 364,76 C366,73.8 370,71.5 376,68.5 C381,67 389.5,65.7 398,65 C406,66 414.8,67.5 423,70 C430,73 435.5,76 442,81 C447,86 451.6,92 456,99 C459,105 460.7,110.6 462.5,118 C463,124 463,129 463,140 L462.5,152 C461,160 460,164 458.4,168 L453.9,178" fill="none" stroke="#ee6a4c" stroke-width="6" stroke-opacity="0.85"/>
<path d="M373,97 C376,91 381,87 390,85 C400,83.5 412,84 420,86.5 C428,89.5 433,94 436,100" fill="none" stroke="#ee6a4c" stroke-width="4" stroke-opacity="0.7" filter="url(#bl1)"/>
<path d="M430,98 C436,102 441,110 444,120 C446,130 446.5,140 446,150 C445,156 443,160 440,162 C436,150 434,135 432,122 C431,112 430,104 430,98 Z" fill="#ec4a2a" filter="url(#bl2)"/>
<ellipse cx="430" cy="168" rx="20" ry="8" fill="#e8705c" fill-opacity="0.7" filter="url(#bl3)"/>
</g>
<path d="M368,97 C372,90 380,84 392,82 C405,80.5 420,82 430,88 C438,93 443,100 446,108" fill="none" stroke="#f0e0dc" stroke-width="1.4" filter="url(#bl1)"/>
<path d="M378.6,104.8 C379.5,99 381,94 384.9,91 C387,89.8 392,89.5 396.4,90.1 C400,90.8 404,93 407.9,96.8 C409.5,98.5 409.8,101 407.3,103.1 C405,104 401,103 398.7,102 C396,101 394,101.2 392.9,102.5 C390,104 387,105.5 383.7,107.7 Z" fill="#e4cac4" fill-opacity="0.5"/>
<path d="M378.6,104.8 C379.5,99 381,94 384.9,91 C387,89.8 392,89.5 396.4,90.1 C400,90.8 404,93 407.9,96.8 C409.5,98.5 409.8,101 407.3,103.1 C405,104 401,103 398.7,102 C396,101 394,101.2 392.9,102.5 C390,104 387,105.5 383.7,107.7 C386,109.5 390,109.2 394,106.6 C396,105.5 397.5,105.2 398.7,105.4" fill="none" stroke="#ee6548" stroke-width="1.4"/>
</g></g>
<g transform="translate(0,144.3)"><g clip-path="url(#merclip)">
<rect x="355" y="60" width="115" height="120" fill="#c8c8c8" filter="url(#speck)"/>
<path d="M363,79.5 C364,76 366,73.8 370,71.5 C376,68.5 381,67 389.5,65.7 C398,65 406,66 414.8,67.5 C423,70 430,73 435.5,76 C442,81 447,86 451.6,92 C456,99 459,105 460.7,110.6 C462.5,118 463,124 463,129 L462.5,152 C461,160 460,164 458.4,168 L453.9,175 L387,175 C385,168 383.5,162 382.6,156.6 L380.3,135.9 C379.5,125 379,115 377.4,108.3 C377,104 376,101 374,99.5 C370,97 366,94 364,90 C363,86 362.8,83 363,79.5 Z" fill="none" stroke="#e4e4e4" stroke-width="3" stroke-opacity="0.7" filter="url(#bl1)"/>
<path d="M368,97 C372,90 380,84 392,82 C405,80.5 420,82 430,88 C438,93 443,100 446,108" fill="none" stroke="#efefef" stroke-width="1.8" filter="url(#bl1)"/>
<path d="M430,98 C438,108 444,125 445,150 C445,160 443,168 440,175" fill="none" stroke="#e2e2e2" stroke-width="1.5" filter="url(#bl1)"/>
<path d="M372,80 C385,72 405,70 425,76 C440,82 452,95 457,112 C460,125 460,145 457,170" fill="none" stroke="#dedede" stroke-width="1.2" filter="url(#bl1)"/>
<path d="M380,112 C392,114 404,112 418,108 M395,160 C405,165 420,168 438,166" fill="none" stroke="#dcdcdc" stroke-width="1.3" filter="url(#bl1)"/>
<path d="M378.6,104.8 C379.5,99 381,94 384.9,91 C387,89.8 392,89.5 396.4,90.1 C400,90.8 404,93 407.9,96.8 C409.5,98.5 409.8,101 407.3,103.1 C405,104 401,103 398.7,102 C396,101 394,101.2 392.9,102.5 C390,104 387,105.5 383.7,107.7 C386,109.5 390,109.2 394,106.6 C396,105.5 397.5,105.2 398.7,105.4" fill="none" stroke="#ececec" stroke-width="1.3"/>
<path d="M376,100 C380,90 390,84.5 400,86 C408,87.5 413,93 413.5,99 C413.5,104 411,107 407,108" fill="none" stroke="#e6e6e6" stroke-width="1.1"/>
<g filter="url(#speckR)">
<path d="M380.3,109.7 L401,106.3 L414.8,115.5 L418.2,131.6 L408,147.7 L391.8,156.8 L387.2,170.6 L382.6,156.7 Z" fill="#ea7a66" fill-opacity="0.85" filter="url(#bl2)"/>
<ellipse cx="386" cy="140" rx="5" ry="22" fill="#e0200c" fill-opacity="0.85" filter="url(#bl2)"/>
<ellipse cx="421" cy="167" rx="12" ry="7" fill="#e8705c" fill-opacity="0.75" filter="url(#bl2)"/>
<ellipse cx="455" cy="140" rx="4" ry="25" fill="#ec8070" fill-opacity="0.35" filter="url(#bl2)"/>
</g>
</g></g>
<g transform="translate(0,288.5)"><g clip-path="url(#merclip)">
<rect x="355" y="60" width="115" height="120" fill="#c8c8c8" filter="url(#speck)"/>
<path d="M363,79.5 C364,76 366,73.8 370,71.5 C376,68.5 381,67 389.5,65.7 C398,65 406,66 414.8,67.5 C423,70 430,73 435.5,76 C442,81 447,86 451.6,92 C456,99 459,105 460.7,110.6 C462.5,118 463,124 463,129 L462.5,152 C461,160 460,164 458.4,168 L453.9,175 L387,175 C385,168 383.5,162 382.6,156.6 L380.3,135.9 C379.5,125 379,115 377.4,108.3 C377,104 376,101 374,99.5 C370,97 366,94 364,90 C363,86 362.8,83 363,79.5 Z" fill="none" stroke="#e4e4e4" stroke-width="3" stroke-opacity="0.7" filter="url(#bl1)"/>
<path d="M368,97 C372,90 380,84 392,82 C405,80.5 420,82 430,88 C438,93 443,100 446,108" fill="none" stroke="#efefef" stroke-width="1.8" filter="url(#bl1)"/>
<path d="M430,98 C438,108 444,125 445,150 C445,160 443,168 440,175" fill="none" stroke="#e2e2e2" stroke-width="1.5" filter="url(#bl1)"/>
<path d="M372,80 C385,72 405,70 425,76 C440,82 452,95 457,112 C460,125 460,145 457,170" fill="none" stroke="#dedede" stroke-width="1.2" filter="url(#bl1)"/>
<path d="M380,112 C392,114 404,112 418,108 M395,160 C405,165 420,168 438,166" fill="none" stroke="#dcdcdc" stroke-width="1.3" filter="url(#bl1)"/>
<path d="M378.6,104.8 C379.5,99 381,94 384.9,91 C387,89.8 392,89.5 396.4,90.1 C400,90.8 404,93 407.9,96.8 C409.5,98.5 409.8,101 407.3,103.1 C405,104 401,103 398.7,102 C396,101 394,101.2 392.9,102.5 C390,104 387,105.5 383.7,107.7 C386,109.5 390,109.2 394,106.6 C396,105.5 397.5,105.2 398.7,105.4" fill="none" stroke="#ececec" stroke-width="1.3"/>
<path d="M376,100 C380,90 390,84.5 400,86 C408,87.5 413,93 413.5,99 C413.5,104 411,107 407,108" fill="none" stroke="#e6e6e6" stroke-width="1.1"/>
<g filter="url(#speckR)">
<ellipse cx="386" cy="136" rx="4" ry="18" fill="#e84030" fill-opacity="0.45" filter="url(#bl2)"/>
</g>
<path d="M380.5,111 L387,112.5 L390.5,116 L385,119.5 L381,118.5 Z" fill="#ff1000" filter="url(#bl1)"/>
</g></g>
<text class="t at" x="349.3" y="486.8" text-anchor="middle">normalized expression</text>
<linearGradient id="lg" x1="0" x2="1" y1="0" y2="0"><stop offset="0.00" stop-color="#cdc8c8"/><stop offset="0.20" stop-color="#e2aea1"/><stop offset="0.40" stop-color="#f0927b"/><stop offset="0.60" stop-color="#f97456"/><stop offset="0.80" stop-color="#fd4f31"/><stop offset="1.00" stop-color="#ff0000"/></linearGradient>
<rect x="312.3" y="492.3" width="71.4" height="14.1" fill="url(#lg)" stroke="#555" stroke-width="0.8"/>
<text class="t ax" font-size="9.5" x="312" y="518" text-anchor="middle">0</text>
<text class="t ax" font-size="9.5" x="383.5" y="518" text-anchor="middle">high</text>
</g>

<g id="pc">
<path d="M536,126 C540,121 546,123 552,120 C558,122 562,125 565,128 C567,138 566,150 563,158 L560,164 L536,164 Z" fill="#000" fill-opacity="0.85"/>
<line x1="535.5" y1="71.0" x2="535.5" y2="167.9" stroke="#000" stroke-width="1.2"/>
<line x1="534.9" y1="167.3" x2="603.7" y2="167.3" stroke="#000" stroke-width="1.2"/>
<line x1="532.5" y1="86.8" x2="535" y2="86.8" stroke="#333" stroke-width="1"/>
<text class="t axc" x="529.5" y="90.1" text-anchor="end">6e+04</text>
<line x1="532.5" y1="112.8" x2="535" y2="112.8" stroke="#333" stroke-width="1"/>
<text class="t axc" x="529.5" y="116.1" text-anchor="end">4e+04</text>
<line x1="532.5" y1="138.0" x2="535" y2="138.0" stroke="#333" stroke-width="1"/>
<text class="t axc" x="529.5" y="141.3" text-anchor="end">2e+04</text>
<line x1="532.5" y1="163.0" x2="535" y2="163.0" stroke="#333" stroke-width="1"/>
<text class="t axc" x="529.5" y="166.3" text-anchor="end">0e+00</text>
<line x1="538.5" y1="167.8" x2="538.5" y2="170.3" stroke="#333" stroke-width="1"/>
<text class="t axc" x="538.5" y="180.4" text-anchor="middle">0e+00</text>
<line x1="553.6" y1="167.8" x2="553.6" y2="170.3" stroke="#333" stroke-width="1"/>
<line x1="568.8" y1="167.8" x2="568.8" y2="170.3" stroke="#333" stroke-width="1"/>
<text class="t axc" x="568.8" y="180.4" text-anchor="middle">4e+04</text>
<line x1="584.2" y1="167.8" x2="584.2" y2="170.3" stroke="#333" stroke-width="1"/>
<line x1="599.3" y1="167.8" x2="599.3" y2="170.3" stroke="#333" stroke-width="1"/>
<text class="t axc" x="599.3" y="180.4" text-anchor="middle">8e+04</text>
<text class="t at" x="565.5" y="193.2" text-anchor="middle">MERFISH pseudospot</text>
<g fill="#000" fill-opacity="0.60">
<circle cx="536.9" cy="148.1" r="1.45"/>
<circle cx="547.2" cy="129.0" r="1.45"/>
<circle cx="549.3" cy="136.3" r="1.45"/>
<circle cx="561.7" cy="162.6" r="1.45"/>
<circle cx="550.8" cy="134.5" r="1.45"/>
<circle cx="539.0" cy="153.2" r="1.45"/>
<circle cx="538.2" cy="107.1" r="1.45"/>
<circle cx="544.7" cy="161.5" r="1.45"/>
<circle cx="536.8" cy="141.9" r="1.45"/>
<circle cx="537.4" cy="130.5" r="1.45"/>
<circle cx="570.6" cy="139.4" r="1.45"/>
<circle cx="559.5" cy="159.8" r="1.45"/>
<circle cx="566.1" cy="162.7" r="1.45"/>
<circle cx="563.9" cy="157.4" r="1.45"/>
<circle cx="553.2" cy="146.8" r="1.45"/>
<circle cx="556.9" cy="161.0" r="1.45"/>
<circle cx="571.3" cy="156.8" r="1.45"/>
<circle cx="539.1" cy="127.0" r="1.45"/>
<circle cx="542.9" cy="133.5" r="1.45"/>
<circle cx="545.4" cy="133.6" r="1.45"/>
<circle cx="542.9" cy="139.6" r="1.45"/>
<circle cx="548.8" cy="146.2" r="1.45"/>
<circle cx="561.6" cy="111.4" r="1.45"/>
<circle cx="546.3" cy="138.2" r="1.45"/>
<circle cx="549.2" cy="156.7" r="1.45"/>
<circle cx="554.2" cy="121.2" r="1.45"/>
<circle cx="569.6" cy="156.7" r="1.45"/>
<circle cx="557.5" cy="127.9" r="1.45"/>
<circle cx="546.8" cy="120.1" r="1.45"/>
<circle cx="555.2" cy="146.4" r="1.45"/>
<circle cx="558.8" cy="134.3" r="1.45"/>
<circle cx="573.2" cy="143.4" r="1.45"/>
<circle cx="571.3" cy="139.9" r="1.45"/>
<circle cx="566.2" cy="138.2" r="1.45"/>
<circle cx="562.4" cy="151.7" r="1.45"/>
<circle cx="541.4" cy="152.3" r="1.45"/>
<circle cx="540.7" cy="135.5" r="1.45"/>
<circle cx="557.9" cy="143.3" r="1.45"/>
<circle cx="555.3" cy="161.0" r="1.45"/>
<circle cx="537.5" cy="114.9" r="1.45"/>
<circle cx="554.4" cy="145.5" r="1.45"/>
<circle cx="550.7" cy="160.2" r="1.45"/>
<circle cx="544.1" cy="101.8" r="1.45"/>
<circle cx="558.8" cy="119.9" r="1.45"/>
<circle cx="555.0" cy="155.2" r="1.45"/>
<circle cx="554.3" cy="158.9" r="1.45"/>
<circle cx="544.3" cy="120.2" r="1.45"/>
<circle cx="573.1" cy="150.5" r="1.45"/>
<circle cx="554.7" cy="143.0" r="1.45"/>
<circle cx="557.3" cy="130.5" r="1.45"/>
<circle cx="538.3" cy="161.1" r="1.45"/>
<circle cx="550.1" cy="139.9" r="1.45"/>
<circle cx="567.7" cy="151.7" r="1.45"/>
<circle cx="540.7" cy="115.6" r="1.45"/>
<circle cx="544.8" cy="154.0" r="1.45"/>
<circle cx="549.7" cy="126.3" r="1.45"/>
<circle cx="543.6" cy="147.8" r="1.45"/>
<circle cx="537.3" cy="152.7" r="1.45"/>
<circle cx="558.5" cy="158.8" r="1.45"/>
<circle cx="546.9" cy="147.4" r="1.45"/>
<circle cx="541.8" cy="161.7" r="1.45"/>
<circle cx="542.7" cy="102.1" r="1.45"/>
<circle cx="542.3" cy="145.8" r="1.45"/>
<circle cx="572.9" cy="129.5" r="1.45"/>
<circle cx="537.5" cy="154.5" r="1.45"/>
<circle cx="545.1" cy="136.4" r="1.45"/>
<circle cx="538.8" cy="150.9" r="1.45"/>
<circle cx="552.7" cy="152.2" r="1.45"/>
<circle cx="557.2" cy="119.2" r="1.45"/>
<circle cx="550.5" cy="147.8" r="1.45"/>
<circle cx="565.0" cy="133.4" r="1.45"/>
<circle cx="555.6" cy="138.9" r="1.45"/>
<circle cx="576.6" cy="157.7" r="1.45"/>
<circle cx="550.0" cy="152.5" r="1.45"/>
<circle cx="545.0" cy="146.3" r="1.45"/>
<circle cx="567.3" cy="155.8" r="1.45"/>
<circle cx="565.0" cy="152.0" r="1.45"/>
<circle cx="564.1" cy="144.3" r="1.45"/>
<circle cx="555.4" cy="157.1" r="1.45"/>
<circle cx="539.8" cy="123.2" r="1.45"/>
<circle cx="555.7" cy="154.9" r="1.45"/>
<circle cx="544.4" cy="141.6" r="1.45"/>
<circle cx="546.3" cy="120.0" r="1.45"/>
<circle cx="567.1" cy="143.4" r="1.45"/>
<circle cx="560.6" cy="147.8" r="1.45"/>
<circle cx="568.8" cy="161.2" r="1.45"/>
<circle cx="545.0" cy="149.0" r="1.45"/>
<circle cx="542.3" cy="144.9" r="1.45"/>
<circle cx="545.0" cy="154.0" r="1.45"/>
<circle cx="544.8" cy="118.6" r="1.45"/>
<circle cx="569.2" cy="163.5" r="1.45"/>
<circle cx="553.9" cy="123.9" r="1.45"/>
<circle cx="542.1" cy="138.1" r="1.45"/>
<circle cx="544.7" cy="121.8" r="1.45"/>
<circle cx="583.5" cy="162.0" r="1.45"/>
<circle cx="551.5" cy="139.4" r="1.45"/>
<circle cx="553.9" cy="136.8" r="1.45"/>
<circle cx="562.0" cy="135.0" r="1.45"/>
<circle cx="537.7" cy="118.6" r="1.45"/>
<circle cx="566.0" cy="146.0" r="1.45"/>
<circle cx="552.1" cy="146.3" r="1.45"/>
<circle cx="548.9" cy="148.3" r="1.45"/>
<circle cx="556.3" cy="134.5" r="1.45"/>
<circle cx="542.2" cy="142.3" r="1.45"/>
<circle cx="560.0" cy="119.3" r="1.45"/>
<circle cx="545.7" cy="161.4" r="1.45"/>
<circle cx="563.6" cy="157.5" r="1.45"/>
<circle cx="543.3" cy="132.7" r="1.45"/>
<circle cx="537.3" cy="138.4" r="1.45"/>
<circle cx="553.0" cy="160.8" r="1.45"/>
<circle cx="564.5" cy="143.6" r="1.45"/>
<circle cx="559.2" cy="90.4" r="1.45"/>
<circle cx="545.6" cy="150.9" r="1.45"/>
<circle cx="558.0" cy="139.2" r="1.45"/>
<circle cx="551.8" cy="155.0" r="1.45"/>
<circle cx="544.5" cy="109.3" r="1.45"/>
<circle cx="559.4" cy="132.9" r="1.45"/>
<circle cx="555.8" cy="163.8" r="1.45"/>
<circle cx="546.7" cy="149.8" r="1.45"/>
<circle cx="549.9" cy="139.9" r="1.45"/>
<circle cx="542.6" cy="154.5" r="1.45"/>
<circle cx="538.6" cy="114.3" r="1.45"/>
<circle cx="541.6" cy="155.3" r="1.45"/>
<circle cx="559.3" cy="163.5" r="1.45"/>
<circle cx="567.0" cy="161.9" r="1.45"/>
<circle cx="556.1" cy="148.1" r="1.45"/>
<circle cx="544.1" cy="140.1" r="1.45"/>
<circle cx="584.4" cy="144.2" r="1.45"/>
<circle cx="567.7" cy="155.0" r="1.45"/>
<circle cx="543.9" cy="163.7" r="1.45"/>
<circle cx="539.0" cy="159.4" r="1.45"/>
<circle cx="544.9" cy="148.1" r="1.45"/>
<circle cx="539.8" cy="148.3" r="1.45"/>
<circle cx="564.9" cy="125.0" r="1.45"/>
<circle cx="560.5" cy="141.9" r="1.45"/>
<circle cx="567.3" cy="141.8" r="1.45"/>
<circle cx="567.6" cy="148.5" r="1.45"/>
<circle cx="554.5" cy="148.3" r="1.45"/>
<circle cx="548.2" cy="118.4" r="1.45"/>
<circle cx="547.3" cy="107.8" r="1.45"/>
<circle cx="557.3" cy="149.0" r="1.45"/>
<circle cx="549.9" cy="144.6" r="1.45"/>
<circle cx="561.9" cy="157.7" r="1.45"/>
<circle cx="557.3" cy="119.6" r="1.45"/>
<circle cx="536.7" cy="144.9" r="1.45"/>
<circle cx="550.5" cy="112.1" r="1.45"/>
<circle cx="575.1" cy="158.4" r="1.45"/>
<circle cx="543.6" cy="116.9" r="1.45"/>
<circle cx="567.7" cy="133.5" r="1.45"/>
<circle cx="553.8" cy="141.9" r="1.45"/>
<circle cx="574.7" cy="142.8" r="1.45"/>
<circle cx="549.6" cy="125.5" r="1.45"/>
<circle cx="547.8" cy="142.9" r="1.45"/>
<circle cx="551.2" cy="134.1" r="1.45"/>
<circle cx="554.8" cy="159.3" r="1.45"/>
<circle cx="543.5" cy="121.5" r="1.45"/>
<circle cx="549.1" cy="142.9" r="1.45"/>
<circle cx="538.1" cy="133.8" r="1.45"/>
<circle cx="542.1" cy="143.7" r="1.45"/>
<circle cx="542.5" cy="141.5" r="1.45"/>
<circle cx="543.1" cy="144.4" r="1.45"/>
<circle cx="552.1" cy="161.1" r="1.45"/>
<circle cx="558.9" cy="151.3" r="1.45"/>
<circle cx="540.7" cy="140.2" r="1.45"/>
<circle cx="564.7" cy="131.2" r="1.45"/>
<circle cx="551.2" cy="118.6" r="1.45"/>
<circle cx="552.2" cy="158.6" r="1.45"/>
<circle cx="554.4" cy="162.8" r="1.45"/>
<circle cx="541.1" cy="137.7" r="1.45"/>
<circle cx="543.2" cy="144.4" r="1.45"/>
<circle cx="566.0" cy="131.7" r="1.45"/>
<circle cx="549.5" cy="128.5" r="1.45"/>
<circle cx="560.1" cy="117.8" r="1.45"/>
<circle cx="564.9" cy="119.4" r="1.45"/>
<circle cx="537.2" cy="161.0" r="1.45"/>
<circle cx="553.9" cy="138.0" r="1.45"/>
<circle cx="551.7" cy="129.9" r="1.45"/>
<circle cx="551.1" cy="151.7" r="1.45"/>
<circle cx="554.6" cy="133.2" r="1.45"/>
<circle cx="551.1" cy="161.6" r="1.45"/>
<circle cx="567.6" cy="154.1" r="1.45"/>
<circle cx="569.2" cy="93.4" r="1.45"/>
<circle cx="538.3" cy="140.2" r="1.45"/>
<circle cx="544.7" cy="120.5" r="1.45"/>
<circle cx="557.1" cy="137.5" r="1.45"/>
<circle cx="543.9" cy="133.1" r="1.45"/>
<circle cx="573.2" cy="140.8" r="1.45"/>
<circle cx="550.6" cy="140.8" r="1.45"/>
<circle cx="554.7" cy="146.7" r="1.45"/>
<circle cx="540.3" cy="145.2" r="1.45"/>
<circle cx="550.7" cy="112.5" r="1.45"/>
<circle cx="541.4" cy="135.2" r="1.45"/>
<circle cx="537.7" cy="152.1" r="1.45"/>
<circle cx="575.6" cy="160.4" r="1.45"/>
<circle cx="543.4" cy="123.7" r="1.45"/>
<circle cx="559.1" cy="153.7" r="1.45"/>
<circle cx="566.2" cy="130.8" r="1.45"/>
<circle cx="556.1" cy="128.5" r="1.45"/>
<circle cx="550.0" cy="109.6" r="1.45"/>
<circle cx="573.7" cy="131.0" r="1.45"/>
<circle cx="560.8" cy="143.2" r="1.45"/>
<circle cx="565.7" cy="148.5" r="1.45"/>
<circle cx="561.0" cy="143.4" r="1.45"/>
<circle cx="547.4" cy="147.5" r="1.45"/>
<circle cx="563.9" cy="148.5" r="1.45"/>
<circle cx="537.6" cy="120.6" r="1.45"/>
<circle cx="563.2" cy="122.1" r="1.45"/>
<circle cx="569.6" cy="147.5" r="1.45"/>
<circle cx="542.4" cy="154.2" r="1.45"/>
<circle cx="550.8" cy="156.7" r="1.45"/>
<circle cx="549.9" cy="147.5" r="1.45"/>
<circle cx="541.2" cy="127.6" r="1.45"/>
<circle cx="556.7" cy="153.3" r="1.45"/>
<circle cx="564.7" cy="137.2" r="1.45"/>
<circle cx="547.6" cy="112.8" r="1.45"/>
<circle cx="559.0" cy="149.5" r="1.45"/>
<circle cx="555.4" cy="163.9" r="1.45"/>
<circle cx="551.6" cy="123.6" r="1.45"/>
<circle cx="543.9" cy="138.2" r="1.45"/>
<circle cx="565.6" cy="155.6" r="1.45"/>
<circle cx="564.7" cy="162.4" r="1.45"/>
<circle cx="543.0" cy="154.6" r="1.45"/>
<circle cx="538.9" cy="110.2" r="1.45"/>
<circle cx="542.1" cy="131.8" r="1.45"/>
<circle cx="542.2" cy="153.2" r="1.45"/>
<circle cx="564.7" cy="134.5" r="1.45"/>
<circle cx="553.6" cy="153.1" r="1.45"/>
<circle cx="562.2" cy="141.1" r="1.45"/>
<circle cx="560.8" cy="156.2" r="1.45"/>
<circle cx="552.5" cy="154.1" r="1.45"/>
<circle cx="558.5" cy="153.7" r="1.45"/>
<circle cx="569.9" cy="130.5" r="1.45"/>
<circle cx="548.9" cy="158.7" r="1.45"/>
<circle cx="547.6" cy="133.0" r="1.45"/>
<circle cx="573.4" cy="124.4" r="1.45"/>
<circle cx="581.3" cy="133.1" r="1.45"/>
<circle cx="556.0" cy="159.5" r="1.45"/>
<circle cx="537.3" cy="131.6" r="1.45"/>
<circle cx="548.4" cy="161.5" r="1.45"/>
<circle cx="562.0" cy="143.7" r="1.45"/>
<circle cx="549.9" cy="155.9" r="1.45"/>
<circle cx="536.9" cy="117.3" r="1.45"/>
<circle cx="555.6" cy="132.8" r="1.45"/>
<circle cx="563.1" cy="138.7" r="1.45"/>
<circle cx="553.0" cy="122.4" r="1.45"/>
<circle cx="564.8" cy="148.7" r="1.45"/>
<circle cx="542.9" cy="140.8" r="1.45"/>
<circle cx="548.9" cy="145.8" r="1.45"/>
<circle cx="565.6" cy="136.0" r="1.45"/>
<circle cx="543.0" cy="138.3" r="1.45"/>
<circle cx="570.0" cy="152.0" r="1.45"/>
<circle cx="553.9" cy="156.2" r="1.45"/>
<circle cx="553.1" cy="144.1" r="1.45"/>
<circle cx="572.1" cy="122.4" r="1.45"/>
<circle cx="549.6" cy="161.7" r="1.45"/>
<circle cx="545.6" cy="159.2" r="1.45"/>
<circle cx="550.6" cy="163.4" r="1.45"/>
<circle cx="547.2" cy="110.3" r="1.45"/>
<circle cx="537.4" cy="158.9" r="1.45"/>
<circle cx="563.2" cy="121.8" r="1.45"/>
<circle cx="553.1" cy="144.9" r="1.45"/>
<circle cx="558.6" cy="117.9" r="1.45"/>
<circle cx="579.6" cy="145.5" r="1.45"/>
<circle cx="554.2" cy="164.4" r="1.45"/>
<circle cx="542.0" cy="144.6" r="1.45"/>
<circle cx="559.2" cy="158.7" r="1.45"/>
<circle cx="565.2" cy="149.3" r="1.45"/>
<circle cx="558.8" cy="131.5" r="1.45"/>
<circle cx="539.3" cy="164.3" r="1.45"/>
<circle cx="543.1" cy="156.5" r="1.45"/>
<circle cx="554.9" cy="138.2" r="1.45"/>
<circle cx="549.5" cy="125.6" r="1.45"/>
<circle cx="563.3" cy="142.9" r="1.45"/>
<circle cx="565.1" cy="134.5" r="1.45"/>
<circle cx="552.7" cy="134.1" r="1.45"/>
<circle cx="572.3" cy="159.3" r="1.45"/>
<circle cx="544.4" cy="133.3" r="1.45"/>
<circle cx="549.7" cy="122.8" r="1.45"/>
<circle cx="538.9" cy="115.0" r="1.45"/>
<circle cx="546.5" cy="151.3" r="1.45"/>
<circle cx="537.5" cy="152.6" r="1.45"/>
<circle cx="549.6" cy="152.3" r="1.45"/>
<circle cx="578.7" cy="159.2" r="1.45"/>
<circle cx="574.4" cy="134.7" r="1.45"/>
<circle cx="558.0" cy="147.6" r="1.45"/>
<circle cx="562.3" cy="151.4" r="1.45"/>
<circle cx="552.5" cy="152.0" r="1.45"/>
<circle cx="556.4" cy="153.2" r="1.45"/>
<circle cx="545.7" cy="143.6" r="1.45"/>
<circle cx="539.4" cy="153.4" r="1.45"/>
<circle cx="539.7" cy="137.0" r="1.45"/>
<circle cx="555.6" cy="153.1" r="1.45"/>
<circle cx="540.0" cy="155.9" r="1.45"/>
<circle cx="545.6" cy="139.3" r="1.45"/>
<circle cx="569.8" cy="143.9" r="1.45"/>
<circle cx="572.8" cy="145.3" r="1.45"/>
<circle cx="555.2" cy="127.0" r="1.45"/>
<circle cx="539.5" cy="126.0" r="1.45"/>
<circle cx="551.4" cy="134.5" r="1.45"/>
<circle cx="559.1" cy="135.8" r="1.45"/>
<circle cx="573.0" cy="145.6" r="1.45"/>
<circle cx="555.6" cy="151.5" r="1.45"/>
<circle cx="539.6" cy="118.6" r="1.45"/>
<circle cx="560.3" cy="140.3" r="1.45"/>
<circle cx="545.0" cy="154.7" r="1.45"/>
<circle cx="547.4" cy="115.8" r="1.45"/>
<circle cx="545.4" cy="152.4" r="1.45"/>
<circle cx="563.4" cy="153.9" r="1.45"/>
<circle cx="560.1" cy="154.7" r="1.45"/>
<circle cx="539.5" cy="146.9" r="1.45"/>
<circle cx="571.9" cy="127.6" r="1.45"/>
<circle cx="552.3" cy="103.8" r="1.45"/>
<circle cx="542.3" cy="132.2" r="1.45"/>
<circle cx="564.6" cy="157.9" r="1.45"/>
<circle cx="557.5" cy="158.3" r="1.45"/>
<circle cx="541.9" cy="153.3" r="1.45"/>
<circle cx="566.7" cy="150.5" r="1.45"/>
<circle cx="552.0" cy="124.7" r="1.45"/>
<circle cx="541.8" cy="162.3" r="1.45"/>
<circle cx="554.0" cy="140.4" r="1.45"/>
<circle cx="555.7" cy="121.6" r="1.45"/>
<circle cx="558.9" cy="158.1" r="1.45"/>
<circle cx="543.3" cy="136.3" r="1.45"/>
<circle cx="561.7" cy="131.6" r="1.45"/>
<circle cx="537.5" cy="131.1" r="1.45"/>
<circle cx="542.1" cy="157.5" r="1.45"/>
<circle cx="552.5" cy="130.9" r="1.45"/>
<circle cx="552.3" cy="143.9" r="1.45"/>
<circle cx="560.1" cy="130.5" r="1.45"/>
<circle cx="544.5" cy="140.8" r="1.45"/>
<circle cx="561.9" cy="159.5" r="1.45"/>
<circle cx="555.4" cy="147.1" r="1.45"/>
<circle cx="541.5" cy="156.5" r="1.45"/>
<circle cx="541.0" cy="121.3" r="1.45"/>
<circle cx="551.0" cy="148.0" r="1.45"/>
<circle cx="571.2" cy="130.3" r="1.45"/>
<circle cx="540.5" cy="161.8" r="1.45"/>
<circle cx="545.9" cy="123.2" r="1.45"/>
<circle cx="538.9" cy="149.6" r="1.45"/>
<circle cx="545.5" cy="147.8" r="1.45"/>
<circle cx="549.7" cy="159.3" r="1.45"/>
<circle cx="551.9" cy="141.5" r="1.45"/>
<circle cx="547.4" cy="145.4" r="1.45"/>
<circle cx="546.6" cy="152.2" r="1.45"/>
<circle cx="561.1" cy="131.3" r="1.45"/>
<circle cx="543.6" cy="140.3" r="1.45"/>
<circle cx="554.8" cy="151.6" r="1.45"/>
<circle cx="546.8" cy="143.5" r="1.45"/>
<circle cx="555.3" cy="159.9" r="1.45"/>
<circle cx="553.9" cy="134.5" r="1.45"/>
<circle cx="541.2" cy="133.8" r="1.45"/>
<circle cx="547.7" cy="160.3" r="1.45"/>
<circle cx="538.7" cy="129.8" r="1.45"/>
<circle cx="543.1" cy="124.6" r="1.45"/>
<circle cx="542.2" cy="157.4" r="1.45"/>
<circle cx="541.5" cy="148.4" r="1.45"/>
<circle cx="548.0" cy="152.7" r="1.45"/>
<circle cx="545.6" cy="150.8" r="1.45"/>
<circle cx="570.7" cy="152.1" r="1.45"/>
<circle cx="547.6" cy="151.7" r="1.45"/>
<circle cx="540.9" cy="149.3" r="1.45"/>
<circle cx="540.3" cy="134.4" r="1.45"/>
<circle cx="542.0" cy="150.6" r="1.45"/>
<circle cx="549.7" cy="149.2" r="1.45"/>
<circle cx="555.7" cy="136.1" r="1.45"/>
<circle cx="536.9" cy="158.2" r="1.45"/>
<circle cx="558.8" cy="161.0" r="1.45"/>
<circle cx="557.7" cy="157.4" r="1.45"/>
<circle cx="541.3" cy="146.1" r="1.45"/>
<circle cx="538.1" cy="164.4" r="1.45"/>
<circle cx="537.6" cy="135.9" r="1.45"/>
<circle cx="540.6" cy="142.0" r="1.45"/>
<circle cx="541.2" cy="163.4" r="1.45"/>
<circle cx="547.8" cy="157.1" r="1.45"/>
<circle cx="551.8" cy="151.2" r="1.45"/>
<circle cx="558.8" cy="146.5" r="1.45"/>
<circle cx="550.7" cy="150.3" r="1.45"/>
<circle cx="571.4" cy="149.2" r="1.45"/>
<circle cx="545.4" cy="149.3" r="1.45"/>
<circle cx="553.6" cy="126.0" r="1.45"/>
<circle cx="574.9" cy="137.4" r="1.45"/>
<circle cx="545.8" cy="129.2" r="1.45"/>
<circle cx="552.7" cy="120.1" r="1.45"/>
<circle cx="545.5" cy="160.0" r="1.45"/>
<circle cx="543.0" cy="148.7" r="1.45"/>
<circle cx="567.6" cy="137.2" r="1.45"/>
<circle cx="546.1" cy="130.7" r="1.45"/>
<circle cx="539.5" cy="135.1" r="1.45"/>
<circle cx="574.3" cy="152.8" r="1.45"/>
<circle cx="536.8" cy="133.8" r="1.45"/>
<circle cx="560.9" cy="132.5" r="1.45"/>
<circle cx="545.0" cy="132.1" r="1.45"/>
<circle cx="552.6" cy="146.4" r="1.45"/>
<circle cx="557.4" cy="124.7" r="1.45"/>
<circle cx="552.4" cy="130.2" r="1.45"/>
<circle cx="550.9" cy="145.2" r="1.45"/>
<circle cx="586.3" cy="130.0" r="1.45"/>
<circle cx="543.2" cy="163.7" r="1.45"/>
<circle cx="557.0" cy="148.0" r="1.45"/>
<circle cx="544.1" cy="151.2" r="1.45"/>
<circle cx="537.6" cy="138.8" r="1.45"/>
<circle cx="543.8" cy="141.6" r="1.45"/>
<circle cx="559.9" cy="143.0" r="1.45"/>
<circle cx="544.8" cy="148.7" r="1.45"/>
<circle cx="542.3" cy="87.2" r="1.45"/>
<circle cx="547.2" cy="156.2" r="1.45"/>
<circle cx="559.5" cy="139.6" r="1.45"/>
<circle cx="552.2" cy="153.0" r="1.45"/>
<circle cx="549.6" cy="151.0" r="1.45"/>
<circle cx="542.2" cy="143.0" r="1.45"/>
<circle cx="563.3" cy="130.9" r="1.45"/>
<circle cx="544.3" cy="150.2" r="1.45"/>
<circle cx="557.5" cy="138.8" r="1.45"/>
<circle cx="556.9" cy="143.7" r="1.45"/>
<circle cx="559.7" cy="159.5" r="1.45"/>
<circle cx="572.3" cy="128.9" r="1.45"/>
<circle cx="563.0" cy="145.2" r="1.45"/>
<circle cx="536.6" cy="137.7" r="1.45"/>
<circle cx="562.2" cy="146.1" r="1.45"/>
<circle cx="581.2" cy="134.6" r="1.45"/>
<circle cx="537.2" cy="152.2" r="1.45"/>
<circle cx="560.0" cy="145.0" r="1.45"/>
<circle cx="565.7" cy="141.8" r="1.45"/>
<circle cx="570.6" cy="128.6" r="1.45"/>
<circle cx="564.9" cy="159.1" r="1.45"/>
<circle cx="568.7" cy="141.9" r="1.45"/>
<circle cx="568.5" cy="121.1" r="1.45"/>
<circle cx="552.6" cy="145.0" r="1.45"/>
<circle cx="544.9" cy="132.9" r="1.45"/>
<circle cx="560.2" cy="155.5" r="1.45"/>
<circle cx="547.0" cy="134.8" r="1.45"/>
<circle cx="544.7" cy="163.3" r="1.45"/>
<circle cx="566.2" cy="151.8" r="1.45"/>
<circle cx="541.7" cy="135.0" r="1.45"/>
<circle cx="550.7" cy="149.2" r="1.45"/>
<circle cx="537.4" cy="161.0" r="1.45"/>
<circle cx="543.3" cy="123.5" r="1.45"/>
<circle cx="545.8" cy="132.6" r="1.45"/>
<circle cx="573.4" cy="138.4" r="1.45"/>
<circle cx="550.2" cy="151.1" r="1.45"/>
<circle cx="565.3" cy="163.5" r="1.45"/>
<circle cx="562.8" cy="146.5" r="1.45"/>
<circle cx="544.5" cy="141.2" r="1.45"/>
<circle cx="550.1" cy="132.3" r="1.45"/>
<circle cx="546.9" cy="151.5" r="1.45"/>
<circle cx="549.4" cy="129.3" r="1.45"/>
<circle cx="566.7" cy="156.6" r="1.45"/>
<circle cx="545.2" cy="138.6" r="1.45"/>
<circle cx="548.1" cy="135.8" r="1.45"/>
<circle cx="553.3" cy="163.8" r="1.45"/>
<circle cx="536.8" cy="149.6" r="1.45"/>
<circle cx="547.2" cy="147.8" r="1.45"/>
<circle cx="562.7" cy="143.6" r="1.45"/>
<circle cx="557.4" cy="143.3" r="1.45"/>
<circle cx="545.2" cy="155.1" r="1.45"/>
<circle cx="559.3" cy="164.0" r="1.45"/>
<circle cx="555.6" cy="149.6" r="1.45"/>
<circle cx="554.6" cy="136.5" r="1.45"/>
<circle cx="537.5" cy="156.6" r="1.45"/>
<circle cx="577.4" cy="127.8" r="1.45"/>
<circle cx="548.5" cy="135.9" r="1.45"/>
<circle cx="574.2" cy="135.5" r="1.45"/>
<circle cx="560.2" cy="160.1" r="1.45"/>
<circle cx="546.3" cy="114.2" r="1.45"/>
<circle cx="558.5" cy="132.4" r="1.45"/>
<circle cx="544.0" cy="152.0" r="1.45"/>
<circle cx="537.2" cy="138.8" r="1.45"/>
<circle cx="568.8" cy="131.2" r="1.45"/>
<circle cx="541.7" cy="156.3" r="1.45"/>
<circle cx="565.5" cy="145.7" r="1.45"/>
<circle cx="558.6" cy="130.2" r="1.45"/>
<circle cx="548.3" cy="137.9" r="1.45"/>
<circle cx="538.7" cy="138.9" r="1.45"/>
<circle cx="541.5" cy="124.5" r="1.45"/>
<circle cx="563.4" cy="158.3" r="1.45"/>
<circle cx="581.6" cy="149.2" r="1.45"/>
<circle cx="537.1" cy="161.8" r="1.45"/>
<circle cx="538.9" cy="153.3" r="1.45"/>
<circle cx="539.8" cy="142.3" r="1.45"/>
<circle cx="540.8" cy="138.3" r="1.45"/>
<circle cx="555.5" cy="135.2" r="1.45"/>
<circle cx="545.1" cy="118.5" r="1.45"/>
<circle cx="561.6" cy="139.5" r="1.45"/>
<circle cx="544.2" cy="127.4" r="1.45"/>
<circle cx="547.2" cy="147.1" r="1.45"/>
<circle cx="565.6" cy="154.0" r="1.45"/>
<circle cx="544.3" cy="141.4" r="1.45"/>
<circle cx="556.2" cy="148.5" r="1.45"/>
<circle cx="555.8" cy="157.6" r="1.45"/>
<circle cx="557.1" cy="121.6" r="1.45"/>
<circle cx="562.3" cy="129.3" r="1.45"/>
<circle cx="543.1" cy="155.6" r="1.45"/>
<circle cx="552.9" cy="143.5" r="1.45"/>
<circle cx="563.4" cy="124.9" r="1.45"/>
<circle cx="545.0" cy="146.9" r="1.45"/>
<circle cx="550.0" cy="135.4" r="1.45"/>
<circle cx="542.6" cy="121.5" r="1.45"/>
<circle cx="565.0" cy="159.2" r="1.45"/>
<circle cx="570.0" cy="160.3" r="1.45"/>
<circle cx="565.0" cy="141.6" r="1.45"/>
<circle cx="566.0" cy="134.0" r="1.45"/>
<circle cx="548.9" cy="124.8" r="1.45"/>
<circle cx="540.7" cy="152.0" r="1.45"/>
<circle cx="555.9" cy="157.8" r="1.45"/>
<circle cx="558.4" cy="149.7" r="1.45"/>
<circle cx="559.8" cy="148.4" r="1.45"/>
<circle cx="539.9" cy="162.6" r="1.45"/>
<circle cx="545.9" cy="143.9" r="1.45"/>
<circle cx="561.7" cy="157.4" r="1.45"/>
<circle cx="558.0" cy="153.9" r="1.45"/>
<circle cx="545.7" cy="161.2" r="1.45"/>
<circle cx="542.0" cy="140.7" r="1.45"/>
<circle cx="550.8" cy="162.7" r="1.45"/>
<circle cx="573.8" cy="159.3" r="1.45"/>
<circle cx="539.7" cy="128.8" r="1.45"/>
<circle cx="541.3" cy="146.9" r="1.45"/>
<circle cx="551.8" cy="137.6" r="1.45"/>
<circle cx="545.9" cy="119.1" r="1.45"/>
<circle cx="540.2" cy="113.6" r="1.45"/>
<circle cx="539.1" cy="137.1" r="1.45"/>
<circle cx="565.4" cy="156.5" r="1.45"/>
<circle cx="549.4" cy="163.0" r="1.45"/>
<circle cx="540.3" cy="122.1" r="1.45"/>
<circle cx="559.4" cy="136.8" r="1.45"/>
<circle cx="544.9" cy="130.8" r="1.45"/>
<circle cx="562.6" cy="164.3" r="1.45"/>
<circle cx="552.3" cy="153.4" r="1.45"/>
<circle cx="554.3" cy="135.6" r="1.45"/>
<circle cx="570.8" cy="120.5" r="1.45"/>
<circle cx="564.9" cy="141.3" r="1.45"/>
<circle cx="536.9" cy="143.7" r="1.45"/>
<circle cx="554.7" cy="132.8" r="1.45"/>
<circle cx="557.9" cy="157.0" r="1.45"/>
<circle cx="554.2" cy="103.1" r="1.45"/>
<circle cx="539.6" cy="164.5" r="1.45"/>
<circle cx="556.6" cy="153.2" r="1.45"/>
<circle cx="542.1" cy="124.8" r="1.45"/>
<circle cx="572.2" cy="141.6" r="1.45"/>
<circle cx="552.8" cy="158.8" r="1.45"/>
<circle cx="543.7" cy="144.0" r="1.45"/>
<circle cx="537.6" cy="142.8" r="1.45"/>
<circle cx="545.5" cy="119.6" r="1.45"/>
<circle cx="555.4" cy="161.9" r="1.45"/>
<circle cx="563.3" cy="145.7" r="1.45"/>
<circle cx="549.0" cy="155.1" r="1.45"/>
<circle cx="561.9" cy="109.1" r="1.45"/>
<circle cx="539.2" cy="139.5" r="1.45"/>
<circle cx="547.7" cy="156.9" r="1.45"/>
<circle cx="538.7" cy="130.8" r="1.45"/>
<circle cx="560.3" cy="155.5" r="1.45"/>
<circle cx="545.9" cy="158.8" r="1.45"/>
<circle cx="544.8" cy="149.2" r="1.45"/>
<circle cx="564.0" cy="161.2" r="1.45"/>
<circle cx="544.5" cy="115.6" r="1.45"/>
<circle cx="539.0" cy="135.5" r="1.45"/>
<circle cx="557.4" cy="154.1" r="1.45"/>
<circle cx="539.5" cy="151.5" r="1.45"/>
<circle cx="542.7" cy="160.9" r="1.45"/>
<circle cx="548.4" cy="148.3" r="1.45"/>
<circle cx="548.6" cy="146.6" r="1.45"/>
<circle cx="564.1" cy="145.0" r="1.45"/>
<circle cx="538.9" cy="156.6" r="1.45"/>
<circle cx="572.5" cy="134.6" r="1.45"/>
<circle cx="545.8" cy="132.5" r="1.45"/>
<circle cx="566.4" cy="162.3" r="1.45"/>
<circle cx="537.2" cy="156.9" r="1.45"/>
<circle cx="541.1" cy="162.4" r="1.45"/>
<circle cx="550.5" cy="154.6" r="1.45"/>
<circle cx="548.6" cy="162.3" r="1.45"/>
<circle cx="559.0" cy="131.7" r="1.45"/>
<circle cx="583.8" cy="151.7" r="1.45"/>
<circle cx="571.5" cy="104.9" r="1.45"/>
<circle cx="561.7" cy="132.6" r="1.45"/>
<circle cx="549.5" cy="155.1" r="1.45"/>
<circle cx="545.8" cy="130.1" r="1.45"/>
<circle cx="575.2" cy="140.7" r="1.45"/>
<circle cx="545.1" cy="145.6" r="1.45"/>
<circle cx="545.9" cy="134.9" r="1.45"/>
<circle cx="551.1" cy="161.9" r="1.45"/>
<circle cx="578.2" cy="125.7" r="1.45"/>
<circle cx="542.9" cy="146.8" r="1.45"/>
<circle cx="540.0" cy="117.2" r="1.45"/>
<circle cx="567.5" cy="142.3" r="1.45"/>
<circle cx="537.4" cy="145.9" r="1.45"/>
<circle cx="544.3" cy="157.7" r="1.45"/>
<circle cx="543.0" cy="149.8" r="1.45"/>
<circle cx="540.2" cy="159.8" r="1.45"/>
<circle cx="564.7" cy="134.3" r="1.45"/>
<circle cx="578.9" cy="157.2" r="1.45"/>
<circle cx="570.4" cy="154.2" r="1.45"/>
<circle cx="557.9" cy="116.8" r="1.45"/>
<circle cx="541.3" cy="137.5" r="1.45"/>
<circle cx="539.9" cy="128.4" r="1.45"/>
<circle cx="556.0" cy="124.9" r="1.45"/>
<circle cx="556.2" cy="159.8" r="1.45"/>
<circle cx="561.3" cy="154.9" r="1.45"/>
<circle cx="557.3" cy="140.3" r="1.45"/>
<circle cx="558.9" cy="132.4" r="1.45"/>
<circle cx="550.2" cy="145.5" r="1.45"/>
<circle cx="552.8" cy="164.4" r="1.45"/>
<circle cx="566.5" cy="153.8" r="1.45"/>
<circle cx="565.5" cy="139.0" r="1.45"/>
<circle cx="591.9" cy="161.2" r="1.45"/>
<circle cx="592.7" cy="140.2" r="1.45"/>
<circle cx="547.2" cy="152.2" r="1.45"/>
<circle cx="537.7" cy="112.1" r="1.45"/>
<circle cx="560.1" cy="152.8" r="1.45"/>
<circle cx="537.4" cy="144.9" r="1.45"/>
<circle cx="563.2" cy="99.2" r="1.45"/>
<circle cx="565.6" cy="152.3" r="1.45"/>
<circle cx="565.7" cy="141.7" r="1.45"/>
<circle cx="581.8" cy="160.5" r="1.45"/>
<circle cx="568.3" cy="136.1" r="1.45"/>
<circle cx="581.4" cy="135.7" r="1.45"/>
<circle cx="552.7" cy="115.8" r="1.45"/>
<circle cx="566.8" cy="158.4" r="1.45"/>
<circle cx="550.5" cy="161.8" r="1.45"/>
<circle cx="547.7" cy="119.7" r="1.45"/>
<circle cx="566.0" cy="136.3" r="1.45"/>
<circle cx="557.6" cy="133.2" r="1.45"/>
<circle cx="561.0" cy="135.6" r="1.45"/>
<circle cx="558.4" cy="136.2" r="1.45"/>
<circle cx="539.4" cy="121.5" r="1.45"/>
<circle cx="588.1" cy="124.1" r="1.45"/>
<circle cx="560.4" cy="152.2" r="1.45"/>
<circle cx="564.8" cy="129.8" r="1.45"/>
<circle cx="555.1" cy="152.9" r="1.45"/>
<circle cx="584.6" cy="146.5" r="1.45"/>
<circle cx="561.4" cy="126.0" r="1.45"/>
<circle cx="569.1" cy="115.2" r="1.45"/>
<circle cx="538.8" cy="122.5" r="1.45"/>
<circle cx="559.4" cy="121.0" r="1.45"/>
<circle cx="560.6" cy="152.9" r="1.45"/>
<circle cx="540.0" cy="143.9" r="1.45"/>
<circle cx="570.4" cy="152.4" r="1.45"/>
<circle cx="542.8" cy="152.1" r="1.45"/>
<circle cx="557.8" cy="137.2" r="1.45"/>
<circle cx="567.0" cy="110.8" r="1.45"/>
<circle cx="537.4" cy="151.4" r="1.45"/>
<circle cx="599.3" cy="154.6" r="1.45"/>
<circle cx="545.8" cy="156.4" r="1.45"/>
<circle cx="543.2" cy="130.1" r="1.45"/>
<circle cx="585.7" cy="144.4" r="1.45"/>
<circle cx="549.3" cy="159.2" r="1.45"/>
<circle cx="568.3" cy="125.2" r="1.45"/>
<circle cx="562.8" cy="121.2" r="1.45"/>
<circle cx="558.9" cy="130.0" r="1.45"/>
<circle cx="558.2" cy="150.7" r="1.45"/>
<circle cx="573.7" cy="124.8" r="1.45"/>
<circle cx="571.0" cy="120.8" r="1.45"/>
<circle cx="561.9" cy="144.4" r="1.45"/>
<circle cx="559.3" cy="109.8" r="1.45"/>
<circle cx="570.2" cy="127.8" r="1.45"/>
<circle cx="544.8" cy="122.5" r="1.45"/>
<circle cx="550.5" cy="128.5" r="1.45"/>
<circle cx="581.9" cy="107.5" r="1.45"/>
<circle cx="573.4" cy="137.8" r="1.45"/>
<circle cx="561.4" cy="131.7" r="1.45"/>
<circle cx="569.3" cy="156.5" r="1.45"/>
<circle cx="563.4" cy="118.6" r="1.45"/>
<circle cx="546.3" cy="108.6" r="1.45"/>
<circle cx="580.5" cy="145.8" r="1.45"/>
<circle cx="575.2" cy="138.1" r="1.45"/>
<circle cx="542.0" cy="107.1" r="1.45"/>
<circle cx="540.4" cy="112.1" r="1.45"/>
<circle cx="540.0" cy="138.6" r="1.45"/>
<circle cx="557.1" cy="134.0" r="1.45"/>
<circle cx="553.3" cy="110.4" r="1.45"/>
<circle cx="586.1" cy="156.3" r="1.45"/>
<circle cx="537.8" cy="152.8" r="1.45"/>
<circle cx="542.8" cy="152.6" r="1.45"/>
<circle cx="543.3" cy="144.4" r="1.45"/>
<circle cx="548.5" cy="154.2" r="1.45"/>
<circle cx="555.8" cy="132.3" r="1.45"/>
<circle cx="538.9" cy="135.4" r="1.45"/>
<circle cx="576.5" cy="144.3" r="1.45"/>
<circle cx="544.0" cy="121.7" r="1.45"/>
<circle cx="551.5" cy="115.8" r="1.45"/>
<circle cx="558.1" cy="116.9" r="1.45"/>
<circle cx="575.1" cy="113.5" r="1.45"/>
<circle cx="540.3" cy="124.4" r="1.45"/>
<circle cx="571.7" cy="126.2" r="1.45"/>
<circle cx="593.4" cy="117.4" r="1.45"/>
<circle cx="559.7" cy="121.9" r="1.45"/>
<circle cx="550.1" cy="128.4" r="1.45"/>
<circle cx="554.5" cy="125.0" r="1.45"/>
<circle cx="575.0" cy="160.4" r="1.45"/>
<circle cx="568.4" cy="124.1" r="1.45"/>
<circle cx="599.9" cy="137.6" r="1.45"/>
<circle cx="573.9" cy="159.0" r="1.45"/>
<circle cx="565.1" cy="125.7" r="1.45"/>
<circle cx="564.5" cy="151.3" r="1.45"/>
<circle cx="551.6" cy="127.0" r="1.45"/>
<circle cx="551.8" cy="115.1" r="1.45"/>
<circle cx="549.3" cy="122.3" r="1.45"/>
<circle cx="541.8" cy="146.3" r="1.45"/>
<circle cx="561.6" cy="133.1" r="1.45"/>
<circle cx="582.6" cy="114.2" r="1.45"/>
<circle cx="561.8" cy="95.3" r="1.45"/>
<circle cx="554.2" cy="136.7" r="1.45"/>
<circle cx="551.9" cy="146.6" r="1.45"/>
<circle cx="561.8" cy="156.2" r="1.45"/>
<circle cx="540.9" cy="160.6" r="1.45"/>
<circle cx="546.9" cy="122.6" r="1.45"/>
<circle cx="545.3" cy="126.2" r="1.45"/>
<circle cx="565.8" cy="139.2" r="1.45"/>
<circle cx="566.0" cy="141.7" r="1.45"/>
<circle cx="602.8" cy="138.2" r="1.45"/>
<circle cx="541.1" cy="150.3" r="1.45"/>
<circle cx="564.2" cy="118.6" r="1.45"/>
<circle cx="542.1" cy="127.0" r="1.45"/>
<circle cx="557.0" cy="124.7" r="1.45"/>
<circle cx="593.5" cy="159.2" r="1.45"/>
<circle cx="558.4" cy="128.9" r="1.45"/>
<circle cx="556.3" cy="142.0" r="1.45"/>
<circle cx="583.1" cy="112.4" r="1.45"/>
<circle cx="544.1" cy="161.3" r="1.45"/>
<circle cx="543.3" cy="151.9" r="1.45"/>
<circle cx="560.2" cy="126.6" r="1.45"/>
<circle cx="576.6" cy="131.7" r="1.45"/>
<circle cx="574.2" cy="126.2" r="1.45"/>
<circle cx="568.6" cy="155.9" r="1.45"/>
<circle cx="539.2" cy="113.8" r="1.45"/>
<circle cx="562.1" cy="156.2" r="1.45"/>
<circle cx="558.3" cy="161.1" r="1.45"/>
<circle cx="579.5" cy="144.2" r="1.45"/>
<circle cx="588.6" cy="131.0" r="1.45"/>
<circle cx="562.7" cy="121.5" r="1.45"/>
<circle cx="562.1" cy="157.8" r="1.45"/>
<circle cx="560.1" cy="147.0" r="1.45"/>
<circle cx="539.2" cy="127.0" r="1.45"/>
<circle cx="564.0" cy="160.5" r="1.45"/>
<circle cx="562.7" cy="152.4" r="1.45"/>
<circle cx="568.6" cy="148.2" r="1.45"/>
<circle cx="554.1" cy="113.6" r="1.45"/>
<circle cx="562.8" cy="153.8" r="1.45"/>
<circle cx="564.3" cy="118.0" r="1.45"/>
<circle cx="560.4" cy="143.1" r="1.45"/>
<circle cx="570.0" cy="124.7" r="1.45"/>
<circle cx="546.1" cy="146.9" r="1.45"/>
<circle cx="574.5" cy="161.8" r="1.45"/>
<circle cx="564.3" cy="144.2" r="1.45"/>
<circle cx="558.5" cy="101.6" r="1.45"/>
<circle cx="546.8" cy="159.2" r="1.45"/>
<circle cx="570.4" cy="132.4" r="1.45"/>
<circle cx="581.8" cy="133.5" r="1.45"/>
<circle cx="540.3" cy="151.7" r="1.45"/>
<circle cx="560.6" cy="149.9" r="1.45"/>
<circle cx="580.0" cy="149.2" r="1.45"/>
<circle cx="554.2" cy="144.2" r="1.45"/>
<circle cx="571.6" cy="154.6" r="1.45"/>
<circle cx="551.7" cy="144.9" r="1.45"/>
<circle cx="579.7" cy="105.5" r="1.45"/>
<circle cx="558.3" cy="153.5" r="1.45"/>
<circle cx="568.4" cy="120.6" r="1.45"/>
<circle cx="567.8" cy="124.6" r="1.45"/>
<circle cx="569.8" cy="136.3" r="1.45"/>
<circle cx="571.4" cy="129.0" r="1.45"/>
<circle cx="556.9" cy="109.4" r="1.45"/>
<circle cx="574.6" cy="148.6" r="1.45"/>
<circle cx="570.0" cy="113.3" r="1.45"/>
<circle cx="552.9" cy="125.8" r="1.45"/>
<circle cx="552.8" cy="130.0" r="1.45"/>
<circle cx="573.0" cy="163.1" r="1.45"/>
<circle cx="554.6" cy="130.7" r="1.45"/>
<circle cx="563.6" cy="161.1" r="1.45"/>
<circle cx="576.7" cy="136.7" r="1.45"/>
<circle cx="551.0" cy="123.1" r="1.45"/>
<circle cx="541.1" cy="134.2" r="1.45"/>
<circle cx="542.9" cy="110.9" r="1.45"/>
<circle cx="571.1" cy="135.5" r="1.45"/>
<circle cx="586.9" cy="155.9" r="1.45"/>
<circle cx="558.0" cy="127.8" r="1.45"/>
<circle cx="565.5" cy="125.2" r="1.45"/>
<circle cx="562.1" cy="150.9" r="1.45"/>
<circle cx="552.9" cy="99.0" r="1.45"/>
<circle cx="558.5" cy="113.6" r="1.45"/>
<circle cx="567.0" cy="143.0" r="1.45"/>
<circle cx="566.6" cy="120.9" r="1.45"/>
<circle cx="552.4" cy="126.9" r="1.45"/>
<circle cx="539.2" cy="141.1" r="1.45"/>
<circle cx="565.9" cy="123.4" r="1.45"/>
<circle cx="552.8" cy="152.8" r="1.45"/>
<circle cx="554.5" cy="111.2" r="1.45"/>
<circle cx="571.6" cy="115.3" r="1.45"/>
<circle cx="568.3" cy="145.5" r="1.45"/>
<circle cx="541.3" cy="145.5" r="1.45"/>
<circle cx="562.1" cy="156.6" r="1.45"/>
<circle cx="562.3" cy="123.3" r="1.45"/>
<circle cx="555.7" cy="126.4" r="1.45"/>
<circle cx="550.0" cy="102.4" r="1.45"/>
<circle cx="545.0" cy="109.4" r="1.45"/>
<circle cx="547.1" cy="118.3" r="1.45"/>
<circle cx="543.3" cy="136.7" r="1.45"/>
<circle cx="564.7" cy="113.5" r="1.45"/>
<circle cx="585.4" cy="131.7" r="1.45"/>
<circle cx="587.6" cy="163.3" r="1.45"/>
<circle cx="563.3" cy="127.1" r="1.45"/>
<circle cx="564.7" cy="150.6" r="1.45"/>
<circle cx="562.1" cy="111.5" r="1.45"/>
<circle cx="570.7" cy="145.1" r="1.45"/>
<circle cx="550.4" cy="162.4" r="1.45"/>
<circle cx="589.8" cy="156.3" r="1.45"/>
<circle cx="590.0" cy="161.3" r="1.45"/>
<circle cx="543.8" cy="126.4" r="1.45"/>
<circle cx="573.6" cy="142.4" r="1.45"/>
<circle cx="551.8" cy="128.1" r="1.45"/>
<circle cx="544.9" cy="117.5" r="1.45"/>
<circle cx="563.0" cy="141.6" r="1.45"/>
<circle cx="564.7" cy="123.3" r="1.45"/>
<circle cx="577.1" cy="128.3" r="1.45"/>
<circle cx="561.1" cy="130.2" r="1.45"/>
<circle cx="556.8" cy="143.1" r="1.45"/>
<circle cx="561.1" cy="106.5" r="1.45"/>
<circle cx="559.7" cy="117.9" r="1.45"/>
<circle cx="537.0" cy="122.8" r="1.45"/>
<circle cx="564.4" cy="137.8" r="1.45"/>
<circle cx="552.3" cy="124.8" r="1.45"/>
<circle cx="555.3" cy="129.6" r="1.45"/>
<circle cx="563.5" cy="144.9" r="1.45"/>
<circle cx="568.5" cy="107.2" r="1.45"/>
<circle cx="583.8" cy="143.0" r="1.45"/>
<circle cx="582.8" cy="148.2" r="1.45"/>
<circle cx="553.8" cy="120.9" r="1.45"/>
<circle cx="572.3" cy="122.5" r="1.45"/>
<circle cx="575.4" cy="136.7" r="1.45"/>
<circle cx="552.4" cy="130.8" r="1.45"/>
<circle cx="569.8" cy="159.6" r="1.45"/>
<circle cx="602.0" cy="138.7" r="1.45"/>
<circle cx="550.8" cy="121.4" r="1.45"/>
<circle cx="559.0" cy="150.0" r="1.45"/>
<circle cx="572.0" cy="143.9" r="1.45"/>
<circle cx="557.2" cy="158.8" r="1.45"/>
<circle cx="562.2" cy="121.7" r="1.45"/>
<circle cx="546.2" cy="113.8" r="1.45"/>
<circle cx="553.7" cy="120.7" r="1.45"/>
<circle cx="564.4" cy="115.9" r="1.45"/>
<circle cx="544.0" cy="135.3" r="1.45"/>
<circle cx="548.3" cy="110.3" r="1.45"/>
<circle cx="544.9" cy="118.9" r="1.45"/>
<circle cx="540.5" cy="160.3" r="1.45"/>
<circle cx="586.2" cy="156.9" r="1.45"/>
<circle cx="551.3" cy="130.5" r="1.45"/>
<circle cx="591.0" cy="142.8" r="1.45"/>
<circle cx="561.6" cy="151.2" r="1.45"/>
<circle cx="561.9" cy="115.1" r="1.45"/>
<circle cx="549.1" cy="131.8" r="1.45"/>
<circle cx="570.1" cy="144.8" r="1.45"/>
<circle cx="538.6" cy="121.6" r="1.45"/>
<circle cx="553.6" cy="144.3" r="1.45"/>
<circle cx="550.0" cy="97.0" r="1.45"/>
<circle cx="540.3" cy="108.2" r="1.45"/>
<circle cx="582.7" cy="149.1" r="1.45"/>
<circle cx="578.6" cy="133.8" r="1.45"/>
<circle cx="562.6" cy="140.5" r="1.45"/>
<circle cx="578.3" cy="156.5" r="1.45"/>
<circle cx="552.5" cy="122.2" r="1.45"/>
<circle cx="560.1" cy="114.6" r="1.45"/>
<circle cx="581.7" cy="143.7" r="1.45"/>
<circle cx="562.8" cy="141.4" r="1.45"/>
<circle cx="580.9" cy="158.2" r="1.45"/>
<circle cx="538.8" cy="119.1" r="1.45"/>
<circle cx="551.6" cy="130.5" r="1.45"/>
<circle cx="555.4" cy="150.9" r="1.45"/>
<circle cx="569.3" cy="156.6" r="1.45"/>
<circle cx="558.2" cy="109.7" r="1.45"/>
<circle cx="538.4" cy="160.8" r="1.45"/>
<circle cx="574.0" cy="128.9" r="1.45"/>
<circle cx="565.0" cy="146.4" r="1.45"/>
<circle cx="545.7" cy="136.6" r="1.45"/>
<circle cx="572.6" cy="112.0" r="1.45"/>
<circle cx="579.4" cy="139.7" r="1.45"/>
<circle cx="541.2" cy="123.3" r="1.45"/>
<circle cx="559.4" cy="139.7" r="1.45"/>
<circle cx="566.4" cy="153.2" r="1.45"/>
<circle cx="541.1" cy="129.8" r="1.45"/>
<circle cx="550.9" cy="142.3" r="1.45"/>
<circle cx="600.5" cy="151.8" r="1.45"/>
<circle cx="570.2" cy="125.9" r="1.45"/>
<circle cx="572.0" cy="146.4" r="1.45"/>
<circle cx="565.6" cy="122.9" r="1.45"/>
<circle cx="578.5" cy="120.9" r="1.45"/>
<circle cx="563.5" cy="123.4" r="1.45"/>
<circle cx="550.2" cy="139.4" r="1.45"/>
<circle cx="582.3" cy="125.5" r="1.45"/>
<circle cx="567.4" cy="113.6" r="1.45"/>
<circle cx="549.8" cy="152.4" r="1.45"/>
<circle cx="543.4" cy="141.9" r="1.45"/>
<circle cx="594.1" cy="106.9" r="1.45"/>
<circle cx="552.0" cy="118.5" r="1.45"/>
<circle cx="576.8" cy="119.0" r="1.45"/>
<circle cx="578.3" cy="144.9" r="1.45"/>
<circle cx="569.6" cy="145.7" r="1.45"/>
<circle cx="563.4" cy="154.9" r="1.45"/>
<circle cx="559.3" cy="121.3" r="1.45"/>
<circle cx="572.8" cy="96.4" r="1.45"/>
<circle cx="590.0" cy="131.5" r="1.45"/>
<circle cx="567.8" cy="146.3" r="1.45"/>
<circle cx="565.3" cy="156.5" r="1.45"/>
<circle cx="558.3" cy="104.5" r="1.45"/>
<circle cx="554.2" cy="130.2" r="1.45"/>
<circle cx="551.2" cy="128.1" r="1.45"/>
<circle cx="542.5" cy="119.8" r="1.45"/>
<circle cx="550.9" cy="129.8" r="1.45"/>
<circle cx="598.5" cy="150.1" r="1.45"/>
<circle cx="584.4" cy="126.7" r="1.45"/>
<circle cx="543.1" cy="124.5" r="1.45"/>
<circle cx="561.0" cy="122.5" r="1.45"/>
<circle cx="552.0" cy="156.4" r="1.45"/>
<circle cx="547.2" cy="149.1" r="1.45"/>
<circle cx="537.8" cy="163.4" r="1.45"/>
<circle cx="573.0" cy="134.5" r="1.45"/>
<circle cx="581.4" cy="147.4" r="1.45"/>
<circle cx="548.5" cy="120.6" r="1.45"/>
<circle cx="551.8" cy="113.9" r="1.45"/>
<circle cx="566.0" cy="123.9" r="1.45"/>
<circle cx="561.2" cy="123.9" r="1.45"/>
<circle cx="544.9" cy="155.8" r="1.45"/>
<circle cx="578.5" cy="118.3" r="1.45"/>
<circle cx="536.6" cy="126.7" r="1.45"/>
<circle cx="569.3" cy="157.1" r="1.45"/>
<circle cx="540.1" cy="107.9" r="1.45"/>
<circle cx="565.9" cy="127.9" r="1.45"/>
<circle cx="539.7" cy="127.9" r="1.45"/>
<circle cx="569.8" cy="160.4" r="1.45"/>
<circle cx="576.1" cy="151.5" r="1.45"/>
<circle cx="566.6" cy="160.8" r="1.45"/>
<circle cx="549.4" cy="144.8" r="1.45"/>
<circle cx="567.7" cy="146.1" r="1.45"/>
<circle cx="561.4" cy="132.3" r="1.45"/>
<circle cx="570.1" cy="110.7" r="1.45"/>
<circle cx="541.5" cy="127.5" r="1.45"/>
<circle cx="548.1" cy="120.2" r="1.45"/>
<circle cx="561.9" cy="137.6" r="1.45"/>
<circle cx="573.2" cy="128.4" r="1.45"/>
<circle cx="574.6" cy="121.3" r="1.45"/>
<circle cx="574.3" cy="149.4" r="1.45"/>
<circle cx="542.7" cy="113.7" r="1.45"/>
<circle cx="546.5" cy="100.7" r="1.45"/>
<circle cx="557.5" cy="122.8" r="1.45"/>
<circle cx="566.4" cy="138.8" r="1.45"/>
<circle cx="540.3" cy="110.8" r="1.45"/>
<circle cx="554.1" cy="157.1" r="1.45"/>
<circle cx="563.1" cy="116.0" r="1.45"/>
<circle cx="558.6" cy="108.0" r="1.45"/>
<circle cx="570.7" cy="161.0" r="1.45"/>
<circle cx="543.7" cy="121.3" r="1.45"/>
<circle cx="567.7" cy="158.7" r="1.45"/>
<circle cx="571.8" cy="97.3" r="1.45"/>
<circle cx="579.5" cy="157.8" r="1.45"/>
<circle cx="565.6" cy="125.0" r="1.45"/>
<circle cx="563.2" cy="119.4" r="1.45"/>
<circle cx="542.2" cy="129.7" r="1.45"/>
<circle cx="570.0" cy="149.1" r="1.45"/>
<circle cx="545.7" cy="122.3" r="1.45"/>
<circle cx="563.4" cy="150.2" r="1.45"/>
<circle cx="541.4" cy="120.2" r="1.45"/>
<circle cx="573.0" cy="163.0" r="1.45"/>
<circle cx="558.8" cy="137.4" r="1.45"/>
<circle cx="581.5" cy="136.2" r="1.45"/>
<circle cx="571.8" cy="121.7" r="1.45"/>
<circle cx="554.2" cy="101.7" r="1.45"/>
<circle cx="540.2" cy="132.3" r="1.45"/>
<circle cx="562.2" cy="138.7" r="1.45"/>
<circle cx="537.9" cy="152.6" r="1.45"/>
<circle cx="560.2" cy="130.5" r="1.45"/>
<circle cx="550.9" cy="104.2" r="1.45"/>
<circle cx="548.7" cy="142.2" r="1.45"/>
<circle cx="556.2" cy="111.7" r="1.45"/>
<circle cx="593.3" cy="123.1" r="1.45"/>
<circle cx="547.2" cy="131.6" r="1.45"/>
<circle cx="568.5" cy="141.7" r="1.45"/>
<circle cx="566.1" cy="118.6" r="1.45"/>
<circle cx="562.6" cy="110.9" r="1.45"/>
<circle cx="580.1" cy="156.0" r="1.45"/>
<circle cx="576.0" cy="134.9" r="1.45"/>
<circle cx="539.4" cy="127.3" r="1.45"/>
<circle cx="594.5" cy="156.2" r="1.45"/>
<circle cx="595.3" cy="131.2" r="1.45"/>
<circle cx="554.3" cy="124.0" r="1.45"/>
<circle cx="557.2" cy="136.8" r="1.45"/>
<circle cx="565.7" cy="131.5" r="1.45"/>
<circle cx="548.1" cy="130.3" r="1.45"/>
<circle cx="552.9" cy="152.8" r="1.45"/>
<circle cx="555.8" cy="120.3" r="1.45"/>
<circle cx="570.2" cy="164.2" r="1.45"/>
<circle cx="559.6" cy="129.4" r="1.45"/>
<circle cx="545.6" cy="146.8" r="1.45"/>
<circle cx="571.4" cy="163.7" r="1.45"/>
<circle cx="564.2" cy="139.7" r="1.45"/>
<circle cx="554.2" cy="103.6" r="1.45"/>
<circle cx="566.2" cy="142.4" r="1.45"/>
<circle cx="548.3" cy="122.2" r="1.45"/>
<circle cx="577.5" cy="141.4" r="1.45"/>
<circle cx="579.2" cy="122.3" r="1.45"/>
<circle cx="597.3" cy="126.2" r="1.45"/>
<circle cx="546.1" cy="124.4" r="1.45"/>
<circle cx="572.3" cy="160.3" r="1.45"/>
<circle cx="573.2" cy="119.9" r="1.45"/>
<circle cx="568.8" cy="162.2" r="1.45"/>
<circle cx="567.3" cy="145.4" r="1.45"/>
<circle cx="558.5" cy="124.9" r="1.45"/>
<circle cx="545.0" cy="121.7" r="1.45"/>
<circle cx="553.4" cy="118.2" r="1.45"/>
<circle cx="568.8" cy="112.0" r="1.45"/>
<circle cx="551.2" cy="147.6" r="1.45"/>
<circle cx="560.6" cy="115.3" r="1.45"/>
<circle cx="580.6" cy="116.3" r="1.45"/>
<circle cx="586.0" cy="137.7" r="1.45"/>
<circle cx="559.5" cy="148.7" r="1.45"/>
<circle cx="566.5" cy="145.1" r="1.45"/>
<circle cx="569.0" cy="160.1" r="1.45"/>
<circle cx="553.9" cy="137.5" r="1.45"/>
<circle cx="596.3" cy="156.5" r="1.45"/>
<circle cx="559.6" cy="108.3" r="1.45"/>
<circle cx="544.8" cy="155.3" r="1.45"/>
<circle cx="562.7" cy="134.4" r="1.45"/>
<circle cx="568.8" cy="103.2" r="1.45"/>
<circle cx="592.6" cy="139.6" r="1.45"/>
<circle cx="555.4" cy="160.9" r="1.45"/>
<circle cx="562.9" cy="163.5" r="1.45"/>
<circle cx="546.8" cy="163.5" r="1.45"/>
<circle cx="555.2" cy="163.5" r="1.45"/>
<circle cx="560.2" cy="163.5" r="1.45"/>
<circle cx="566.8" cy="163.5" r="1.45"/>
<circle cx="562.4" cy="163.5" r="1.45"/>
<circle cx="540.9" cy="163.5" r="1.45"/>
<circle cx="565.3" cy="163.5" r="1.45"/>
<circle cx="568.5" cy="163.5" r="1.45"/>
<circle cx="539.5" cy="163.5" r="1.45"/>
<circle cx="547.6" cy="163.5" r="1.45"/>
<circle cx="565.8" cy="163.5" r="1.45"/>
<circle cx="554.9" cy="163.5" r="1.45"/>
<circle cx="538.7" cy="163.5" r="1.45"/>
<circle cx="562.2" cy="163.5" r="1.45"/>
<circle cx="569.0" cy="163.5" r="1.45"/>
<circle cx="543.0" cy="163.5" r="1.45"/>
<circle cx="565.3" cy="163.5" r="1.45"/>
<circle cx="557.6" cy="163.5" r="1.45"/>
<circle cx="557.3" cy="163.5" r="1.45"/>
<circle cx="539.8" cy="163.5" r="1.45"/>
<circle cx="568.6" cy="163.5" r="1.45"/>
<circle cx="569.3" cy="163.5" r="1.45"/>
<circle cx="542.4" cy="163.5" r="1.45"/>
<circle cx="563.7" cy="163.5" r="1.45"/>
<circle cx="549.3" cy="163.5" r="1.45"/>
<circle cx="539.3" cy="163.5" r="1.45"/>
<circle cx="554.6" cy="163.5" r="1.45"/>
<circle cx="564.5" cy="163.5" r="1.45"/>
<circle cx="556.4" cy="163.5" r="1.45"/>
<circle cx="540.2" cy="163.5" r="1.45"/>
<circle cx="565.2" cy="163.5" r="1.45"/>
<circle cx="551.7" cy="163.5" r="1.45"/>
<circle cx="555.7" cy="163.5" r="1.45"/>
<circle cx="551.0" cy="163.5" r="1.45"/>
<circle cx="568.3" cy="163.5" r="1.45"/>
<circle cx="555.2" cy="163.5" r="1.45"/>
<circle cx="563.7" cy="163.5" r="1.45"/>
<circle cx="567.8" cy="163.5" r="1.45"/>
<circle cx="556.8" cy="163.5" r="1.45"/>
<circle cx="539.2" cy="150.4" r="1.45"/>
<circle cx="537.9" cy="118.6" r="1.45"/>
<circle cx="538.9" cy="105.8" r="1.45"/>
<circle cx="538.2" cy="152.2" r="1.45"/>
<circle cx="538.3" cy="109.5" r="1.45"/>
<circle cx="538.6" cy="144.2" r="1.45"/>
<circle cx="538.5" cy="119.1" r="1.45"/>
<circle cx="537.7" cy="120.9" r="1.45"/>
<circle cx="538.4" cy="110.4" r="1.45"/>
<circle cx="539.1" cy="116.9" r="1.45"/>
<circle cx="537.6" cy="130.9" r="1.45"/>
<circle cx="537.6" cy="141.7" r="1.45"/>
<circle cx="537.8" cy="133.6" r="1.45"/>
<circle cx="537.9" cy="144.0" r="1.45"/>
<circle cx="539.0" cy="116.5" r="1.45"/>
<circle cx="539.0" cy="119.1" r="1.45"/>
<circle cx="538.2" cy="160.7" r="1.45"/>
<circle cx="537.6" cy="128.2" r="1.45"/>
<circle cx="539.4" cy="132.3" r="1.45"/>
<circle cx="538.4" cy="111.3" r="1.45"/>
<circle cx="538.2" cy="149.6" r="1.45"/>
<circle cx="539.4" cy="162.9" r="1.45"/>
<circle cx="538.6" cy="152.4" r="1.45"/>
<circle cx="538.0" cy="106.6" r="1.45"/>
<circle cx="538.8" cy="130.1" r="1.45"/>
<circle cx="537.7" cy="107.4" r="1.45"/>
<circle cx="538.4" cy="157.0" r="1.45"/>
<circle cx="538.6" cy="158.0" r="1.45"/>
<circle cx="539.2" cy="138.6" r="1.45"/>
<circle cx="538.1" cy="147.8" r="1.45"/>
<circle cx="537.9" cy="151.4" r="1.45"/>
<circle cx="538.7" cy="152.9" r="1.45"/>
<circle cx="538.6" cy="110.4" r="1.45"/>
<circle cx="539.0" cy="130.6" r="1.45"/>
<circle cx="538.4" cy="142.2" r="1.45"/>
<circle cx="538.0" cy="137.9" r="1.45"/>
<circle cx="539.5" cy="130.0" r="1.45"/>
<circle cx="538.1" cy="146.7" r="1.45"/>
<circle cx="538.4" cy="135.9" r="1.45"/>
<circle cx="538.2" cy="130.0" r="1.45"/>
<circle cx="600.5" cy="74.5" r="1.45"/>
<circle cx="566.0" cy="82.0" r="1.45"/>
<circle cx="568.0" cy="82.0" r="1.45"/>
<circle cx="575.0" cy="82.5" r="1.45"/>
<circle cx="560.0" cy="84.5" r="1.45"/>
<circle cx="551.0" cy="86.0" r="1.45"/>
<circle cx="537.0" cy="90.0" r="1.45"/>
<circle cx="546.0" cy="93.0" r="1.45"/>
<circle cx="577.0" cy="99.0" r="1.45"/>
<circle cx="584.0" cy="101.5" r="1.45"/>
<circle cx="592.0" cy="104.0" r="1.45"/>
<circle cx="600.6" cy="139.5" r="1.45"/>
<circle cx="591.0" cy="134.0" r="1.45"/>
<circle cx="588.0" cy="123.0" r="1.45"/>
<circle cx="585.0" cy="129.0" r="1.45"/>
<circle cx="594.5" cy="130.0" r="1.45"/>
</g>
<path d="M536,272 L541,268 L546,271 L548,285 L549,300 L547,308 L536,308 Z" fill="#000" fill-opacity="0.8"/>
<line x1="535.5" y1="214.7" x2="535.5" y2="311.90000000000003" stroke="#000" stroke-width="1.2"/>
<line x1="534.9" y1="311.3" x2="603.7" y2="311.3" stroke="#000" stroke-width="1.2"/>
<line x1="532.5" y1="220.6" x2="535" y2="220.6" stroke="#333" stroke-width="1"/>
<text class="t axc" x="529.5" y="223.9" text-anchor="end">8e+04</text>
<line x1="532.5" y1="242.0" x2="535" y2="242.0" stroke="#333" stroke-width="1"/>
<text class="t axc" x="529.5" y="245.3" text-anchor="end">6e+04</text>
<line x1="532.5" y1="263.8" x2="535" y2="263.8" stroke="#333" stroke-width="1"/>
<text class="t axc" x="529.5" y="267.1" text-anchor="end">4e+04</text>
<line x1="532.5" y1="285.3" x2="535" y2="285.3" stroke="#333" stroke-width="1"/>
<text class="t axc" x="529.5" y="288.6" text-anchor="end">2e+04</text>
<line x1="532.5" y1="307.2" x2="535" y2="307.2" stroke="#333" stroke-width="1"/>
<text class="t axc" x="529.5" y="310.5" text-anchor="end">0e+00</text>
<line x1="538.2" y1="311.8" x2="538.2" y2="314.3" stroke="#333" stroke-width="1"/>
<text class="t axc" x="538.2" y="324.8" text-anchor="middle">0e+00</text>
<line x1="556.1" y1="311.8" x2="556.1" y2="314.3" stroke="#333" stroke-width="1"/>
<line x1="574.1" y1="311.8" x2="574.1" y2="314.3" stroke="#333" stroke-width="1"/>
<text class="t axc" x="574.1" y="324.8" text-anchor="middle">4e+04</text>
<line x1="591.9" y1="311.8" x2="591.9" y2="314.3" stroke="#333" stroke-width="1"/>
<text class="t at" x="565.5" y="337.4" text-anchor="middle">MERFISH pseudospot</text>
<g fill="#000" fill-opacity="0.60">
<circle cx="540.7" cy="264.2" r="1.45"/>
<circle cx="548.1" cy="304.4" r="1.45"/>
<circle cx="558.1" cy="296.9" r="1.45"/>
<circle cx="547.1" cy="275.7" r="1.45"/>
<circle cx="563.6" cy="230.7" r="1.45"/>
<circle cx="544.5" cy="294.9" r="1.45"/>
<circle cx="556.7" cy="284.3" r="1.45"/>
<circle cx="547.5" cy="279.5" r="1.45"/>
<circle cx="547.8" cy="260.7" r="1.45"/>
<circle cx="543.0" cy="288.8" r="1.45"/>
<circle cx="558.2" cy="267.6" r="1.45"/>
<circle cx="557.7" cy="278.8" r="1.45"/>
<circle cx="545.0" cy="283.9" r="1.45"/>
<circle cx="553.9" cy="269.2" r="1.45"/>
<circle cx="555.2" cy="270.4" r="1.45"/>
<circle cx="544.8" cy="291.5" r="1.45"/>
<circle cx="569.3" cy="279.0" r="1.45"/>
<circle cx="549.1" cy="280.8" r="1.45"/>
<circle cx="561.8" cy="242.2" r="1.45"/>
<circle cx="552.3" cy="276.7" r="1.45"/>
<circle cx="545.6" cy="269.0" r="1.45"/>
<circle cx="541.4" cy="298.1" r="1.45"/>
<circle cx="544.4" cy="262.4" r="1.45"/>
<circle cx="540.6" cy="299.4" r="1.45"/>
<circle cx="560.4" cy="268.4" r="1.45"/>
<circle cx="538.4" cy="297.0" r="1.45"/>
<circle cx="546.3" cy="306.5" r="1.45"/>
<circle cx="537.5" cy="257.0" r="1.45"/>
<circle cx="541.9" cy="278.7" r="1.45"/>
<circle cx="558.6" cy="278.3" r="1.45"/>
<circle cx="554.5" cy="250.0" r="1.45"/>
<circle cx="544.6" cy="282.1" r="1.45"/>
<circle cx="560.7" cy="270.9" r="1.45"/>
<circle cx="547.1" cy="303.4" r="1.45"/>
<circle cx="542.5" cy="293.5" r="1.45"/>
<circle cx="543.4" cy="287.3" r="1.45"/>
<circle cx="552.0" cy="301.6" r="1.45"/>
<circle cx="546.7" cy="265.6" r="1.45"/>
<circle cx="541.7" cy="304.8" r="1.45"/>
<circle cx="570.0" cy="297.9" r="1.45"/>
<circle cx="541.1" cy="296.0" r="1.45"/>
<circle cx="543.5" cy="274.3" r="1.45"/>
<circle cx="541.7" cy="263.2" r="1.45"/>
<circle cx="540.2" cy="270.7" r="1.45"/>
<circle cx="551.0" cy="283.0" r="1.45"/>
<circle cx="538.8" cy="270.6" r="1.45"/>
<circle cx="543.8" cy="284.9" r="1.45"/>
<circle cx="537.4" cy="304.5" r="1.45"/>
<circle cx="554.0" cy="289.0" r="1.45"/>
<circle cx="538.1" cy="304.7" r="1.45"/>
<circle cx="554.8" cy="287.0" r="1.45"/>
<circle cx="546.8" cy="307.1" r="1.45"/>
<circle cx="551.4" cy="257.7" r="1.45"/>
<circle cx="542.9" cy="285.9" r="1.45"/>
<circle cx="563.1" cy="306.1" r="1.45"/>
<circle cx="540.5" cy="298.8" r="1.45"/>
<circle cx="553.9" cy="263.7" r="1.45"/>
<circle cx="554.5" cy="273.4" r="1.45"/>
<circle cx="540.1" cy="260.4" r="1.45"/>
<circle cx="541.8" cy="245.1" r="1.45"/>
<circle cx="542.2" cy="277.9" r="1.45"/>
<circle cx="546.8" cy="301.6" r="1.45"/>
<circle cx="537.7" cy="272.0" r="1.45"/>
<circle cx="549.3" cy="300.2" r="1.45"/>
<circle cx="543.9" cy="306.2" r="1.45"/>
<circle cx="550.0" cy="272.4" r="1.45"/>
<circle cx="559.0" cy="278.9" r="1.45"/>
<circle cx="553.1" cy="266.0" r="1.45"/>
<circle cx="538.6" cy="308.1" r="1.45"/>
<circle cx="557.1" cy="301.7" r="1.45"/>
<circle cx="547.0" cy="282.3" r="1.45"/>
<circle cx="553.8" cy="287.7" r="1.45"/>
<circle cx="544.0" cy="278.6" r="1.45"/>
<circle cx="538.5" cy="306.4" r="1.45"/>
<circle cx="537.9" cy="304.9" r="1.45"/>
<circle cx="536.8" cy="298.8" r="1.45"/>
<circle cx="548.6" cy="296.4" r="1.45"/>
<circle cx="549.7" cy="260.2" r="1.45"/>
<circle cx="550.7" cy="299.1" r="1.45"/>
<circle cx="557.7" cy="284.2" r="1.45"/>
<circle cx="562.8" cy="306.5" r="1.45"/>
<circle cx="548.7" cy="278.8" r="1.45"/>
<circle cx="537.9" cy="279.6" r="1.45"/>
<circle cx="537.3" cy="303.9" r="1.45"/>
<circle cx="542.6" cy="299.5" r="1.45"/>
<circle cx="542.4" cy="288.4" r="1.45"/>
<circle cx="558.7" cy="293.0" r="1.45"/>
<circle cx="541.6" cy="301.0" r="1.45"/>
<circle cx="541.6" cy="297.9" r="1.45"/>
<circle cx="538.0" cy="286.9" r="1.45"/>
<circle cx="566.2" cy="271.7" r="1.45"/>
<circle cx="542.4" cy="291.8" r="1.45"/>
<circle cx="551.8" cy="308.3" r="1.45"/>
<circle cx="545.5" cy="283.9" r="1.45"/>
<circle cx="543.9" cy="263.7" r="1.45"/>
<circle cx="537.1" cy="305.1" r="1.45"/>
<circle cx="557.4" cy="297.7" r="1.45"/>
<circle cx="566.8" cy="297.6" r="1.45"/>
<circle cx="537.5" cy="292.3" r="1.45"/>
<circle cx="550.1" cy="285.6" r="1.45"/>
<circle cx="560.1" cy="295.4" r="1.45"/>
<circle cx="541.2" cy="279.7" r="1.45"/>
<circle cx="559.0" cy="253.9" r="1.45"/>
<circle cx="544.7" cy="304.0" r="1.45"/>
<circle cx="555.2" cy="306.7" r="1.45"/>
<circle cx="545.2" cy="307.5" r="1.45"/>
<circle cx="546.1" cy="288.5" r="1.45"/>
<circle cx="559.7" cy="272.4" r="1.45"/>
<circle cx="546.6" cy="258.9" r="1.45"/>
<circle cx="548.2" cy="271.9" r="1.45"/>
<circle cx="557.7" cy="280.9" r="1.45"/>
<circle cx="540.4" cy="271.0" r="1.45"/>
<circle cx="539.5" cy="257.3" r="1.45"/>
<circle cx="543.8" cy="299.0" r="1.45"/>
<circle cx="557.3" cy="301.8" r="1.45"/>
<circle cx="551.1" cy="297.5" r="1.45"/>
<circle cx="537.4" cy="280.9" r="1.45"/>
<circle cx="558.6" cy="257.2" r="1.45"/>
<circle cx="563.9" cy="271.9" r="1.45"/>
<circle cx="546.3" cy="288.7" r="1.45"/>
<circle cx="555.0" cy="283.5" r="1.45"/>
<circle cx="572.6" cy="285.4" r="1.45"/>
<circle cx="545.5" cy="297.1" r="1.45"/>
<circle cx="545.9" cy="276.0" r="1.45"/>
<circle cx="551.1" cy="304.9" r="1.45"/>
<circle cx="541.6" cy="287.0" r="1.45"/>
<circle cx="569.0" cy="256.7" r="1.45"/>
<circle cx="552.8" cy="282.1" r="1.45"/>
<circle cx="542.9" cy="277.0" r="1.45"/>
<circle cx="543.3" cy="280.0" r="1.45"/>
<circle cx="539.9" cy="284.8" r="1.45"/>
<circle cx="540.5" cy="289.2" r="1.45"/>
<circle cx="548.7" cy="278.0" r="1.45"/>
<circle cx="541.4" cy="302.4" r="1.45"/>
<circle cx="543.3" cy="278.9" r="1.45"/>
<circle cx="536.7" cy="276.1" r="1.45"/>
<circle cx="540.2" cy="295.5" r="1.45"/>
<circle cx="542.3" cy="275.1" r="1.45"/>
<circle cx="556.9" cy="274.9" r="1.45"/>
<circle cx="538.2" cy="289.7" r="1.45"/>
<circle cx="553.4" cy="287.3" r="1.45"/>
<circle cx="548.6" cy="269.1" r="1.45"/>
<circle cx="547.5" cy="297.4" r="1.45"/>
<circle cx="538.8" cy="297.2" r="1.45"/>
<circle cx="547.3" cy="289.9" r="1.45"/>
<circle cx="539.8" cy="274.1" r="1.45"/>
<circle cx="553.5" cy="290.1" r="1.45"/>
<circle cx="549.5" cy="288.3" r="1.45"/>
<circle cx="543.1" cy="296.3" r="1.45"/>
<circle cx="545.4" cy="283.4" r="1.45"/>
<circle cx="548.4" cy="276.3" r="1.45"/>
<circle cx="552.0" cy="271.1" r="1.45"/>
<circle cx="554.2" cy="298.4" r="1.45"/>
<circle cx="536.9" cy="305.2" r="1.45"/>
<circle cx="544.7" cy="292.0" r="1.45"/>
<circle cx="544.0" cy="288.7" r="1.45"/>
<circle cx="540.1" cy="263.2" r="1.45"/>
<circle cx="541.8" cy="304.4" r="1.45"/>
<circle cx="542.3" cy="276.2" r="1.45"/>
<circle cx="541.0" cy="291.4" r="1.45"/>
<circle cx="567.6" cy="280.2" r="1.45"/>
<circle cx="542.2" cy="303.0" r="1.45"/>
<circle cx="559.5" cy="305.4" r="1.45"/>
<circle cx="542.3" cy="291.8" r="1.45"/>
<circle cx="548.7" cy="305.1" r="1.45"/>
<circle cx="537.1" cy="292.7" r="1.45"/>
<circle cx="545.9" cy="277.0" r="1.45"/>
<circle cx="542.3" cy="283.8" r="1.45"/>
<circle cx="543.8" cy="250.8" r="1.45"/>
<circle cx="561.2" cy="269.2" r="1.45"/>
<circle cx="548.9" cy="289.0" r="1.45"/>
<circle cx="568.7" cy="272.0" r="1.45"/>
<circle cx="550.4" cy="274.1" r="1.45"/>
<circle cx="547.0" cy="305.1" r="1.45"/>
<circle cx="547.3" cy="291.4" r="1.45"/>
<circle cx="549.3" cy="271.8" r="1.45"/>
<circle cx="544.6" cy="297.8" r="1.45"/>
<circle cx="539.3" cy="293.4" r="1.45"/>
<circle cx="545.5" cy="287.0" r="1.45"/>
<circle cx="549.7" cy="296.2" r="1.45"/>
<circle cx="567.5" cy="257.5" r="1.45"/>
<circle cx="545.8" cy="280.2" r="1.45"/>
<circle cx="538.8" cy="283.9" r="1.45"/>
<circle cx="560.1" cy="292.6" r="1.45"/>
<circle cx="563.8" cy="305.6" r="1.45"/>
<circle cx="549.2" cy="299.4" r="1.45"/>
<circle cx="547.0" cy="290.0" r="1.45"/>
<circle cx="541.9" cy="289.5" r="1.45"/>
<circle cx="545.1" cy="282.4" r="1.45"/>
<circle cx="539.9" cy="289.1" r="1.45"/>
<circle cx="538.7" cy="269.4" r="1.45"/>
<circle cx="538.5" cy="287.7" r="1.45"/>
<circle cx="550.2" cy="269.4" r="1.45"/>
<circle cx="543.8" cy="307.3" r="1.45"/>
<circle cx="542.9" cy="278.7" r="1.45"/>
<circle cx="541.8" cy="299.3" r="1.45"/>
<circle cx="537.5" cy="305.0" r="1.45"/>
<circle cx="540.0" cy="277.2" r="1.45"/>
<circle cx="549.6" cy="307.4" r="1.45"/>
<circle cx="562.1" cy="277.8" r="1.45"/>
<circle cx="550.5" cy="302.5" r="1.45"/>
<circle cx="543.2" cy="277.2" r="1.45"/>
<circle cx="537.2" cy="287.2" r="1.45"/>
<circle cx="544.1" cy="297.5" r="1.45"/>
<circle cx="537.0" cy="294.7" r="1.45"/>
<circle cx="540.3" cy="308.5" r="1.45"/>
<circle cx="557.5" cy="262.5" r="1.45"/>
<circle cx="547.4" cy="271.8" r="1.45"/>
<circle cx="552.8" cy="287.5" r="1.45"/>
<circle cx="544.1" cy="250.8" r="1.45"/>
<circle cx="548.9" cy="286.5" r="1.45"/>
<circle cx="555.5" cy="278.3" r="1.45"/>
<circle cx="558.9" cy="281.9" r="1.45"/>
<circle cx="552.0" cy="282.4" r="1.45"/>
<circle cx="542.6" cy="293.4" r="1.45"/>
<circle cx="537.1" cy="279.0" r="1.45"/>
<circle cx="540.0" cy="280.5" r="1.45"/>
<circle cx="553.2" cy="296.1" r="1.45"/>
<circle cx="555.0" cy="287.3" r="1.45"/>
<circle cx="538.1" cy="262.3" r="1.45"/>
<circle cx="547.1" cy="303.6" r="1.45"/>
<circle cx="539.6" cy="266.8" r="1.45"/>
<circle cx="559.4" cy="298.6" r="1.45"/>
<circle cx="561.3" cy="270.8" r="1.45"/>
<circle cx="541.8" cy="301.3" r="1.45"/>
<circle cx="541.8" cy="294.5" r="1.45"/>
<circle cx="543.9" cy="281.5" r="1.45"/>
<circle cx="545.0" cy="267.0" r="1.45"/>
<circle cx="541.9" cy="286.0" r="1.45"/>
<circle cx="542.0" cy="301.1" r="1.45"/>
<circle cx="553.8" cy="297.9" r="1.45"/>
<circle cx="571.5" cy="291.6" r="1.45"/>
<circle cx="544.0" cy="288.8" r="1.45"/>
<circle cx="563.3" cy="268.1" r="1.45"/>
<circle cx="547.7" cy="294.9" r="1.45"/>
<circle cx="539.2" cy="285.8" r="1.45"/>
<circle cx="560.9" cy="278.2" r="1.45"/>
<circle cx="546.4" cy="278.9" r="1.45"/>
<circle cx="538.9" cy="284.5" r="1.45"/>
<circle cx="581.3" cy="305.7" r="1.45"/>
<circle cx="550.9" cy="285.4" r="1.45"/>
<circle cx="543.4" cy="291.8" r="1.45"/>
<circle cx="545.2" cy="302.8" r="1.45"/>
<circle cx="547.0" cy="286.8" r="1.45"/>
<circle cx="545.8" cy="273.9" r="1.45"/>
<circle cx="540.1" cy="287.9" r="1.45"/>
<circle cx="537.8" cy="266.7" r="1.45"/>
<circle cx="537.4" cy="279.0" r="1.45"/>
<circle cx="554.0" cy="298.5" r="1.45"/>
<circle cx="572.2" cy="282.8" r="1.45"/>
<circle cx="547.5" cy="264.8" r="1.45"/>
<circle cx="550.8" cy="299.4" r="1.45"/>
<circle cx="542.9" cy="277.9" r="1.45"/>
<circle cx="569.2" cy="286.6" r="1.45"/>
<circle cx="573.7" cy="285.0" r="1.45"/>
<circle cx="546.1" cy="304.8" r="1.45"/>
<circle cx="548.3" cy="302.0" r="1.45"/>
<circle cx="547.6" cy="289.8" r="1.45"/>
<circle cx="564.9" cy="305.7" r="1.45"/>
<circle cx="540.5" cy="293.1" r="1.45"/>
<circle cx="554.7" cy="296.6" r="1.45"/>
<circle cx="542.3" cy="299.0" r="1.45"/>
<circle cx="538.7" cy="273.2" r="1.45"/>
<circle cx="565.1" cy="224.7" r="1.45"/>
<circle cx="562.4" cy="301.7" r="1.45"/>
<circle cx="540.4" cy="289.1" r="1.45"/>
<circle cx="544.3" cy="276.5" r="1.45"/>
<circle cx="544.1" cy="280.8" r="1.45"/>
<circle cx="549.8" cy="268.6" r="1.45"/>
<circle cx="551.4" cy="263.4" r="1.45"/>
<circle cx="539.0" cy="284.6" r="1.45"/>
<circle cx="558.3" cy="289.0" r="1.45"/>
<circle cx="537.6" cy="281.2" r="1.45"/>
<circle cx="536.8" cy="306.3" r="1.45"/>
<circle cx="542.2" cy="298.7" r="1.45"/>
<circle cx="550.2" cy="299.5" r="1.45"/>
<circle cx="543.8" cy="293.0" r="1.45"/>
<circle cx="560.6" cy="302.2" r="1.45"/>
<circle cx="543.3" cy="274.4" r="1.45"/>
<circle cx="540.2" cy="294.1" r="1.45"/>
<circle cx="540.9" cy="291.6" r="1.45"/>
<circle cx="543.9" cy="292.9" r="1.45"/>
<circle cx="555.3" cy="275.7" r="1.45"/>
<circle cx="559.6" cy="287.1" r="1.45"/>
<circle cx="540.9" cy="294.7" r="1.45"/>
<circle cx="547.6" cy="273.7" r="1.45"/>
<circle cx="551.0" cy="267.9" r="1.45"/>
<circle cx="557.4" cy="273.7" r="1.45"/>
<circle cx="556.1" cy="269.5" r="1.45"/>
<circle cx="563.5" cy="277.7" r="1.45"/>
<circle cx="540.1" cy="302.0" r="1.45"/>
<circle cx="557.5" cy="238.8" r="1.45"/>
<circle cx="538.5" cy="275.8" r="1.45"/>
<circle cx="547.1" cy="270.0" r="1.45"/>
<circle cx="548.7" cy="287.7" r="1.45"/>
<circle cx="545.7" cy="281.3" r="1.45"/>
<circle cx="545.2" cy="277.9" r="1.45"/>
<circle cx="546.6" cy="274.6" r="1.45"/>
<circle cx="546.9" cy="307.8" r="1.45"/>
<circle cx="560.1" cy="302.3" r="1.45"/>
<circle cx="548.1" cy="297.5" r="1.45"/>
<circle cx="538.8" cy="293.2" r="1.45"/>
<circle cx="540.6" cy="275.8" r="1.45"/>
<circle cx="577.0" cy="265.1" r="1.45"/>
<circle cx="540.4" cy="298.3" r="1.45"/>
<circle cx="540.4" cy="280.8" r="1.45"/>
<circle cx="551.6" cy="290.9" r="1.45"/>
<circle cx="559.0" cy="270.5" r="1.45"/>
<circle cx="540.1" cy="295.4" r="1.45"/>
<circle cx="539.6" cy="302.1" r="1.45"/>
<circle cx="561.0" cy="271.5" r="1.45"/>
<circle cx="550.3" cy="268.4" r="1.45"/>
<circle cx="546.6" cy="277.9" r="1.45"/>
<circle cx="538.5" cy="293.3" r="1.45"/>
<circle cx="541.0" cy="286.9" r="1.45"/>
<circle cx="563.6" cy="298.1" r="1.45"/>
<circle cx="551.2" cy="307.5" r="1.45"/>
<circle cx="537.8" cy="276.1" r="1.45"/>
<circle cx="541.2" cy="290.5" r="1.45"/>
<circle cx="552.1" cy="301.2" r="1.45"/>
<circle cx="537.3" cy="304.0" r="1.45"/>
<circle cx="540.2" cy="291.5" r="1.45"/>
<circle cx="538.4" cy="284.2" r="1.45"/>
<circle cx="546.6" cy="270.9" r="1.45"/>
<circle cx="557.6" cy="281.0" r="1.45"/>
<circle cx="556.1" cy="285.2" r="1.45"/>
<circle cx="536.7" cy="301.4" r="1.45"/>
<circle cx="541.0" cy="300.0" r="1.45"/>
<circle cx="542.2" cy="301.7" r="1.45"/>
<circle cx="541.6" cy="275.7" r="1.45"/>
<circle cx="552.9" cy="296.0" r="1.45"/>
<circle cx="545.0" cy="285.6" r="1.45"/>
<circle cx="544.0" cy="282.0" r="1.45"/>
<circle cx="538.0" cy="273.4" r="1.45"/>
<circle cx="547.4" cy="301.6" r="1.45"/>
<circle cx="547.7" cy="280.9" r="1.45"/>
<circle cx="539.4" cy="267.1" r="1.45"/>
<circle cx="548.9" cy="298.9" r="1.45"/>
<circle cx="546.4" cy="282.8" r="1.45"/>
<circle cx="550.3" cy="241.7" r="1.45"/>
<circle cx="541.3" cy="281.2" r="1.45"/>
<circle cx="543.0" cy="271.5" r="1.45"/>
<circle cx="552.5" cy="301.4" r="1.45"/>
<circle cx="540.8" cy="274.9" r="1.45"/>
<circle cx="537.0" cy="299.6" r="1.45"/>
<circle cx="542.4" cy="305.9" r="1.45"/>
<circle cx="541.1" cy="295.6" r="1.45"/>
<circle cx="542.0" cy="277.1" r="1.45"/>
<circle cx="546.8" cy="296.7" r="1.45"/>
<circle cx="560.2" cy="276.4" r="1.45"/>
<circle cx="543.6" cy="271.9" r="1.45"/>
<circle cx="561.1" cy="278.4" r="1.45"/>
<circle cx="537.7" cy="298.1" r="1.45"/>
<circle cx="550.5" cy="265.6" r="1.45"/>
<circle cx="541.7" cy="303.6" r="1.45"/>
<circle cx="543.5" cy="285.9" r="1.45"/>
<circle cx="553.7" cy="265.0" r="1.45"/>
<circle cx="566.9" cy="275.7" r="1.45"/>
<circle cx="550.2" cy="267.6" r="1.45"/>
<circle cx="537.4" cy="276.0" r="1.45"/>
<circle cx="541.3" cy="275.5" r="1.45"/>
<circle cx="537.6" cy="292.1" r="1.45"/>
<circle cx="542.5" cy="270.5" r="1.45"/>
<circle cx="579.1" cy="267.9" r="1.45"/>
<circle cx="543.0" cy="296.3" r="1.45"/>
<circle cx="552.3" cy="270.2" r="1.45"/>
<circle cx="569.0" cy="296.9" r="1.45"/>
<circle cx="560.8" cy="299.2" r="1.45"/>
<circle cx="542.2" cy="279.3" r="1.45"/>
<circle cx="550.1" cy="280.8" r="1.45"/>
<circle cx="554.3" cy="293.5" r="1.45"/>
<circle cx="541.8" cy="286.5" r="1.45"/>
<circle cx="537.2" cy="268.5" r="1.45"/>
<circle cx="543.3" cy="291.7" r="1.45"/>
<circle cx="543.6" cy="268.1" r="1.45"/>
<circle cx="555.0" cy="276.8" r="1.45"/>
<circle cx="538.2" cy="265.9" r="1.45"/>
<circle cx="538.5" cy="284.2" r="1.45"/>
<circle cx="539.6" cy="305.7" r="1.45"/>
<circle cx="547.6" cy="304.5" r="1.45"/>
<circle cx="553.7" cy="292.2" r="1.45"/>
<circle cx="545.1" cy="288.1" r="1.45"/>
<circle cx="546.8" cy="296.5" r="1.45"/>
<circle cx="542.2" cy="284.3" r="1.45"/>
<circle cx="548.6" cy="272.5" r="1.45"/>
<circle cx="548.1" cy="297.1" r="1.45"/>
<circle cx="561.1" cy="308.1" r="1.45"/>
<circle cx="539.1" cy="302.3" r="1.45"/>
<circle cx="542.2" cy="299.9" r="1.45"/>
<circle cx="559.8" cy="279.8" r="1.45"/>
<circle cx="549.6" cy="292.0" r="1.45"/>
<circle cx="546.3" cy="281.4" r="1.45"/>
<circle cx="538.7" cy="288.8" r="1.45"/>
<circle cx="537.2" cy="303.6" r="1.45"/>
<circle cx="548.6" cy="284.5" r="1.45"/>
<circle cx="546.2" cy="305.0" r="1.45"/>
<circle cx="539.8" cy="294.7" r="1.45"/>
<circle cx="565.6" cy="276.2" r="1.45"/>
<circle cx="543.7" cy="298.2" r="1.45"/>
<circle cx="538.5" cy="305.7" r="1.45"/>
<circle cx="553.4" cy="300.4" r="1.45"/>
<circle cx="561.5" cy="284.8" r="1.45"/>
<circle cx="547.7" cy="287.2" r="1.45"/>
<circle cx="547.6" cy="274.8" r="1.45"/>
<circle cx="551.2" cy="285.0" r="1.45"/>
<circle cx="548.4" cy="302.6" r="1.45"/>
<circle cx="550.5" cy="278.3" r="1.45"/>
<circle cx="552.2" cy="272.5" r="1.45"/>
<circle cx="544.5" cy="278.4" r="1.45"/>
<circle cx="546.7" cy="279.6" r="1.45"/>
<circle cx="541.0" cy="273.3" r="1.45"/>
<circle cx="560.3" cy="282.7" r="1.45"/>
<circle cx="546.7" cy="305.5" r="1.45"/>
<circle cx="543.3" cy="298.5" r="1.45"/>
<circle cx="539.1" cy="285.8" r="1.45"/>
<circle cx="561.2" cy="287.4" r="1.45"/>
<circle cx="548.8" cy="291.2" r="1.45"/>
<circle cx="562.5" cy="301.2" r="1.45"/>
<circle cx="539.6" cy="287.3" r="1.45"/>
<circle cx="544.0" cy="297.4" r="1.45"/>
<circle cx="538.3" cy="302.4" r="1.45"/>
<circle cx="559.1" cy="272.6" r="1.45"/>
<circle cx="552.6" cy="296.6" r="1.45"/>
<circle cx="550.4" cy="275.6" r="1.45"/>
<circle cx="537.3" cy="278.9" r="1.45"/>
<circle cx="549.6" cy="306.9" r="1.45"/>
<circle cx="538.5" cy="284.6" r="1.45"/>
<circle cx="545.4" cy="272.8" r="1.45"/>
<circle cx="541.8" cy="286.3" r="1.45"/>
<circle cx="560.5" cy="286.9" r="1.45"/>
<circle cx="540.4" cy="298.7" r="1.45"/>
<circle cx="549.6" cy="287.2" r="1.45"/>
<circle cx="537.3" cy="292.5" r="1.45"/>
<circle cx="542.7" cy="296.4" r="1.45"/>
<circle cx="554.4" cy="260.7" r="1.45"/>
<circle cx="569.7" cy="282.5" r="1.45"/>
<circle cx="545.1" cy="305.1" r="1.45"/>
<circle cx="537.8" cy="281.9" r="1.45"/>
<circle cx="543.6" cy="298.4" r="1.45"/>
<circle cx="538.0" cy="271.1" r="1.45"/>
<circle cx="545.7" cy="280.1" r="1.45"/>
<circle cx="537.0" cy="274.1" r="1.45"/>
<circle cx="544.2" cy="298.1" r="1.45"/>
<circle cx="548.6" cy="272.1" r="1.45"/>
<circle cx="545.7" cy="260.9" r="1.45"/>
<circle cx="537.0" cy="270.5" r="1.45"/>
<circle cx="544.7" cy="285.0" r="1.45"/>
<circle cx="537.8" cy="281.3" r="1.45"/>
<circle cx="545.2" cy="295.7" r="1.45"/>
<circle cx="563.9" cy="266.1" r="1.45"/>
<circle cx="544.1" cy="283.3" r="1.45"/>
<circle cx="544.8" cy="290.8" r="1.45"/>
<circle cx="550.4" cy="296.5" r="1.45"/>
<circle cx="552.4" cy="294.2" r="1.45"/>
<circle cx="545.0" cy="297.5" r="1.45"/>
<circle cx="547.2" cy="282.7" r="1.45"/>
<circle cx="539.4" cy="274.6" r="1.45"/>
<circle cx="546.2" cy="277.3" r="1.45"/>
<circle cx="536.9" cy="271.4" r="1.45"/>
<circle cx="562.9" cy="242.7" r="1.45"/>
<circle cx="539.5" cy="287.4" r="1.45"/>
<circle cx="546.5" cy="298.6" r="1.45"/>
<circle cx="563.7" cy="304.1" r="1.45"/>
<circle cx="545.8" cy="290.3" r="1.45"/>
<circle cx="549.9" cy="276.3" r="1.45"/>
<circle cx="544.5" cy="271.2" r="1.45"/>
<circle cx="569.3" cy="294.9" r="1.45"/>
<circle cx="538.3" cy="276.8" r="1.45"/>
<circle cx="562.5" cy="295.0" r="1.45"/>
<circle cx="538.9" cy="284.2" r="1.45"/>
<circle cx="538.9" cy="281.0" r="1.45"/>
<circle cx="543.3" cy="286.8" r="1.45"/>
<circle cx="550.7" cy="302.1" r="1.45"/>
<circle cx="556.3" cy="295.3" r="1.45"/>
<circle cx="552.4" cy="293.8" r="1.45"/>
<circle cx="539.6" cy="290.7" r="1.45"/>
<circle cx="564.2" cy="303.4" r="1.45"/>
<circle cx="542.5" cy="299.5" r="1.45"/>
<circle cx="550.0" cy="287.5" r="1.45"/>
<circle cx="551.9" cy="287.9" r="1.45"/>
<circle cx="540.8" cy="267.3" r="1.45"/>
<circle cx="550.3" cy="278.5" r="1.45"/>
<circle cx="549.8" cy="306.6" r="1.45"/>
<circle cx="541.4" cy="278.6" r="1.45"/>
<circle cx="542.6" cy="271.8" r="1.45"/>
<circle cx="541.3" cy="306.5" r="1.45"/>
<circle cx="555.9" cy="275.2" r="1.45"/>
<circle cx="541.3" cy="284.3" r="1.45"/>
<circle cx="545.1" cy="303.5" r="1.45"/>
<circle cx="546.0" cy="278.5" r="1.45"/>
<circle cx="538.7" cy="295.2" r="1.45"/>
<circle cx="539.5" cy="270.2" r="1.45"/>
<circle cx="554.9" cy="306.0" r="1.45"/>
<circle cx="544.5" cy="276.0" r="1.45"/>
<circle cx="558.1" cy="285.3" r="1.45"/>
<circle cx="540.8" cy="305.1" r="1.45"/>
<circle cx="566.8" cy="277.8" r="1.45"/>
<circle cx="567.3" cy="267.7" r="1.45"/>
<circle cx="554.9" cy="281.7" r="1.45"/>
<circle cx="546.0" cy="272.3" r="1.45"/>
<circle cx="542.8" cy="273.0" r="1.45"/>
<circle cx="547.0" cy="268.5" r="1.45"/>
<circle cx="537.3" cy="297.9" r="1.45"/>
<circle cx="560.7" cy="265.5" r="1.45"/>
<circle cx="537.0" cy="283.9" r="1.45"/>
<circle cx="561.5" cy="295.5" r="1.45"/>
<circle cx="538.2" cy="269.9" r="1.45"/>
<circle cx="552.4" cy="276.3" r="1.45"/>
<circle cx="553.2" cy="307.3" r="1.45"/>
<circle cx="536.9" cy="299.8" r="1.45"/>
<circle cx="542.1" cy="302.5" r="1.45"/>
<circle cx="536.9" cy="304.7" r="1.45"/>
<circle cx="537.0" cy="294.2" r="1.45"/>
<circle cx="542.2" cy="296.0" r="1.45"/>
<circle cx="546.3" cy="305.1" r="1.45"/>
<circle cx="543.9" cy="306.6" r="1.45"/>
<circle cx="553.0" cy="263.3" r="1.45"/>
<circle cx="556.1" cy="291.0" r="1.45"/>
<circle cx="548.6" cy="286.4" r="1.45"/>
<circle cx="543.2" cy="284.3" r="1.45"/>
<circle cx="552.4" cy="288.3" r="1.45"/>
<circle cx="545.1" cy="304.9" r="1.45"/>
<circle cx="539.4" cy="301.0" r="1.45"/>
<circle cx="537.1" cy="286.0" r="1.45"/>
<circle cx="550.2" cy="306.2" r="1.45"/>
<circle cx="542.8" cy="300.8" r="1.45"/>
<circle cx="549.0" cy="306.7" r="1.45"/>
<circle cx="547.1" cy="277.0" r="1.45"/>
<circle cx="549.4" cy="281.4" r="1.45"/>
<circle cx="540.7" cy="297.2" r="1.45"/>
<circle cx="546.4" cy="299.8" r="1.45"/>
<circle cx="538.0" cy="304.6" r="1.45"/>
<circle cx="564.8" cy="282.2" r="1.45"/>
<circle cx="566.9" cy="296.8" r="1.45"/>
<circle cx="540.9" cy="288.2" r="1.45"/>
<circle cx="541.5" cy="270.9" r="1.45"/>
<circle cx="552.9" cy="276.3" r="1.45"/>
<circle cx="541.3" cy="281.4" r="1.45"/>
<circle cx="537.5" cy="304.1" r="1.45"/>
<circle cx="547.1" cy="298.2" r="1.45"/>
<circle cx="546.8" cy="271.0" r="1.45"/>
<circle cx="563.6" cy="268.1" r="1.45"/>
<circle cx="552.9" cy="277.5" r="1.45"/>
<circle cx="546.2" cy="292.5" r="1.45"/>
<circle cx="570.3" cy="279.1" r="1.45"/>
<circle cx="555.6" cy="271.4" r="1.45"/>
<circle cx="558.3" cy="258.9" r="1.45"/>
<circle cx="551.0" cy="289.4" r="1.45"/>
<circle cx="542.0" cy="267.4" r="1.45"/>
<circle cx="552.7" cy="272.8" r="1.45"/>
<circle cx="542.2" cy="298.5" r="1.45"/>
<circle cx="546.3" cy="286.6" r="1.45"/>
<circle cx="546.6" cy="272.1" r="1.45"/>
<circle cx="541.7" cy="285.5" r="1.45"/>
<circle cx="540.1" cy="297.7" r="1.45"/>
<circle cx="557.6" cy="273.3" r="1.45"/>
<circle cx="553.7" cy="261.3" r="1.45"/>
<circle cx="550.8" cy="274.5" r="1.45"/>
<circle cx="550.4" cy="274.9" r="1.45"/>
<circle cx="544.9" cy="307.8" r="1.45"/>
<circle cx="540.2" cy="279.6" r="1.45"/>
<circle cx="559.1" cy="278.0" r="1.45"/>
<circle cx="555.3" cy="270.5" r="1.45"/>
<circle cx="557.6" cy="306.0" r="1.45"/>
<circle cx="558.5" cy="261.0" r="1.45"/>
<circle cx="552.5" cy="286.5" r="1.45"/>
<circle cx="555.3" cy="292.3" r="1.45"/>
<circle cx="565.9" cy="282.7" r="1.45"/>
<circle cx="544.5" cy="293.8" r="1.45"/>
<circle cx="553.5" cy="298.2" r="1.45"/>
<circle cx="553.8" cy="275.4" r="1.45"/>
<circle cx="548.8" cy="295.6" r="1.45"/>
<circle cx="546.8" cy="291.5" r="1.45"/>
<circle cx="541.0" cy="288.6" r="1.45"/>
<circle cx="538.2" cy="301.4" r="1.45"/>
<circle cx="543.5" cy="274.1" r="1.45"/>
<circle cx="539.5" cy="281.6" r="1.45"/>
<circle cx="538.9" cy="289.5" r="1.45"/>
<circle cx="552.8" cy="271.8" r="1.45"/>
<circle cx="555.7" cy="264.0" r="1.45"/>
<circle cx="537.1" cy="295.6" r="1.45"/>
<circle cx="543.5" cy="261.1" r="1.45"/>
<circle cx="546.7" cy="284.5" r="1.45"/>
<circle cx="548.0" cy="272.6" r="1.45"/>
<circle cx="544.1" cy="299.8" r="1.45"/>
<circle cx="553.4" cy="298.6" r="1.45"/>
<circle cx="543.6" cy="295.9" r="1.45"/>
<circle cx="544.5" cy="268.4" r="1.45"/>
<circle cx="563.9" cy="259.9" r="1.45"/>
<circle cx="564.4" cy="286.1" r="1.45"/>
<circle cx="553.9" cy="280.5" r="1.45"/>
<circle cx="542.3" cy="302.4" r="1.45"/>
<circle cx="537.1" cy="270.5" r="1.45"/>
<circle cx="537.2" cy="271.0" r="1.45"/>
<circle cx="554.8" cy="289.6" r="1.45"/>
<circle cx="537.6" cy="303.8" r="1.45"/>
<circle cx="564.7" cy="306.0" r="1.45"/>
<circle cx="544.9" cy="296.0" r="1.45"/>
<circle cx="586.5" cy="307.8" r="1.45"/>
<circle cx="541.2" cy="270.5" r="1.45"/>
<circle cx="552.5" cy="306.6" r="1.45"/>
<circle cx="538.5" cy="287.8" r="1.45"/>
<circle cx="546.4" cy="269.5" r="1.45"/>
<circle cx="554.7" cy="290.7" r="1.45"/>
<circle cx="539.6" cy="267.8" r="1.45"/>
<circle cx="544.2" cy="242.8" r="1.45"/>
<circle cx="538.5" cy="294.8" r="1.45"/>
<circle cx="587.7" cy="287.6" r="1.45"/>
<circle cx="558.8" cy="271.3" r="1.45"/>
<circle cx="539.8" cy="263.5" r="1.45"/>
<circle cx="542.0" cy="301.9" r="1.45"/>
<circle cx="551.3" cy="295.7" r="1.45"/>
<circle cx="540.0" cy="305.2" r="1.45"/>
<circle cx="553.4" cy="304.8" r="1.45"/>
<circle cx="544.3" cy="264.7" r="1.45"/>
<circle cx="571.6" cy="294.8" r="1.45"/>
<circle cx="543.2" cy="277.7" r="1.45"/>
<circle cx="543.7" cy="279.6" r="1.45"/>
<circle cx="538.1" cy="298.0" r="1.45"/>
<circle cx="542.2" cy="267.6" r="1.45"/>
<circle cx="563.6" cy="299.6" r="1.45"/>
<circle cx="542.3" cy="273.8" r="1.45"/>
<circle cx="537.2" cy="307.8" r="1.45"/>
<circle cx="542.0" cy="270.9" r="1.45"/>
<circle cx="564.9" cy="287.5" r="1.45"/>
<circle cx="539.1" cy="264.7" r="1.45"/>
<circle cx="537.9" cy="277.4" r="1.45"/>
<circle cx="543.3" cy="297.8" r="1.45"/>
<circle cx="553.8" cy="300.1" r="1.45"/>
<circle cx="537.6" cy="282.7" r="1.45"/>
<circle cx="561.1" cy="304.7" r="1.45"/>
<circle cx="539.4" cy="276.9" r="1.45"/>
<circle cx="538.8" cy="293.0" r="1.45"/>
<circle cx="537.9" cy="288.3" r="1.45"/>
<circle cx="543.3" cy="274.9" r="1.45"/>
<circle cx="555.3" cy="293.4" r="1.45"/>
<circle cx="542.2" cy="285.3" r="1.45"/>
<circle cx="536.9" cy="296.1" r="1.45"/>
<circle cx="539.1" cy="303.9" r="1.45"/>
<circle cx="536.6" cy="275.3" r="1.45"/>
<circle cx="539.5" cy="303.7" r="1.45"/>
<circle cx="559.4" cy="291.2" r="1.45"/>
<circle cx="550.7" cy="297.4" r="1.45"/>
<circle cx="536.7" cy="268.6" r="1.45"/>
<circle cx="540.6" cy="301.9" r="1.45"/>
<circle cx="546.1" cy="268.6" r="1.45"/>
<circle cx="554.3" cy="242.4" r="1.45"/>
<circle cx="544.2" cy="295.9" r="1.45"/>
<circle cx="576.8" cy="273.4" r="1.45"/>
<circle cx="558.4" cy="276.8" r="1.45"/>
<circle cx="546.1" cy="281.7" r="1.45"/>
<circle cx="562.6" cy="272.9" r="1.45"/>
<circle cx="538.9" cy="284.4" r="1.45"/>
<circle cx="540.8" cy="272.3" r="1.45"/>
<circle cx="550.4" cy="280.9" r="1.45"/>
<circle cx="545.3" cy="295.9" r="1.45"/>
<circle cx="555.2" cy="291.7" r="1.45"/>
<circle cx="538.8" cy="289.0" r="1.45"/>
<circle cx="544.2" cy="299.9" r="1.45"/>
<circle cx="542.0" cy="294.6" r="1.45"/>
<circle cx="536.6" cy="288.7" r="1.45"/>
<circle cx="546.2" cy="291.6" r="1.45"/>
<circle cx="562.8" cy="298.2" r="1.45"/>
<circle cx="544.3" cy="287.8" r="1.45"/>
<circle cx="552.6" cy="291.5" r="1.45"/>
<circle cx="537.5" cy="278.0" r="1.45"/>
<circle cx="576.3" cy="292.8" r="1.45"/>
<circle cx="547.7" cy="300.3" r="1.45"/>
<circle cx="545.0" cy="286.3" r="1.45"/>
<circle cx="539.6" cy="297.0" r="1.45"/>
<circle cx="545.8" cy="269.4" r="1.45"/>
<circle cx="544.6" cy="301.9" r="1.45"/>
<circle cx="543.7" cy="270.6" r="1.45"/>
<circle cx="551.8" cy="283.2" r="1.45"/>
<circle cx="548.6" cy="258.5" r="1.45"/>
<circle cx="550.4" cy="279.7" r="1.45"/>
<circle cx="543.4" cy="272.3" r="1.45"/>
<circle cx="542.2" cy="286.2" r="1.45"/>
<circle cx="548.5" cy="300.5" r="1.45"/>
<circle cx="556.1" cy="276.1" r="1.45"/>
<circle cx="557.3" cy="279.4" r="1.45"/>
<circle cx="549.5" cy="280.8" r="1.45"/>
<circle cx="540.1" cy="274.5" r="1.45"/>
<circle cx="547.9" cy="300.6" r="1.45"/>
<circle cx="554.2" cy="274.8" r="1.45"/>
<circle cx="542.6" cy="270.9" r="1.45"/>
<circle cx="540.1" cy="274.0" r="1.45"/>
<circle cx="566.7" cy="233.2" r="1.45"/>
<circle cx="544.8" cy="273.7" r="1.45"/>
<circle cx="540.6" cy="265.1" r="1.45"/>
<circle cx="550.1" cy="271.3" r="1.45"/>
<circle cx="543.8" cy="303.1" r="1.45"/>
<circle cx="545.2" cy="301.5" r="1.45"/>
<circle cx="536.8" cy="303.7" r="1.45"/>
<circle cx="536.8" cy="296.3" r="1.45"/>
<circle cx="538.4" cy="285.0" r="1.45"/>
<circle cx="549.4" cy="300.8" r="1.45"/>
<circle cx="542.8" cy="284.9" r="1.45"/>
<circle cx="538.3" cy="274.7" r="1.45"/>
<circle cx="544.7" cy="298.4" r="1.45"/>
<circle cx="542.6" cy="275.5" r="1.45"/>
<circle cx="544.8" cy="298.2" r="1.45"/>
<circle cx="543.2" cy="303.0" r="1.45"/>
<circle cx="550.0" cy="306.0" r="1.45"/>
<circle cx="540.2" cy="279.6" r="1.45"/>
<circle cx="554.8" cy="278.1" r="1.45"/>
<circle cx="538.8" cy="307.4" r="1.45"/>
<circle cx="552.5" cy="280.6" r="1.45"/>
<circle cx="548.8" cy="286.3" r="1.45"/>
<circle cx="559.4" cy="265.4" r="1.45"/>
<circle cx="536.9" cy="303.2" r="1.45"/>
<circle cx="544.2" cy="266.7" r="1.45"/>
<circle cx="541.4" cy="262.6" r="1.45"/>
<circle cx="542.0" cy="277.5" r="1.45"/>
<circle cx="545.4" cy="269.2" r="1.45"/>
<circle cx="547.4" cy="284.1" r="1.45"/>
<circle cx="547.6" cy="304.7" r="1.45"/>
<circle cx="541.2" cy="301.5" r="1.45"/>
<circle cx="550.1" cy="293.3" r="1.45"/>
<circle cx="540.5" cy="299.1" r="1.45"/>
<circle cx="548.3" cy="265.9" r="1.45"/>
<circle cx="566.4" cy="305.8" r="1.45"/>
<circle cx="588.0" cy="292.7" r="1.45"/>
<circle cx="556.5" cy="278.2" r="1.45"/>
<circle cx="540.4" cy="265.2" r="1.45"/>
<circle cx="546.5" cy="298.2" r="1.45"/>
<circle cx="546.6" cy="300.2" r="1.45"/>
<circle cx="569.4" cy="286.5" r="1.45"/>
<circle cx="557.5" cy="280.5" r="1.45"/>
<circle cx="581.4" cy="279.0" r="1.45"/>
<circle cx="539.1" cy="263.9" r="1.45"/>
<circle cx="544.0" cy="248.4" r="1.45"/>
<circle cx="541.2" cy="285.4" r="1.45"/>
<circle cx="537.3" cy="280.1" r="1.45"/>
<circle cx="551.8" cy="276.4" r="1.45"/>
<circle cx="554.5" cy="300.5" r="1.45"/>
<circle cx="576.5" cy="292.7" r="1.45"/>
<circle cx="541.1" cy="267.2" r="1.45"/>
<circle cx="561.9" cy="265.6" r="1.45"/>
<circle cx="545.5" cy="291.4" r="1.45"/>
<circle cx="555.2" cy="276.3" r="1.45"/>
<circle cx="538.8" cy="295.4" r="1.45"/>
<circle cx="555.7" cy="284.7" r="1.45"/>
<circle cx="550.7" cy="269.4" r="1.45"/>
<circle cx="539.9" cy="269.8" r="1.45"/>
<circle cx="536.9" cy="286.4" r="1.45"/>
<circle cx="536.7" cy="294.4" r="1.45"/>
<circle cx="542.6" cy="292.3" r="1.45"/>
<circle cx="540.4" cy="299.1" r="1.45"/>
<circle cx="538.1" cy="286.9" r="1.45"/>
<circle cx="558.5" cy="305.1" r="1.45"/>
<circle cx="546.3" cy="275.7" r="1.45"/>
<circle cx="544.5" cy="306.9" r="1.45"/>
<circle cx="548.5" cy="273.1" r="1.45"/>
<circle cx="538.6" cy="268.6" r="1.45"/>
<circle cx="541.0" cy="279.4" r="1.45"/>
<circle cx="542.1" cy="303.6" r="1.45"/>
<circle cx="553.6" cy="295.6" r="1.45"/>
<circle cx="541.2" cy="290.7" r="1.45"/>
<circle cx="551.7" cy="285.8" r="1.45"/>
<circle cx="558.9" cy="305.3" r="1.45"/>
<circle cx="563.0" cy="263.4" r="1.45"/>
<circle cx="555.8" cy="294.2" r="1.45"/>
<circle cx="548.8" cy="290.9" r="1.45"/>
<circle cx="540.3" cy="298.5" r="1.45"/>
<circle cx="550.5" cy="286.1" r="1.45"/>
<circle cx="541.3" cy="272.1" r="1.45"/>
<circle cx="578.0" cy="267.3" r="1.45"/>
<circle cx="537.7" cy="307.3" r="1.45"/>
<circle cx="553.7" cy="287.5" r="1.45"/>
<circle cx="566.5" cy="300.2" r="1.45"/>
<circle cx="542.7" cy="298.6" r="1.45"/>
<circle cx="543.2" cy="296.1" r="1.45"/>
<circle cx="549.4" cy="270.7" r="1.45"/>
<circle cx="569.8" cy="268.3" r="1.45"/>
<circle cx="543.7" cy="305.2" r="1.45"/>
<circle cx="537.2" cy="293.5" r="1.45"/>
<circle cx="552.0" cy="277.4" r="1.45"/>
<circle cx="544.0" cy="276.0" r="1.45"/>
<circle cx="542.4" cy="297.2" r="1.45"/>
<circle cx="544.7" cy="267.5" r="1.45"/>
<circle cx="545.5" cy="289.2" r="1.45"/>
<circle cx="537.2" cy="272.0" r="1.45"/>
<circle cx="543.9" cy="289.6" r="1.45"/>
<circle cx="549.7" cy="299.2" r="1.45"/>
<circle cx="556.6" cy="303.6" r="1.45"/>
<circle cx="547.5" cy="275.9" r="1.45"/>
<circle cx="546.2" cy="306.7" r="1.45"/>
<circle cx="543.2" cy="271.1" r="1.45"/>
<circle cx="548.7" cy="306.3" r="1.45"/>
<circle cx="564.2" cy="281.9" r="1.45"/>
<circle cx="539.6" cy="263.2" r="1.45"/>
<circle cx="556.6" cy="296.5" r="1.45"/>
<circle cx="553.5" cy="299.4" r="1.45"/>
<circle cx="556.6" cy="294.4" r="1.45"/>
<circle cx="559.4" cy="304.8" r="1.45"/>
<circle cx="546.0" cy="302.4" r="1.45"/>
<circle cx="541.6" cy="275.4" r="1.45"/>
<circle cx="552.7" cy="280.4" r="1.45"/>
<circle cx="544.4" cy="265.3" r="1.45"/>
<circle cx="539.0" cy="307.5" r="1.45"/>
<circle cx="551.8" cy="307.5" r="1.45"/>
<circle cx="540.4" cy="307.5" r="1.45"/>
<circle cx="538.9" cy="307.5" r="1.45"/>
<circle cx="553.6" cy="307.5" r="1.45"/>
<circle cx="561.6" cy="307.5" r="1.45"/>
<circle cx="545.7" cy="307.5" r="1.45"/>
<circle cx="539.1" cy="307.5" r="1.45"/>
<circle cx="544.3" cy="307.5" r="1.45"/>
<circle cx="558.4" cy="307.5" r="1.45"/>
<circle cx="557.3" cy="307.5" r="1.45"/>
<circle cx="563.7" cy="307.5" r="1.45"/>
<circle cx="563.8" cy="307.5" r="1.45"/>
<circle cx="546.3" cy="307.5" r="1.45"/>
<circle cx="555.7" cy="307.5" r="1.45"/>
<circle cx="544.0" cy="307.5" r="1.45"/>
<circle cx="559.9" cy="307.5" r="1.45"/>
<circle cx="562.2" cy="307.5" r="1.45"/>
<circle cx="554.7" cy="307.5" r="1.45"/>
<circle cx="566.3" cy="307.5" r="1.45"/>
<circle cx="565.0" cy="307.5" r="1.45"/>
<circle cx="544.9" cy="307.5" r="1.45"/>
<circle cx="542.5" cy="307.5" r="1.45"/>
<circle cx="542.5" cy="307.5" r="1.45"/>
<circle cx="544.4" cy="307.5" r="1.45"/>
<circle cx="547.5" cy="307.5" r="1.45"/>
<circle cx="541.5" cy="307.5" r="1.45"/>
<circle cx="543.4" cy="307.5" r="1.45"/>
<circle cx="563.6" cy="307.5" r="1.45"/>
<circle cx="556.5" cy="307.5" r="1.45"/>
<circle cx="559.5" cy="218.8" r="1.45"/>
<circle cx="540.1" cy="232.1" r="1.45"/>
<circle cx="562.0" cy="236.3" r="1.45"/>
<circle cx="570.0" cy="233.6" r="1.45"/>
<circle cx="538.8" cy="240.5" r="1.45"/>
<circle cx="538.0" cy="243.3" r="1.45"/>
<circle cx="571.5" cy="244.1" r="1.45"/>
<circle cx="552.1" cy="250.0" r="1.45"/>
<circle cx="553.6" cy="248.3" r="1.45"/>
<circle cx="585.2" cy="285.2" r="1.45"/>
<circle cx="590.0" cy="296.3" r="1.45"/>
<circle cx="601.2" cy="299.5" r="1.45"/>
<circle cx="571.1" cy="307.3" r="1.45"/>
<circle cx="574.8" cy="299.5" r="1.45"/>
<circle cx="577.8" cy="293.8" r="1.45"/>
<circle cx="578.4" cy="285.2" r="1.45"/>
<circle cx="576.3" cy="260.1" r="1.45"/>
<circle cx="577.4" cy="268.5" r="1.45"/>
<circle cx="579.5" cy="275.7" r="1.45"/>
</g>
<line x1="535.5" y1="358.6" x2="535.5" y2="456.6" stroke="#000" stroke-width="1.2"/>
<line x1="534.9" y1="456.0" x2="603.7" y2="456.0" stroke="#000" stroke-width="1.2"/>
<line x1="532.5" y1="376.8" x2="535" y2="376.8" stroke="#333" stroke-width="1"/>
<text class="t axc" x="529.5" y="380.1" text-anchor="end">9e+04</text>
<line x1="532.5" y1="401.7" x2="535" y2="401.7" stroke="#333" stroke-width="1"/>
<text class="t axc" x="529.5" y="405.0" text-anchor="end">6e+04</text>
<line x1="532.5" y1="426.7" x2="535" y2="426.7" stroke="#333" stroke-width="1"/>
<text class="t axc" x="529.5" y="430.0" text-anchor="end">3e+04</text>
<line x1="532.5" y1="451.3" x2="535" y2="451.3" stroke="#333" stroke-width="1"/>
<text class="t axc" x="529.5" y="454.6" text-anchor="end">0e+00</text>
<line x1="538.2" y1="456.5" x2="538.2" y2="459.0" stroke="#333" stroke-width="1"/>
<text class="t axc" x="538.2" y="468.6" text-anchor="middle">0e+00</text>
<line x1="560.8" y1="456.5" x2="560.8" y2="459.0" stroke="#333" stroke-width="1"/>
<line x1="583.4" y1="456.5" x2="583.4" y2="459.0" stroke="#333" stroke-width="1"/>
<text class="t axc" x="583.4" y="468.6" text-anchor="middle">1e+05</text>
<text class="t at" x="565.5" y="481.5" text-anchor="middle">MERFISH pseudospot</text>
<g fill="#000" fill-opacity="0.60">
<circle cx="573.8" cy="362.1" r="1.45"/>
<circle cx="552.4" cy="382.7" r="1.45"/>
<circle cx="572.5" cy="395.6" r="1.45"/>
<circle cx="539.5" cy="405.0" r="1.45"/>
<circle cx="539.0" cy="421.8" r="1.45"/>
<circle cx="550.5" cy="424.3" r="1.45"/>
<circle cx="557.2" cy="424.3" r="1.45"/>
<circle cx="561.2" cy="425.6" r="1.45"/>
<circle cx="569.3" cy="429.1" r="1.45"/>
<circle cx="571.2" cy="429.1" r="1.45"/>
<circle cx="575.2" cy="421.8" r="1.45"/>
<circle cx="601.2" cy="432.3" r="1.45"/>
<circle cx="584.0" cy="435.8" r="1.45"/>
<circle cx="580.0" cy="440.1" r="1.45"/>
<circle cx="576.5" cy="443.0" r="1.45"/>
<circle cx="565.3" cy="451.3" r="1.45"/>
<circle cx="548.4" cy="451.3" r="1.45"/>
<circle cx="551.8" cy="451.3" r="1.45"/>
<circle cx="578.7" cy="451.3" r="1.45"/>
<circle cx="539.0" cy="431.0" r="1.45"/>
<circle cx="540.3" cy="436.3" r="1.45"/>
<circle cx="541.7" cy="437.9" r="1.45"/>
<circle cx="539.0" cy="441.2" r="1.45"/>
<circle cx="543.0" cy="442.5" r="1.45"/>
<circle cx="544.3" cy="445.2" r="1.45"/>
<circle cx="539.9" cy="448.0" r="1.45"/>
<circle cx="540.2" cy="449.0" r="1.45"/>
<circle cx="537.9" cy="448.9" r="1.45"/>
<circle cx="538.1" cy="450.0" r="1.45"/>
<circle cx="539.3" cy="449.3" r="1.45"/>
<circle cx="539.9" cy="449.3" r="1.45"/>
<circle cx="537.8" cy="446.6" r="1.45"/>
<circle cx="540.0" cy="450.9" r="1.45"/>
<circle cx="538.6" cy="444.3" r="1.45"/>
<circle cx="540.7" cy="450.9" r="1.45"/>
<circle cx="538.7" cy="448.8" r="1.45"/>
<circle cx="540.2" cy="444.3" r="1.45"/>
<circle cx="541.2" cy="446.1" r="1.45"/>
<circle cx="540.0" cy="448.6" r="1.45"/>
<circle cx="541.8" cy="446.0" r="1.45"/>
<circle cx="540.4" cy="449.8" r="1.45"/>
<circle cx="541.2" cy="450.4" r="1.45"/>
<circle cx="539.4" cy="448.9" r="1.45"/>
<circle cx="538.7" cy="449.9" r="1.45"/>
<circle cx="538.8" cy="450.5" r="1.45"/>
<circle cx="541.8" cy="449.2" r="1.45"/>
<circle cx="538.6" cy="450.2" r="1.45"/>
<circle cx="541.3" cy="448.7" r="1.45"/>
<circle cx="540.8" cy="449.6" r="1.45"/>
<circle cx="540.5" cy="449.6" r="1.45"/>
<circle cx="541.1" cy="446.1" r="1.45"/>
<circle cx="541.4" cy="449.9" r="1.45"/>
<circle cx="538.2" cy="451.1" r="1.45"/>
<circle cx="540.4" cy="448.3" r="1.45"/>
<circle cx="539.2" cy="450.4" r="1.45"/>
<circle cx="541.0" cy="450.9" r="1.45"/>
<circle cx="539.7" cy="449.9" r="1.45"/>
<circle cx="539.7" cy="446.3" r="1.45"/>
<circle cx="539.2" cy="450.5" r="1.45"/>
<circle cx="538.3" cy="445.9" r="1.45"/>
<circle cx="540.7" cy="449.7" r="1.45"/>
<circle cx="540.2" cy="450.0" r="1.45"/>
<circle cx="541.6" cy="446.1" r="1.45"/>
<circle cx="541.6" cy="450.4" r="1.45"/>
<circle cx="540.9" cy="450.4" r="1.45"/>
<circle cx="538.6" cy="449.1" r="1.45"/>
<circle cx="540.9" cy="450.8" r="1.45"/>
<circle cx="538.4" cy="448.0" r="1.45"/>
<circle cx="539.2" cy="449.0" r="1.45"/>
<circle cx="539.2" cy="445.5" r="1.45"/>
</g>
<text class="t" font-size="10" transform="translate(496.8,120.1) rotate(-90)" text-anchor="middle">Visium spot</text>
<text class="t" font-size="10" transform="translate(496.8,263.8) rotate(-90)" text-anchor="middle">Visium spot</text>
<text class="t" font-size="10" transform="translate(496.8,408.4) rotate(-90)" text-anchor="middle">Visium spot</text>
</g>

<!-- panel d -->
<g id="pd">
<path fill="#bebebe" d="M667.8,39 H755.3 V87.6 H761.8 V136.5 H781.7 V187 H778.8 V236 H788.7 V286 H761.8 V334.5 H788.7 V385 H688.7 V434 H667.8 Z"/>
<line x1="661.8" y1="20" x2="661.8" y2="454.1" stroke="#000" stroke-width="1.2"/>
<line x1="661.2" y1="453.5" x2="793.7" y2="453.5" stroke="#000" stroke-width="1.2"/>
<g stroke="#333" stroke-width="1">
<line x1="658.5" y1="39" x2="661.5" y2="39"/>
<line x1="658.5" y1="137" x2="661.5" y2="137"/>
<line x1="658.5" y1="236" x2="661.5" y2="236"/>
<line x1="658.5" y1="334.5" x2="661.5" y2="334.5"/>
<line x1="658.5" y1="433.6" x2="661.5" y2="433.6"/>
<line x1="668.6" y1="454" x2="668.6" y2="457"/>
<line x1="702.1" y1="454" x2="702.1" y2="457"/>
<line x1="735.7" y1="454" x2="735.7" y2="457"/>
<line x1="769.3" y1="454" x2="769.3" y2="457"/>
</g>
<g class="t ax" text-anchor="end">
<text x="657.5" y="42.5">1.00</text>
<text x="657.5" y="140.5">0.75</text>
<text x="657.5" y="239.5">0.50</text>
<text x="657.5" y="338">0.25</text>
<text x="657.5" y="437">0.00</text>
</g>
<g class="t ax" text-anchor="middle">
<text x="668.6" y="465">0</text>
<text x="702.1" y="465">10</text>
<text x="735.7" y="465">20</text>
<text x="769.3" y="465">30</text>
</g>
<text class="t at" x="732.3" y="476.5" text-anchor="middle">Count</text>
<text class="t" font-size="10" transform="translate(634.7,235.3) rotate(-90)" text-anchor="middle">Cosine Similarity</text>
<path stroke="#ff0000" stroke-width="3" fill="none" d="M663,73.3H674.3M685.2,73.3H696M778,73.3H789.5M663,135.4H674.3M685.2,135.4H696M778,135.4H789.5M663,314.5H674.3M685.2,314.5H696M778,314.5H789.5"/>
<g fill="#fff" stroke="#000" stroke-width="1.4">
<rect x="694.8" y="65.4" width="80.8" height="16" rx="3"/>
<rect x="694.6" y="127.5" width="80" height="16" rx="3"/>
<rect x="694.6" y="305.5" width="80.4" height="16" rx="3"/>
</g>
<g class="t" font-size="11.8" text-anchor="middle">
<text x="735" y="77.5"><tspan font-style="italic">Baiap2</tspan>: 0.91</text>
<text x="734.6" y="139.6"><tspan font-style="italic">Slc17a6</tspan>: 0.76</text>
<text x="734.8" y="317.6"><tspan font-style="italic">Gpr151</tspan>: 0.30</text>
</g>
</g>
</svg>
</body></html>
